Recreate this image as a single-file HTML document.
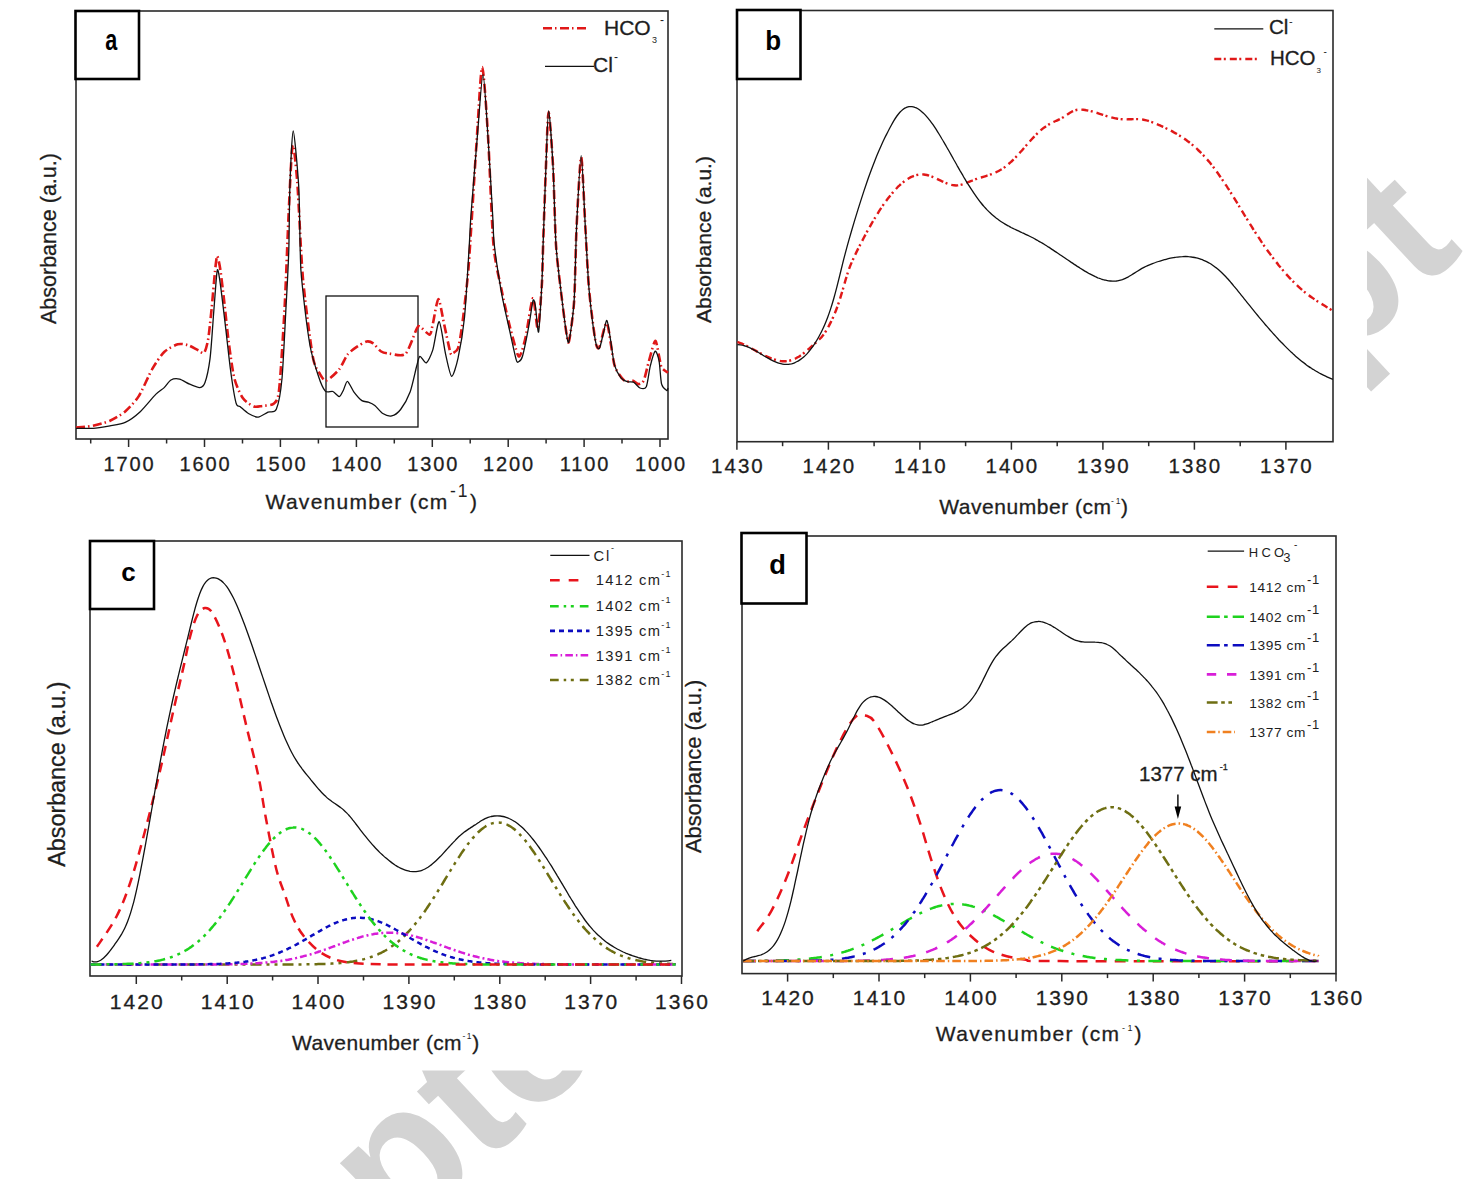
<!DOCTYPE html>
<html><head><meta charset="utf-8"><style>
html,body{margin:0;padding:0;background:#fff;width:1470px;height:1179px;overflow:hidden}
svg{display:block;font-family:"Liberation Sans",sans-serif}
text.t{stroke:#1e1e1e;stroke-width:0.3px}
</style></head><body>
<svg width="1470" height="1179" viewBox="0 0 1470 1179">
<rect width="1470" height="1179" fill="#fff"/>
<clipPath id="wmclip"><path clip-rule="evenodd" d="M0,0 H1470 V1179 H0 Z M0,0 H1367 V1070.6 H0 Z"/></clipPath><g clip-path="url(#wmclip)"><text transform="translate(68.7,1552.5) rotate(-43)" font-size="188.8" font-weight="700" fill="#d3d3d3" style="stroke:none">Accepted Manuscript</text></g>
<rect x="76.0" y="11.0" width="592.0" height="428.0" stroke="#2a2a2a" stroke-width="1.6" fill="none"/>
<line x1="128.6" y1="439.0" x2="128.6" y2="447.0" stroke="#2a2a2a" stroke-width="1.5" />
<line x1="204.5" y1="439.0" x2="204.5" y2="447.0" stroke="#2a2a2a" stroke-width="1.5" />
<line x1="280.4" y1="439.0" x2="280.4" y2="447.0" stroke="#2a2a2a" stroke-width="1.5" />
<line x1="356.4" y1="439.0" x2="356.4" y2="447.0" stroke="#2a2a2a" stroke-width="1.5" />
<line x1="432.3" y1="439.0" x2="432.3" y2="447.0" stroke="#2a2a2a" stroke-width="1.5" />
<line x1="508.2" y1="439.0" x2="508.2" y2="447.0" stroke="#2a2a2a" stroke-width="1.5" />
<line x1="584.1" y1="439.0" x2="584.1" y2="447.0" stroke="#2a2a2a" stroke-width="1.5" />
<line x1="660.0" y1="439.0" x2="660.0" y2="447.0" stroke="#2a2a2a" stroke-width="1.5" />
<line x1="90.7" y1="439.0" x2="90.7" y2="443.5" stroke="#2a2a2a" stroke-width="1.5" />
<line x1="166.6" y1="439.0" x2="166.6" y2="443.5" stroke="#2a2a2a" stroke-width="1.5" />
<line x1="242.5" y1="439.0" x2="242.5" y2="443.5" stroke="#2a2a2a" stroke-width="1.5" />
<line x1="318.4" y1="439.0" x2="318.4" y2="443.5" stroke="#2a2a2a" stroke-width="1.5" />
<line x1="394.3" y1="439.0" x2="394.3" y2="443.5" stroke="#2a2a2a" stroke-width="1.5" />
<line x1="470.2" y1="439.0" x2="470.2" y2="443.5" stroke="#2a2a2a" stroke-width="1.5" />
<line x1="546.1" y1="439.0" x2="546.1" y2="443.5" stroke="#2a2a2a" stroke-width="1.5" />
<line x1="622.0" y1="439.0" x2="622.0" y2="443.5" stroke="#2a2a2a" stroke-width="1.5" />
<text class="t" x="129.6" y="470.9" font-size="20" text-anchor="middle" font-weight="400" letter-spacing="1.87" fill="#1e1e1e" >1700</text>
<text class="t" x="205.5" y="470.9" font-size="20" text-anchor="middle" font-weight="400" letter-spacing="1.87" fill="#1e1e1e" >1600</text>
<text class="t" x="281.4" y="470.9" font-size="20" text-anchor="middle" font-weight="400" letter-spacing="1.87" fill="#1e1e1e" >1500</text>
<text class="t" x="357.3" y="470.9" font-size="20" text-anchor="middle" font-weight="400" letter-spacing="1.87" fill="#1e1e1e" >1400</text>
<text class="t" x="433.2" y="470.9" font-size="20" text-anchor="middle" font-weight="400" letter-spacing="1.87" fill="#1e1e1e" >1300</text>
<text class="t" x="509.1" y="470.9" font-size="20" text-anchor="middle" font-weight="400" letter-spacing="1.87" fill="#1e1e1e" >1200</text>
<text class="t" x="585.0" y="470.9" font-size="20" text-anchor="middle" font-weight="400" letter-spacing="1.87" fill="#1e1e1e" >1100</text>
<text class="t" x="660.9" y="470.9" font-size="20" text-anchor="middle" font-weight="400" letter-spacing="1.87" fill="#1e1e1e" >1000</text>
<text class="t" x="265.6" y="509" font-size="21" letter-spacing="1.28" fill="#1e1e1e">Wavenumber (cm</text>
<text x="450" y="497" font-size="17.5" letter-spacing="2" fill="#1e1e1e">-1</text>
<text class="t" x="477" y="509" font-size="21" text-anchor="end" fill="#1e1e1e">)</text>
<text class="t" transform="translate(56.3,324) rotate(-90)" font-size="21.5" letter-spacing="0" fill="#1e1e1e">Absorbance (a.u.)</text>
<rect x="75.5" y="11.0" width="63.5" height="68.0" stroke="#000" stroke-width="2.6" fill="#fff"/>
<text transform="translate(111.2,50.3) scale(0.83,1.16)" font-size="26" text-anchor="middle" font-weight="700" fill="#000">a</text>
<rect x="326.0" y="296.0" width="92.0" height="131.0" stroke="#111" stroke-width="1.3" fill="none"/>
<path d="M76.0,427.5 C78.1,427.3 88.8,426.7 93.0,425.8 C97.2,424.9 106.0,422.5 110.0,420.7 C114.0,418.9 121.6,414.5 125.2,411.4 C128.8,408.3 135.4,401.4 138.8,396.1 C142.2,390.8 149.1,374.4 152.3,368.9 C155.5,363.4 161.0,355.1 164.2,352.0 C167.4,348.9 174.8,345.2 177.8,344.3 C180.8,343.4 185.4,344.4 188.0,345.2 C190.6,345.9 196.2,349.4 198.2,350.3 C200.2,351.2 202.8,354.3 204.1,352.8 C205.4,351.3 207.4,344.0 208.3,338.4 C209.2,332.8 210.8,316.4 211.7,307.9 C212.5,299.4 214.4,277.0 215.1,270.5 C215.8,264.0 216.6,256.3 217.2,256.1 C217.8,255.9 219.4,263.8 220.2,268.8 C221.0,273.8 222.5,286.9 223.6,296.0 C224.7,305.1 227.3,331.5 228.7,341.8 C230.0,352.1 232.6,371.5 234.4,378.5 C236.2,385.5 240.4,394.6 242.8,398.1 C245.2,401.6 251.6,405.5 254.0,406.5 C256.4,407.5 259.9,406.2 262.4,405.9 C264.8,405.5 271.5,405.7 273.6,403.7 C275.7,401.7 277.7,401.9 279.1,389.7 C280.5,377.5 283.5,328.5 284.7,305.8 C285.9,283.1 287.9,228.0 288.9,207.9 C289.9,187.8 291.6,148.6 292.6,145.4 C293.7,142.2 296.0,166.1 297.3,182.7 C298.6,199.2 301.0,256.1 302.9,277.8 C304.8,299.5 310.6,344.2 312.7,356.2 C314.8,368.2 318.3,371.1 320.0,374.1 C321.7,377.1 324.0,381.1 326.4,380.5 C328.8,379.9 336.7,372.4 339.3,369.2 C341.9,366.0 345.2,357.5 347.4,354.7 C349.6,351.9 354.7,348.3 357.1,346.7 C359.5,345.1 364.7,341.9 366.7,341.5 C368.7,341.1 371.4,342.1 373.2,343.4 C375.0,344.6 379.2,350.2 381.2,351.5 C383.2,352.8 386.3,353.3 389.3,353.6 C392.3,353.9 402.0,357.0 405.4,353.9 C408.8,350.8 414.9,332.3 416.7,328.9 C418.5,325.5 418.3,325.8 419.9,326.5 C421.5,327.2 428.0,334.9 429.6,334.6 C431.2,334.3 431.7,328.5 432.8,324.1 C433.9,319.7 437.0,299.1 438.4,299.1 C439.8,299.1 442.6,317.4 444.1,324.1 C445.6,330.9 449.4,349.5 450.5,353.1 C451.6,356.7 452.2,353.6 453.2,353.0 C454.1,352.4 457.0,351.5 458.1,348.1 C459.2,344.7 460.9,334.5 462.1,325.6 C463.3,316.7 466.7,287.3 467.7,277.2 C468.7,267.1 468.9,262.7 470.1,245.0 C471.3,227.3 475.5,157.8 477.0,135.6 C478.5,113.4 480.8,67.1 482.2,67.1 C483.6,67.1 486.6,113.4 488.0,135.6 C489.4,157.8 491.8,225.7 493.5,245.0 C495.2,264.3 499.6,280.0 501.6,290.1 C503.6,300.2 507.6,317.5 509.6,325.6 C511.6,333.7 516.3,351.1 517.7,354.6 C519.1,358.1 519.9,355.9 520.9,353.7 C521.9,351.5 524.2,343.7 525.7,336.8 C527.2,329.9 531.5,299.2 533.0,298.2 C534.5,297.2 536.7,330.4 537.8,328.8 C538.9,327.2 541.1,295.8 541.8,285.3 C542.5,274.8 542.6,259.7 543.1,245.0 C543.6,230.3 545.2,184.4 545.9,167.8 C546.6,151.2 547.7,112.0 548.6,112.0 C549.5,112.0 552.2,151.2 553.1,167.8 C554.0,184.4 555.0,229.3 556.0,245.0 C557.0,260.7 560.0,282.6 561.2,293.3 C562.5,304.0 565.0,324.3 566.0,330.4 C567.0,336.4 567.9,345.3 568.9,341.7 C569.9,338.1 573.1,315.8 574.1,301.4 C575.1,287.0 575.7,244.4 576.6,226.3 C577.5,208.2 580.1,157.0 581.2,157.0 C582.3,157.0 584.3,209.7 585.3,226.3 C586.3,242.9 587.8,275.7 589.1,290.0 C590.4,304.3 594.1,333.7 595.4,340.9 C596.7,348.1 597.9,349.5 599.3,347.3 C600.7,345.1 605.0,320.9 606.9,323.1 C608.8,325.3 612.3,357.9 614.5,365.1 C616.7,372.3 622.5,379.1 624.7,381.0 C626.9,382.9 630.5,380.2 632.3,380.6 C634.0,381.0 637.3,384.1 638.7,384.1 C640.1,384.1 642.5,383.2 643.8,380.3 C645.1,377.4 647.5,366.1 648.9,361.2 C650.3,356.3 653.9,341.5 655.2,340.9 C656.5,340.3 658.3,352.9 659.1,356.2 C659.9,359.5 660.5,365.5 661.6,367.6 C662.7,369.7 667.2,372.1 668.0,372.7" fill="none" stroke="#e01818" stroke-width="2.6" stroke-dasharray="9 3 1.5 3.5" stroke-linejoin="round" />
<path d="M76.0,428.3 C78.1,428.3 88.8,428.6 93.0,428.3 C97.2,428.0 106.0,426.5 110.0,425.8 C114.0,425.1 121.4,424.2 125.2,422.4 C129.0,420.6 136.7,414.9 140.5,411.4 C144.3,407.9 152.7,397.4 155.7,394.4 C158.7,391.4 162.3,389.4 164.2,387.6 C166.1,385.8 169.1,381.1 171.0,380.0 C172.9,378.9 177.2,378.6 179.5,379.1 C181.8,379.6 187.1,383.1 189.7,384.2 C192.2,385.3 198.0,387.8 199.9,387.6 C201.8,387.4 203.7,386.1 205.0,382.5 C206.3,378.9 208.9,367.1 210.0,358.8 C211.1,350.5 212.7,325.9 213.4,316.3 C214.2,306.8 215.5,288.2 216.0,282.4 C216.5,276.6 217.1,268.8 217.7,269.7 C218.3,270.6 220.1,282.3 221.0,289.2 C221.9,296.1 224.1,314.8 225.3,324.8 C226.5,334.8 229.1,359.2 230.4,369.0 C231.7,378.8 234.8,398.2 236.0,402.9 C237.2,407.6 238.4,405.2 240.0,406.5 C241.6,407.8 246.1,412.2 248.4,413.5 C250.7,414.8 255.8,417.3 258.2,417.1 C260.6,416.9 265.7,413.1 268.0,412.1 C270.3,411.1 274.6,413.5 276.3,409.3 C278.1,405.1 280.8,391.4 282.0,378.5 C283.2,365.6 285.2,321.9 286.1,305.8 C287.0,289.7 288.3,264.9 288.8,250.0 C289.3,235.1 289.3,201.1 289.9,186.2 C290.4,171.3 292.1,131.0 293.2,131.0 C294.3,131.0 297.8,171.3 298.7,186.2 C299.6,201.1 299.8,238.6 300.2,250.0 C300.6,261.4 300.3,265.9 301.5,277.8 C302.7,289.7 307.8,332.8 309.9,345.0 C312.0,357.2 316.4,369.9 318.3,375.7 C320.2,381.5 323.5,389.1 325.3,391.1 C327.1,393.1 331.1,390.8 332.9,391.5 C334.6,392.2 338.0,396.8 339.3,396.6 C340.6,396.4 342.4,392.1 343.4,390.2 C344.4,388.3 346.1,381.1 347.4,381.3 C348.7,381.5 352.0,389.4 353.8,391.8 C355.6,394.2 360.1,399.3 361.9,400.6 C363.7,401.9 366.7,401.6 368.3,402.2 C369.9,402.8 373.0,404.1 374.8,405.5 C376.6,406.9 380.7,412.2 382.8,413.5 C384.9,414.8 389.5,416.4 391.7,415.9 C393.9,415.4 398.3,412.5 400.6,409.5 C402.9,406.5 408.2,397.2 410.2,391.8 C412.2,386.4 415.5,370.4 416.7,366.0 C417.9,361.6 418.7,356.7 419.9,356.3 C421.1,355.9 424.7,363.6 426.3,362.8 C427.9,362.0 431.2,355.0 432.8,349.9 C434.4,344.8 437.6,321.1 439.2,321.7 C440.8,322.3 444.1,347.9 445.7,354.7 C447.2,361.5 450.1,375.9 451.6,376.3 C453.2,376.7 456.5,365.2 458.1,357.8 C459.7,350.4 463.1,331.6 464.5,317.5 C465.9,303.4 468.5,257.7 469.3,245.0 C470.1,232.3 469.9,229.7 470.9,216.0 C471.9,202.3 475.9,153.3 477.4,135.6 C478.9,117.9 481.7,74.3 483.0,74.3 C484.3,74.3 486.7,117.9 487.9,135.6 C489.1,153.3 491.9,202.3 492.7,216.0 C493.5,229.7 493.2,235.3 494.3,245.0 C495.4,254.7 499.7,282.6 501.6,293.3 C503.5,304.0 507.8,322.1 509.6,330.4 C511.4,338.7 515.0,355.5 516.1,359.4 C517.2,363.3 517.7,362.2 518.5,361.8 C519.3,361.4 521.2,360.7 522.5,356.2 C523.8,351.7 527.6,332.6 528.9,325.6 C530.2,318.7 532.2,303.0 533.0,300.6 C533.8,298.2 534.7,302.3 535.4,306.2 C536.1,310.1 537.8,334.6 538.6,332.0 C539.4,329.4 541.2,296.2 541.8,285.3 C542.4,274.4 542.6,259.7 543.1,245.0 C543.6,230.3 545.2,184.6 545.9,167.8 C546.6,151.0 547.7,110.6 548.6,110.6 C549.5,110.6 552.2,151.0 553.1,167.8 C554.0,184.6 555.0,229.3 556.0,245.0 C557.0,260.7 560.0,282.6 561.2,293.3 C562.5,304.0 565.0,324.3 566.0,330.4 C567.0,336.4 567.9,345.3 568.9,341.7 C569.9,338.1 573.1,315.8 574.1,301.4 C575.1,287.0 575.7,244.5 576.6,226.3 C577.5,208.1 580.1,155.7 581.2,155.7 C582.3,155.7 584.3,209.5 585.3,226.3 C586.3,243.1 587.8,275.7 589.1,290.0 C590.4,304.3 594.1,333.6 595.4,340.9 C596.7,348.2 598.3,349.3 599.3,348.5 C600.3,347.7 602.1,338.0 603.1,334.5 C604.1,331.0 605.9,319.7 606.9,320.5 C607.9,321.3 609.8,335.3 610.7,340.9 C611.7,346.5 613.2,360.5 614.5,365.1 C615.8,369.7 619.3,375.7 620.9,377.8 C622.5,379.9 625.7,381.1 627.3,381.6 C628.9,382.2 632.0,381.4 633.6,382.2 C635.2,383.0 638.4,387.4 640.0,388.0 C641.6,388.6 645.0,389.4 646.3,386.7 C647.6,384.0 649.1,370.8 650.2,366.3 C651.3,361.9 654.1,351.7 655.2,351.1 C656.3,350.5 658.3,357.1 659.1,361.2 C659.9,365.3 660.6,380.4 661.6,384.1 C662.6,387.8 665.9,390.0 666.7,390.5 C667.5,391.0 667.8,388.3 668.0,388.0" fill="none" stroke="#111" stroke-width="1.3"  stroke-linejoin="round" />
<line x1="543.0" y1="28.3" x2="589.0" y2="28.3" stroke="#e01818" stroke-width="2.6" stroke-dasharray="9 3 1.5 3.5"/>
<text class="t" x="604.0" y="34.5" font-size="21" text-anchor="start" font-weight="400" letter-spacing="0" fill="#1e1e1e" >HCO</text>
<text x="652.0" y="43.0" font-size="9" text-anchor="start" font-weight="400" letter-spacing="0" fill="#1e1e1e" >3</text>
<text x="660.0" y="24.0" font-size="12" text-anchor="start" font-weight="400" letter-spacing="0" fill="#1e1e1e" >-</text>
<line x1="545.0" y1="66.3" x2="594.0" y2="66.3" stroke="#111" stroke-width="1.3" />
<text class="t" x="593.0" y="71.6" font-size="21" text-anchor="start" font-weight="400" letter-spacing="0" fill="#1e1e1e" >Cl</text>
<text x="614.0" y="61.0" font-size="12" text-anchor="start" font-weight="400" letter-spacing="0" fill="#1e1e1e" >-</text>
<rect x="737.0" y="10.5" width="596.0" height="431.2" stroke="#2a2a2a" stroke-width="1.6" fill="none"/>
<line x1="736.9" y1="441.7" x2="736.9" y2="449.7" stroke="#2a2a2a" stroke-width="1.5" />
<line x1="828.4" y1="441.7" x2="828.4" y2="449.7" stroke="#2a2a2a" stroke-width="1.5" />
<line x1="919.9" y1="441.7" x2="919.9" y2="449.7" stroke="#2a2a2a" stroke-width="1.5" />
<line x1="1011.4" y1="441.7" x2="1011.4" y2="449.7" stroke="#2a2a2a" stroke-width="1.5" />
<line x1="1102.9" y1="441.7" x2="1102.9" y2="449.7" stroke="#2a2a2a" stroke-width="1.5" />
<line x1="1194.4" y1="441.7" x2="1194.4" y2="449.7" stroke="#2a2a2a" stroke-width="1.5" />
<line x1="1285.9" y1="441.7" x2="1285.9" y2="449.7" stroke="#2a2a2a" stroke-width="1.5" />
<line x1="782.6" y1="441.7" x2="782.6" y2="446.2" stroke="#2a2a2a" stroke-width="1.5" />
<line x1="874.1" y1="441.7" x2="874.1" y2="446.2" stroke="#2a2a2a" stroke-width="1.5" />
<line x1="965.6" y1="441.7" x2="965.6" y2="446.2" stroke="#2a2a2a" stroke-width="1.5" />
<line x1="1057.2" y1="441.7" x2="1057.2" y2="446.2" stroke="#2a2a2a" stroke-width="1.5" />
<line x1="1148.7" y1="441.7" x2="1148.7" y2="446.2" stroke="#2a2a2a" stroke-width="1.5" />
<line x1="1240.2" y1="441.7" x2="1240.2" y2="446.2" stroke="#2a2a2a" stroke-width="1.5" />
<text class="t" x="737.9" y="472.6" font-size="20.5" text-anchor="middle" font-weight="400" letter-spacing="2.0" fill="#1e1e1e" >1430</text>
<text class="t" x="829.4" y="472.6" font-size="20.5" text-anchor="middle" font-weight="400" letter-spacing="2.0" fill="#1e1e1e" >1420</text>
<text class="t" x="920.9" y="472.6" font-size="20.5" text-anchor="middle" font-weight="400" letter-spacing="2.0" fill="#1e1e1e" >1410</text>
<text class="t" x="1012.4" y="472.6" font-size="20.5" text-anchor="middle" font-weight="400" letter-spacing="2.0" fill="#1e1e1e" >1400</text>
<text class="t" x="1103.9" y="472.6" font-size="20.5" text-anchor="middle" font-weight="400" letter-spacing="2.0" fill="#1e1e1e" >1390</text>
<text class="t" x="1195.4" y="472.6" font-size="20.5" text-anchor="middle" font-weight="400" letter-spacing="2.0" fill="#1e1e1e" >1380</text>
<text class="t" x="1286.9" y="472.6" font-size="20.5" text-anchor="middle" font-weight="400" letter-spacing="2.0" fill="#1e1e1e" >1370</text>
<text class="t" x="939.3" y="514.3" font-size="21" letter-spacing="0.53" fill="#1e1e1e">Wavenumber (cm</text>
<text x="1111" y="504.3" font-size="8.5" letter-spacing="2" fill="#1e1e1e">-1</text>
<text class="t" x="1127.9" y="514.3" font-size="21" text-anchor="end" fill="#1e1e1e">)</text>
<text class="t" transform="translate(711.4,323) rotate(-90)" font-size="21" fill="#1e1e1e">Absorbance (a.u.)</text>
<path d="M737.5,341.9 C738.0,342.1 739.5,342.6 740.5,343.0 C741.5,343.4 742.5,343.9 743.5,344.3 C744.5,344.8 745.5,345.3 746.5,345.8 C747.5,346.3 748.5,346.8 749.5,347.4 C750.5,347.9 751.5,348.4 752.5,349.0 C753.5,349.5 754.5,350.1 755.5,350.6 C756.5,351.2 757.5,351.8 758.5,352.3 C759.6,352.8 760.6,353.4 761.6,353.9 C762.6,354.4 763.6,355.0 764.6,355.5 C765.6,356.0 766.6,356.4 767.6,356.9 C768.6,357.4 769.6,357.8 770.6,358.2 C771.6,358.6 772.6,359.0 773.6,359.3 C774.6,359.6 775.6,359.9 776.6,360.2 C777.6,360.4 778.6,360.6 779.6,360.8 C780.6,361.0 781.6,361.1 782.6,361.2 C783.6,361.2 784.6,361.2 785.6,361.2 C786.6,361.1 787.6,361.0 788.6,360.8 C789.6,360.7 790.6,360.4 791.6,360.1 C792.6,359.8 793.6,359.4 794.6,358.9 C795.6,358.5 796.6,357.9 797.6,357.3 C798.6,356.8 799.6,356.1 800.6,355.4 C801.7,354.7 802.7,354.0 803.7,353.2 C804.7,352.4 805.7,351.6 806.7,350.8 C807.7,349.9 808.7,349.0 809.7,348.2 C810.7,347.3 811.7,346.4 812.7,345.5 C813.7,344.6 814.7,343.7 815.7,342.8 C816.7,341.9 817.7,341.0 818.7,340.0 C819.7,339.0 820.7,338.1 821.7,336.9 C822.7,335.7 823.7,334.5 824.7,333.0 C825.7,331.6 826.7,329.9 827.7,328.2 C828.7,326.4 829.7,324.4 830.7,322.4 C831.7,320.4 832.7,318.2 833.7,315.9 C834.7,313.6 835.7,311.2 836.7,308.5 C837.7,305.9 838.7,303.0 839.7,299.9 C840.7,296.8 841.7,293.3 842.7,289.9 C843.7,286.4 844.8,282.6 845.8,279.2 C846.8,275.9 847.8,272.5 848.8,269.6 C849.8,266.8 850.8,264.4 851.8,262.1 C852.8,259.7 853.8,257.7 854.8,255.6 C855.8,253.4 856.8,251.4 857.8,249.4 C858.8,247.4 859.8,245.5 860.8,243.5 C861.8,241.6 862.8,239.7 863.8,237.8 C864.8,235.9 865.8,234.0 866.8,232.2 C867.8,230.4 868.8,228.6 869.8,226.8 C870.8,225.0 871.8,223.3 872.8,221.5 C873.8,219.8 874.8,218.2 875.8,216.5 C876.8,214.9 877.8,213.3 878.8,211.7 C879.8,210.1 880.8,208.6 881.8,207.1 C882.8,205.6 883.8,204.1 884.8,202.7 C885.8,201.3 886.9,199.9 887.9,198.6 C888.9,197.3 889.9,196.0 890.9,194.8 C891.9,193.5 892.9,192.4 893.9,191.2 C894.9,190.1 895.9,189.0 896.9,188.0 C897.9,186.9 898.9,186.0 899.9,185.0 C900.9,184.1 901.9,183.2 902.9,182.4 C903.9,181.6 904.9,180.8 905.9,180.1 C906.9,179.4 907.9,178.8 908.9,178.2 C909.9,177.6 910.9,177.1 911.9,176.7 C912.9,176.2 913.9,175.8 914.9,175.5 C915.9,175.2 916.9,174.9 917.9,174.8 C918.9,174.6 919.9,174.5 920.9,174.4 C921.9,174.4 922.9,174.4 923.9,174.5 C924.9,174.6 925.9,174.8 926.9,175.0 C927.9,175.3 929.0,175.6 930.0,175.9 C931.0,176.3 932.0,176.7 933.0,177.1 C934.0,177.5 935.0,178.0 936.0,178.4 C937.0,178.9 938.0,179.4 939.0,179.9 C940.0,180.4 941.0,180.9 942.0,181.3 C943.0,181.8 944.0,182.3 945.0,182.7 C946.0,183.1 947.0,183.5 948.0,183.9 C949.0,184.2 950.0,184.6 951.0,184.8 C952.0,185.0 953.0,185.2 954.0,185.3 C955.0,185.4 956.0,185.5 957.0,185.4 C958.0,185.4 959.0,185.2 960.0,185.0 C961.0,184.8 962.0,184.5 963.0,184.2 C964.0,183.9 965.0,183.5 966.0,183.1 C967.0,182.7 968.0,182.3 969.0,181.8 C970.0,181.4 971.0,181.0 972.1,180.6 C973.1,180.2 974.1,179.8 975.1,179.5 C976.1,179.1 977.1,178.8 978.1,178.4 C979.1,178.1 980.1,177.8 981.1,177.5 C982.1,177.2 983.1,176.9 984.1,176.6 C985.1,176.3 986.1,176.0 987.1,175.6 C988.1,175.3 989.1,175.0 990.1,174.6 C991.1,174.3 992.1,173.9 993.1,173.5 C994.1,173.1 995.1,172.7 996.1,172.2 C997.1,171.8 998.1,171.3 999.1,170.7 C1000.1,170.2 1001.1,169.6 1002.1,169.0 C1003.1,168.3 1004.1,167.7 1005.1,166.9 C1006.1,166.2 1007.1,165.4 1008.1,164.5 C1009.1,163.7 1010.1,162.7 1011.1,161.8 C1012.1,160.9 1013.1,159.8 1014.2,158.8 C1015.2,157.8 1016.2,156.7 1017.2,155.7 C1018.2,154.6 1019.2,153.5 1020.2,152.3 C1021.2,151.2 1022.2,150.1 1023.2,148.9 C1024.2,147.8 1025.2,146.6 1026.2,145.5 C1027.2,144.4 1028.2,143.2 1029.2,142.1 C1030.2,141.0 1031.2,139.9 1032.2,138.8 C1033.2,137.7 1034.2,136.6 1035.2,135.6 C1036.2,134.6 1037.2,133.6 1038.2,132.6 C1039.2,131.7 1040.2,130.7 1041.2,129.9 C1042.2,129.0 1043.2,128.2 1044.2,127.5 C1045.2,126.7 1046.2,126.0 1047.2,125.4 C1048.2,124.8 1049.2,124.2 1050.2,123.7 C1051.2,123.2 1052.2,122.7 1053.2,122.2 C1054.2,121.7 1055.2,121.3 1056.2,120.8 C1057.3,120.4 1058.3,119.9 1059.3,119.4 C1060.3,118.9 1061.3,118.4 1062.3,117.8 C1063.3,117.2 1064.3,116.5 1065.3,115.9 C1066.3,115.2 1067.3,114.5 1068.3,113.9 C1069.3,113.2 1070.3,112.6 1071.3,112.0 C1072.3,111.5 1073.3,111.0 1074.3,110.6 C1075.3,110.3 1076.3,110.0 1077.3,109.8 C1078.3,109.7 1079.3,109.6 1080.3,109.6 C1081.3,109.6 1082.3,109.7 1083.3,109.8 C1084.3,109.9 1085.3,110.0 1086.3,110.2 C1087.3,110.3 1088.3,110.6 1089.3,110.8 C1090.3,111.0 1091.3,111.3 1092.3,111.5 C1093.3,111.8 1094.3,112.1 1095.3,112.4 C1096.3,112.7 1097.3,113.0 1098.3,113.3 C1099.4,113.7 1100.4,114.0 1101.4,114.3 C1102.4,114.6 1103.4,115.0 1104.4,115.3 C1105.4,115.6 1106.4,116.0 1107.4,116.3 C1108.4,116.6 1109.4,116.9 1110.4,117.1 C1111.4,117.4 1112.4,117.7 1113.4,117.9 C1114.4,118.1 1115.4,118.4 1116.4,118.5 C1117.4,118.7 1118.4,118.9 1119.4,119.0 C1120.4,119.1 1121.4,119.2 1122.4,119.3 C1123.4,119.4 1124.4,119.4 1125.4,119.4 C1126.4,119.4 1127.4,119.4 1128.4,119.3 C1129.4,119.3 1130.4,119.3 1131.4,119.2 C1132.4,119.2 1133.4,119.1 1134.4,119.1 C1135.4,119.1 1136.4,119.1 1137.4,119.1 C1138.4,119.1 1139.4,119.1 1140.4,119.2 C1141.4,119.3 1142.5,119.5 1143.5,119.7 C1144.5,119.9 1145.5,120.1 1146.5,120.4 C1147.5,120.6 1148.5,120.9 1149.5,121.3 C1150.5,121.6 1151.5,122.0 1152.5,122.3 C1153.5,122.7 1154.5,123.1 1155.5,123.5 C1156.5,124.0 1157.5,124.4 1158.5,124.8 C1159.5,125.2 1160.5,125.7 1161.5,126.1 C1162.5,126.6 1163.5,127.0 1164.5,127.5 C1165.5,128.0 1166.5,128.5 1167.5,128.9 C1168.5,129.4 1169.5,129.9 1170.5,130.5 C1171.5,131.0 1172.5,131.5 1173.5,132.1 C1174.5,132.6 1175.5,133.2 1176.5,133.8 C1177.5,134.4 1178.5,135.0 1179.5,135.6 C1180.5,136.2 1181.5,136.9 1182.5,137.6 C1183.5,138.2 1184.6,138.9 1185.6,139.6 C1186.6,140.3 1187.6,141.1 1188.6,141.8 C1189.6,142.6 1190.6,143.4 1191.6,144.2 C1192.6,145.0 1193.6,145.9 1194.6,146.8 C1195.6,147.6 1196.6,148.5 1197.6,149.5 C1198.6,150.4 1199.6,151.4 1200.6,152.4 C1201.6,153.4 1202.6,154.4 1203.6,155.5 C1204.6,156.5 1205.6,157.7 1206.6,158.8 C1207.6,159.9 1208.6,161.1 1209.6,162.3 C1210.6,163.6 1211.6,164.8 1212.6,166.1 C1213.6,167.4 1214.6,168.7 1215.6,170.1 C1216.6,171.5 1217.6,172.9 1218.6,174.3 C1219.6,175.7 1220.6,177.2 1221.6,178.6 C1222.6,180.1 1223.6,181.6 1224.6,183.1 C1225.6,184.7 1226.7,186.2 1227.7,187.8 C1228.7,189.3 1229.7,190.9 1230.7,192.5 C1231.7,194.1 1232.7,195.7 1233.7,197.3 C1234.7,199.0 1235.7,200.6 1236.7,202.2 C1237.7,203.9 1238.7,205.5 1239.7,207.1 C1240.7,208.8 1241.7,210.4 1242.7,212.1 C1243.7,213.7 1244.7,215.4 1245.7,217.0 C1246.7,218.6 1247.7,220.3 1248.7,221.9 C1249.7,223.5 1250.7,225.1 1251.7,226.7 C1252.7,228.3 1253.7,229.9 1254.7,231.5 C1255.7,233.1 1256.7,234.6 1257.7,236.1 C1258.7,237.7 1259.7,239.2 1260.7,240.7 C1261.7,242.2 1262.7,243.7 1263.7,245.1 C1264.7,246.6 1265.7,248.0 1266.7,249.4 C1267.7,250.8 1268.7,252.2 1269.8,253.6 C1270.8,255.0 1271.8,256.3 1272.8,257.6 C1273.8,259.0 1274.8,260.3 1275.8,261.6 C1276.8,262.8 1277.8,264.1 1278.8,265.4 C1279.8,266.6 1280.8,267.8 1281.8,269.0 C1282.8,270.2 1283.8,271.4 1284.8,272.5 C1285.8,273.7 1286.8,274.8 1287.8,275.9 C1288.8,277.0 1289.8,278.1 1290.8,279.1 C1291.8,280.2 1292.8,281.2 1293.8,282.2 C1294.8,283.2 1295.8,284.2 1296.8,285.1 C1297.8,286.1 1298.8,287.0 1299.8,287.9 C1300.8,288.8 1301.8,289.7 1302.8,290.5 C1303.8,291.4 1304.8,292.2 1305.8,293.0 C1306.8,293.8 1307.8,294.6 1308.8,295.3 C1309.8,296.1 1310.8,296.8 1311.9,297.5 C1312.9,298.2 1313.9,298.9 1314.9,299.6 C1315.9,300.3 1316.9,300.9 1317.9,301.6 C1318.9,302.2 1319.9,302.9 1320.9,303.5 C1321.9,304.1 1322.9,304.7 1323.9,305.3 C1324.9,306.0 1325.9,306.6 1326.9,307.2 C1327.9,307.8 1328.9,308.4 1329.9,309.0 C1330.9,309.6 1332.4,310.5 1332.9,310.8" fill="none" stroke="#e01818" stroke-width="2.4" stroke-dasharray="7 2.5 2 4" stroke-linejoin="round" />
<path d="M737.5,344.6 C738.0,344.6 739.5,344.7 740.5,344.8 C741.5,345.0 742.5,345.2 743.5,345.5 C744.5,345.7 745.5,346.1 746.5,346.4 C747.5,346.8 748.5,347.2 749.5,347.7 C750.5,348.1 751.5,348.6 752.5,349.2 C753.5,349.7 754.5,350.2 755.5,350.8 C756.5,351.4 757.5,351.9 758.5,352.5 C759.6,353.1 760.6,353.8 761.6,354.4 C762.6,355.0 763.6,355.6 764.6,356.2 C765.6,356.8 766.6,357.4 767.6,357.9 C768.6,358.5 769.6,359.1 770.6,359.6 C771.6,360.1 772.6,360.6 773.6,361.1 C774.6,361.6 775.6,362.0 776.6,362.4 C777.6,362.8 778.6,363.1 779.6,363.4 C780.6,363.7 781.6,363.9 782.6,364.1 C783.6,364.3 784.6,364.4 785.6,364.4 C786.6,364.4 787.6,364.4 788.6,364.3 C789.6,364.2 790.6,364.0 791.6,363.8 C792.6,363.5 793.6,363.2 794.6,362.8 C795.6,362.4 796.6,361.9 797.6,361.3 C798.6,360.8 799.6,360.1 800.6,359.4 C801.7,358.7 802.7,357.9 803.7,357.0 C804.7,356.1 805.7,355.1 806.7,354.1 C807.7,353.0 808.7,351.9 809.7,350.6 C810.7,349.4 811.7,348.1 812.7,346.7 C813.7,345.2 814.7,343.7 815.7,342.1 C816.7,340.5 817.7,338.8 818.7,337.0 C819.7,335.2 820.7,333.3 821.7,331.3 C822.7,329.2 823.7,327.1 824.7,324.7 C825.7,322.4 826.7,319.9 827.7,317.2 C828.7,314.5 829.7,311.7 830.7,308.6 C831.7,305.5 832.7,302.2 833.7,298.7 C834.7,295.2 835.7,291.5 836.7,287.6 C837.7,283.7 838.7,279.6 839.7,275.6 C840.7,271.5 841.7,267.3 842.7,263.3 C843.7,259.3 844.8,255.2 845.8,251.4 C846.8,247.6 847.8,244.0 848.8,240.4 C849.8,236.9 850.8,233.4 851.8,230.0 C852.8,226.6 853.8,223.2 854.8,219.9 C855.8,216.6 856.8,213.3 857.8,210.1 C858.8,206.9 859.8,203.7 860.8,200.6 C861.8,197.5 862.8,194.4 863.8,191.4 C864.8,188.4 865.8,185.4 866.8,182.5 C867.8,179.6 868.8,176.8 869.8,174.1 C870.8,171.3 871.8,168.6 872.8,166.0 C873.8,163.4 874.8,160.8 875.8,158.3 C876.8,155.8 877.8,153.4 878.8,151.1 C879.8,148.7 880.8,146.5 881.8,144.2 C882.8,142.0 883.8,139.9 884.8,137.8 C885.8,135.7 886.9,133.7 887.9,131.7 C888.9,129.8 889.9,127.8 890.9,126.0 C891.9,124.2 892.9,122.4 893.9,120.7 C894.9,119.0 895.9,117.4 896.9,116.0 C897.9,114.6 898.9,113.3 899.9,112.2 C900.9,111.1 901.9,110.2 902.9,109.4 C903.9,108.6 904.9,108.0 905.9,107.6 C906.9,107.1 907.9,106.9 908.9,106.7 C909.9,106.5 910.9,106.5 911.9,106.6 C912.9,106.7 913.9,107.0 914.9,107.4 C915.9,107.7 916.9,108.2 917.9,108.8 C918.9,109.4 919.9,110.1 920.9,110.9 C921.9,111.7 922.9,112.7 923.9,113.6 C924.9,114.6 925.9,115.7 926.9,116.9 C927.9,118.1 929.0,119.3 930.0,120.6 C931.0,121.9 932.0,123.3 933.0,124.7 C934.0,126.2 935.0,127.7 936.0,129.2 C937.0,130.8 938.0,132.4 939.0,134.0 C940.0,135.6 941.0,137.3 942.0,139.0 C943.0,140.6 944.0,142.4 945.0,144.1 C946.0,145.8 947.0,147.6 948.0,149.3 C949.0,151.1 950.0,152.9 951.0,154.6 C952.0,156.4 953.0,158.2 954.0,160.0 C955.0,161.7 956.0,163.5 957.0,165.3 C958.0,167.0 959.0,168.8 960.0,170.6 C961.0,172.3 962.0,174.0 963.0,175.7 C964.0,177.5 965.0,179.1 966.0,180.8 C967.0,182.5 968.0,184.1 969.0,185.7 C970.0,187.3 971.0,188.9 972.1,190.4 C973.1,192.0 974.1,193.5 975.1,194.9 C976.1,196.4 977.1,197.8 978.1,199.1 C979.1,200.5 980.1,201.8 981.1,203.0 C982.1,204.3 983.1,205.5 984.1,206.6 C985.1,207.7 986.1,208.8 987.1,209.9 C988.1,210.9 989.1,211.9 990.1,212.8 C991.1,213.8 992.1,214.7 993.1,215.5 C994.1,216.4 995.1,217.2 996.1,218.0 C997.1,218.7 998.1,219.5 999.1,220.2 C1000.1,220.9 1001.1,221.6 1002.1,222.2 C1003.1,222.9 1004.1,223.5 1005.1,224.1 C1006.1,224.7 1007.1,225.3 1008.1,225.8 C1009.1,226.4 1010.1,226.9 1011.1,227.5 C1012.1,228.0 1013.1,228.5 1014.2,229.0 C1015.2,229.5 1016.2,229.9 1017.2,230.4 C1018.2,230.9 1019.2,231.4 1020.2,231.8 C1021.2,232.3 1022.2,232.7 1023.2,233.2 C1024.2,233.7 1025.2,234.1 1026.2,234.6 C1027.2,235.1 1028.2,235.6 1029.2,236.0 C1030.2,236.5 1031.2,237.0 1032.2,237.5 C1033.2,238.0 1034.2,238.6 1035.2,239.1 C1036.2,239.6 1037.2,240.2 1038.2,240.8 C1039.2,241.3 1040.2,241.9 1041.2,242.5 C1042.2,243.1 1043.2,243.7 1044.2,244.3 C1045.2,244.9 1046.2,245.6 1047.2,246.2 C1048.2,246.8 1049.2,247.5 1050.2,248.1 C1051.2,248.8 1052.2,249.5 1053.2,250.1 C1054.2,250.8 1055.2,251.5 1056.2,252.1 C1057.3,252.8 1058.3,253.5 1059.3,254.2 C1060.3,254.9 1061.3,255.5 1062.3,256.2 C1063.3,256.9 1064.3,257.6 1065.3,258.3 C1066.3,259.0 1067.3,259.7 1068.3,260.3 C1069.3,261.0 1070.3,261.7 1071.3,262.4 C1072.3,263.0 1073.3,263.7 1074.3,264.4 C1075.3,265.0 1076.3,265.7 1077.3,266.4 C1078.3,267.0 1079.3,267.6 1080.3,268.3 C1081.3,268.9 1082.3,269.5 1083.3,270.1 C1084.3,270.8 1085.3,271.4 1086.3,271.9 C1087.3,272.5 1088.3,273.1 1089.3,273.7 C1090.3,274.2 1091.3,274.7 1092.3,275.2 C1093.3,275.7 1094.3,276.2 1095.3,276.7 C1096.3,277.1 1097.3,277.6 1098.3,278.0 C1099.4,278.4 1100.4,278.7 1101.4,279.1 C1102.4,279.4 1103.4,279.7 1104.4,280.0 C1105.4,280.2 1106.4,280.5 1107.4,280.6 C1108.4,280.8 1109.4,280.9 1110.4,281.0 C1111.4,281.1 1112.4,281.2 1113.4,281.1 C1114.4,281.1 1115.4,281.1 1116.4,281.0 C1117.4,280.8 1118.4,280.7 1119.4,280.4 C1120.4,280.2 1121.4,279.9 1122.4,279.6 C1123.4,279.2 1124.4,278.8 1125.4,278.3 C1126.4,277.9 1127.4,277.3 1128.4,276.8 C1129.4,276.2 1130.4,275.6 1131.4,275.0 C1132.4,274.4 1133.4,273.8 1134.4,273.1 C1135.4,272.5 1136.4,271.9 1137.4,271.2 C1138.4,270.6 1139.4,270.0 1140.4,269.4 C1141.4,268.8 1142.5,268.2 1143.5,267.7 C1144.5,267.2 1145.5,266.6 1146.5,266.2 C1147.5,265.7 1148.5,265.2 1149.5,264.8 C1150.5,264.4 1151.5,264.0 1152.5,263.6 C1153.5,263.2 1154.5,262.8 1155.5,262.5 C1156.5,262.1 1157.5,261.8 1158.5,261.5 C1159.5,261.2 1160.5,260.9 1161.5,260.6 C1162.5,260.3 1163.5,260.0 1164.5,259.7 C1165.5,259.4 1166.5,259.2 1167.5,258.9 C1168.5,258.7 1169.5,258.5 1170.5,258.2 C1171.5,258.0 1172.5,257.8 1173.5,257.6 C1174.5,257.5 1175.5,257.3 1176.5,257.2 C1177.5,257.0 1178.5,256.9 1179.5,256.8 C1180.5,256.7 1181.5,256.6 1182.5,256.6 C1183.5,256.5 1184.6,256.5 1185.6,256.5 C1186.6,256.5 1187.6,256.6 1188.6,256.7 C1189.6,256.7 1190.6,256.8 1191.6,257.0 C1192.6,257.1 1193.6,257.3 1194.6,257.5 C1195.6,257.7 1196.6,257.9 1197.6,258.2 C1198.6,258.5 1199.6,258.8 1200.6,259.1 C1201.6,259.5 1202.6,259.8 1203.6,260.3 C1204.6,260.7 1205.6,261.2 1206.6,261.7 C1207.6,262.2 1208.6,262.7 1209.6,263.3 C1210.6,263.9 1211.6,264.5 1212.6,265.2 C1213.6,265.9 1214.6,266.6 1215.6,267.4 C1216.6,268.1 1217.6,268.9 1218.6,269.8 C1219.6,270.7 1220.6,271.6 1221.6,272.5 C1222.6,273.5 1223.6,274.5 1224.6,275.5 C1225.6,276.6 1226.7,277.6 1227.7,278.8 C1228.7,279.9 1229.7,281.0 1230.7,282.2 C1231.7,283.3 1232.7,284.5 1233.7,285.8 C1234.7,287.0 1235.7,288.2 1236.7,289.4 C1237.7,290.7 1238.7,291.9 1239.7,293.2 C1240.7,294.4 1241.7,295.7 1242.7,296.9 C1243.7,298.2 1244.7,299.4 1245.7,300.7 C1246.7,301.9 1247.7,303.2 1248.7,304.4 C1249.7,305.7 1250.7,306.9 1251.7,308.1 C1252.7,309.4 1253.7,310.6 1254.7,311.8 C1255.7,313.1 1256.7,314.3 1257.7,315.5 C1258.7,316.7 1259.7,317.9 1260.7,319.1 C1261.7,320.3 1262.7,321.5 1263.7,322.7 C1264.7,323.9 1265.7,325.0 1266.7,326.2 C1267.7,327.4 1268.7,328.5 1269.8,329.7 C1270.8,330.8 1271.8,332.0 1272.8,333.1 C1273.8,334.2 1274.8,335.3 1275.8,336.4 C1276.8,337.5 1277.8,338.6 1278.8,339.7 C1279.8,340.7 1280.8,341.8 1281.8,342.8 C1282.8,343.9 1283.8,344.9 1284.8,345.9 C1285.8,346.9 1286.8,347.9 1287.8,348.9 C1288.8,349.9 1289.8,350.8 1290.8,351.8 C1291.8,352.7 1292.8,353.6 1293.8,354.6 C1294.8,355.5 1295.8,356.3 1296.8,357.2 C1297.8,358.1 1298.8,358.9 1299.8,359.7 C1300.8,360.6 1301.8,361.4 1302.8,362.1 C1303.8,362.9 1304.8,363.7 1305.8,364.4 C1306.8,365.2 1307.8,365.9 1308.8,366.6 C1309.8,367.3 1310.8,367.9 1311.9,368.6 C1312.9,369.2 1313.9,369.9 1314.9,370.5 C1315.9,371.1 1316.9,371.7 1317.9,372.2 C1318.9,372.8 1319.9,373.4 1320.9,373.9 C1321.9,374.4 1322.9,374.9 1323.9,375.4 C1324.9,375.9 1325.9,376.4 1326.9,376.8 C1327.9,377.3 1328.9,377.7 1329.9,378.1 C1330.9,378.5 1332.4,379.1 1332.9,379.3" fill="none" stroke="#111" stroke-width="1.3"  stroke-linejoin="round" />
<line x1="1214.3" y1="28.9" x2="1263.3" y2="28.9" stroke="#111" stroke-width="1.3" />
<text class="t" x="1269.0" y="34.3" font-size="20.6" text-anchor="start" font-weight="400" letter-spacing="0" fill="#1e1e1e" >Cl</text>
<text x="1289.0" y="25.0" font-size="11" text-anchor="start" font-weight="400" letter-spacing="0" fill="#1e1e1e" >-</text>
<line x1="1214.3" y1="59.0" x2="1258.0" y2="59.0" stroke="#e01818" stroke-width="2.4" stroke-dasharray="7 2.5 2 4"/>
<text class="t" x="1270.0" y="65.2" font-size="20.5" text-anchor="start" font-weight="400" letter-spacing="0" fill="#1e1e1e" >HCO</text>
<text x="1316.5" y="72.9" font-size="8" text-anchor="start" font-weight="400" letter-spacing="0" fill="#1e1e1e" >3</text>
<text x="1323.5" y="55.0" font-size="10" text-anchor="start" font-weight="400" letter-spacing="0" fill="#1e1e1e" >-</text>
<rect x="737.0" y="10.0" width="63.5" height="69.0" stroke="#000" stroke-width="2.6" fill="#fff"/>
<text transform="translate(773.2,50) scale(1,1.09)" font-size="26" text-anchor="middle" font-weight="700" fill="#000">b</text>
<rect x="90.0" y="541.0" width="592.0" height="435.0" stroke="#2a2a2a" stroke-width="1.6" fill="none"/>
<line x1="136.3" y1="976.0" x2="136.3" y2="984.0" stroke="#2a2a2a" stroke-width="1.5" />
<line x1="227.2" y1="976.0" x2="227.2" y2="984.0" stroke="#2a2a2a" stroke-width="1.5" />
<line x1="318.0" y1="976.0" x2="318.0" y2="984.0" stroke="#2a2a2a" stroke-width="1.5" />
<line x1="408.9" y1="976.0" x2="408.9" y2="984.0" stroke="#2a2a2a" stroke-width="1.5" />
<line x1="499.8" y1="976.0" x2="499.8" y2="984.0" stroke="#2a2a2a" stroke-width="1.5" />
<line x1="590.6" y1="976.0" x2="590.6" y2="984.0" stroke="#2a2a2a" stroke-width="1.5" />
<line x1="681.5" y1="976.0" x2="681.5" y2="984.0" stroke="#2a2a2a" stroke-width="1.5" />
<line x1="181.7" y1="976.0" x2="181.7" y2="980.5" stroke="#2a2a2a" stroke-width="1.5" />
<line x1="272.6" y1="976.0" x2="272.6" y2="980.5" stroke="#2a2a2a" stroke-width="1.5" />
<line x1="363.5" y1="976.0" x2="363.5" y2="980.5" stroke="#2a2a2a" stroke-width="1.5" />
<line x1="454.3" y1="976.0" x2="454.3" y2="980.5" stroke="#2a2a2a" stroke-width="1.5" />
<line x1="545.2" y1="976.0" x2="545.2" y2="980.5" stroke="#2a2a2a" stroke-width="1.5" />
<line x1="636.1" y1="976.0" x2="636.1" y2="980.5" stroke="#2a2a2a" stroke-width="1.5" />
<text class="t" x="137.3" y="1009.0" font-size="21" text-anchor="middle" font-weight="400" letter-spacing="2.07" fill="#1e1e1e" >1420</text>
<text class="t" x="228.2" y="1009.0" font-size="21" text-anchor="middle" font-weight="400" letter-spacing="2.07" fill="#1e1e1e" >1410</text>
<text class="t" x="319.1" y="1009.0" font-size="21" text-anchor="middle" font-weight="400" letter-spacing="2.07" fill="#1e1e1e" >1400</text>
<text class="t" x="409.9" y="1009.0" font-size="21" text-anchor="middle" font-weight="400" letter-spacing="2.07" fill="#1e1e1e" >1390</text>
<text class="t" x="500.8" y="1009.0" font-size="21" text-anchor="middle" font-weight="400" letter-spacing="2.07" fill="#1e1e1e" >1380</text>
<text class="t" x="591.7" y="1009.0" font-size="21" text-anchor="middle" font-weight="400" letter-spacing="2.07" fill="#1e1e1e" >1370</text>
<text class="t" x="682.5" y="1009.0" font-size="21" text-anchor="middle" font-weight="400" letter-spacing="2.07" fill="#1e1e1e" >1360</text>
<text class="t" x="292.1" y="1050" font-size="21" letter-spacing="0.35" fill="#1e1e1e">Wavenumber (cm</text>
<text x="462.5" y="1039.3" font-size="8.5" letter-spacing="1.5" fill="#1e1e1e">-1</text>
<text class="t" x="479.3" y="1050" font-size="21" text-anchor="end" fill="#1e1e1e">)</text>
<text class="t" transform="translate(64.7,866.7) rotate(-90)" font-size="23.3" fill="#1e1e1e">Absorbance (a.u.)</text>
<path d="M90.5,964.5 C90.9,964.5 92.2,964.5 93.0,964.5 C93.8,964.5 94.7,964.5 95.5,964.5 C96.3,964.5 97.2,964.5 98.0,964.5 C98.8,964.5 99.7,964.5 100.5,964.5 C101.3,964.5 102.2,964.5 103.0,964.5 C103.8,964.5 104.7,964.5 105.5,964.5 C106.3,964.5 107.2,964.5 108.0,964.5 C108.8,964.5 109.7,964.5 110.5,964.5 C111.3,964.5 112.2,964.5 113.0,964.5 C113.8,964.5 114.7,964.5 115.5,964.5 C116.3,964.5 117.2,964.5 118.0,964.5 C118.8,964.5 119.7,964.5 120.5,964.5 C121.3,964.5 122.2,964.5 123.0,964.5 C123.8,964.5 124.7,964.5 125.5,964.5 C126.3,964.5 127.2,964.5 128.0,964.5 C128.8,964.5 129.7,964.5 130.5,964.5 C131.3,964.5 132.2,964.5 133.0,964.5 C133.8,964.5 134.7,964.5 135.5,964.5 C136.3,964.5 137.2,964.5 138.0,964.5 C138.8,964.5 139.7,964.5 140.5,964.5 C141.3,964.5 142.2,964.5 143.0,964.5 C143.8,964.5 144.7,964.5 145.5,964.5 C146.3,964.5 147.2,964.5 148.0,964.5 C148.8,964.5 149.7,964.5 150.5,964.5 C151.3,964.5 152.2,964.5 153.0,964.5 C153.8,964.5 154.7,964.5 155.5,964.5 C156.3,964.5 157.2,964.5 158.0,964.5 C158.8,964.5 159.7,964.5 160.5,964.5 C161.3,964.5 162.2,964.5 163.0,964.5 C163.8,964.5 164.7,964.5 165.5,964.5 C166.3,964.5 167.2,964.5 168.0,964.5 C168.8,964.5 169.7,964.5 170.5,964.5 C171.3,964.5 172.2,964.5 173.0,964.5 C173.8,964.5 174.7,964.5 175.5,964.5 C176.3,964.5 177.2,964.5 178.0,964.5 C178.8,964.5 179.7,964.5 180.5,964.5 C181.3,964.5 182.2,964.5 183.0,964.5 C183.8,964.5 184.7,964.5 185.5,964.5 C186.3,964.5 187.2,964.5 188.0,964.5 C188.8,964.5 189.7,964.5 190.5,964.5 C191.3,964.5 192.2,964.5 193.0,964.5 C193.8,964.5 194.7,964.5 195.5,964.5 C196.3,964.5 197.2,964.5 198.0,964.5 C198.8,964.5 199.7,964.5 200.5,964.5 C201.3,964.5 202.2,964.5 203.0,964.5 C203.8,964.5 204.7,964.5 205.5,964.5 C206.3,964.5 207.2,964.5 208.0,964.5 C208.8,964.5 209.7,964.5 210.5,964.5 C211.3,964.5 212.2,964.5 213.0,964.5 C213.8,964.5 214.7,964.5 215.5,964.5 C216.3,964.5 217.2,964.5 218.0,964.5 C218.8,964.5 219.7,964.5 220.5,964.5 C221.3,964.5 222.2,964.5 223.0,964.5 C223.8,964.5 224.7,964.5 225.5,964.5 C226.3,964.5 227.2,964.5 228.0,964.5 C228.8,964.5 229.7,964.5 230.5,964.5 C231.3,964.5 232.2,964.5 233.0,964.5 C233.8,964.5 234.7,964.5 235.5,964.5 C236.3,964.5 237.2,964.5 238.0,964.5 C238.8,964.5 239.7,964.5 240.5,964.5 C241.3,964.5 242.2,964.5 243.0,964.5 C243.8,964.5 244.7,964.5 245.5,964.5 C246.3,964.5 247.2,964.5 248.0,964.5 C248.8,964.5 249.7,964.5 250.5,964.5 C251.3,964.5 252.2,964.5 253.0,964.5 C253.8,964.5 254.7,964.5 255.5,964.5 C256.3,964.5 257.2,964.5 258.0,964.5 C258.8,964.5 259.7,964.5 260.5,964.5 C261.3,964.5 262.2,964.5 263.0,964.5 C263.8,964.5 264.7,964.5 265.5,964.5 C266.3,964.5 267.2,964.5 268.0,964.5 C268.8,964.5 269.7,964.5 270.5,964.5 C271.3,964.5 272.2,964.5 273.0,964.5 C273.8,964.5 274.7,964.5 275.5,964.5 C276.3,964.5 277.2,964.5 278.0,964.5 C278.8,964.5 279.7,964.5 280.5,964.5 C281.3,964.5 282.2,964.5 283.0,964.5 C283.8,964.5 284.7,964.5 285.5,964.5 C286.3,964.5 287.2,964.5 288.0,964.5 C288.8,964.5 289.7,964.4 290.5,964.4 C291.3,964.4 292.2,964.4 293.0,964.4 C293.8,964.4 294.7,964.4 295.5,964.4 C296.3,964.4 297.2,964.4 298.0,964.4 C298.8,964.4 299.7,964.4 300.5,964.4 C301.3,964.4 302.2,964.4 303.0,964.4 C303.8,964.4 304.7,964.3 305.5,964.3 C306.3,964.3 307.2,964.3 308.0,964.3 C308.8,964.3 309.7,964.3 310.5,964.3 C311.3,964.3 312.2,964.2 313.0,964.2 C313.8,964.2 314.7,964.2 315.5,964.2 C316.3,964.2 317.2,964.1 318.0,964.1 C318.8,964.1 319.7,964.1 320.5,964.1 C321.3,964.0 322.2,964.0 323.0,964.0 C323.8,963.9 324.7,963.9 325.5,963.9 C326.3,963.9 327.2,963.8 328.0,963.8 C328.8,963.7 329.7,963.7 330.5,963.7 C331.3,963.6 332.2,963.6 333.0,963.5 C333.8,963.5 334.7,963.4 335.5,963.4 C336.3,963.3 337.2,963.2 338.0,963.2 C338.8,963.1 339.7,963.0 340.5,963.0 C341.3,962.9 342.2,962.8 343.0,962.7 C343.8,962.7 344.7,962.6 345.5,962.5 C346.3,962.4 347.2,962.3 348.0,962.2 C348.8,962.1 349.7,962.0 350.5,961.8 C351.3,961.7 352.2,961.6 353.0,961.5 C353.8,961.3 354.7,961.2 355.5,961.0 C356.3,960.9 357.2,960.7 358.0,960.6 C358.8,960.4 359.7,960.2 360.5,960.0 C361.3,959.8 362.2,959.6 363.0,959.4 C363.8,959.2 364.7,959.0 365.5,958.8 C366.3,958.5 367.2,958.3 368.0,958.0 C368.8,957.8 369.7,957.5 370.5,957.2 C371.3,956.9 372.2,956.6 373.0,956.3 C373.8,956.0 374.7,955.7 375.5,955.4 C376.3,955.0 377.2,954.7 378.0,954.3 C378.8,953.9 379.7,953.5 380.5,953.1 C381.3,952.7 382.2,952.3 383.0,951.8 C383.8,951.4 384.7,950.9 385.5,950.5 C386.3,950.0 387.2,949.5 388.0,949.0 C388.8,948.4 389.7,947.9 390.5,947.3 C391.3,946.8 392.2,946.2 393.0,945.6 C393.8,945.0 394.7,944.3 395.5,943.7 C396.3,943.0 397.2,942.4 398.0,941.7 C398.8,941.0 399.7,940.3 400.5,939.5 C401.3,938.8 402.2,938.0 403.0,937.2 C403.8,936.4 404.7,935.6 405.5,934.8 C406.3,933.9 407.2,933.1 408.0,932.2 C408.8,931.3 409.7,930.4 410.5,929.5 C411.3,928.5 412.2,927.6 413.0,926.6 C413.8,925.6 414.7,924.6 415.5,923.6 C416.3,922.5 417.2,921.5 418.0,920.4 C418.8,919.3 419.7,918.3 420.5,917.1 C421.3,916.0 422.2,914.9 423.0,913.7 C423.8,912.6 424.7,911.4 425.5,910.2 C426.3,909.0 427.2,907.8 428.0,906.5 C428.8,905.3 429.7,904.0 430.5,902.8 C431.3,901.5 432.2,900.2 433.0,898.9 C433.8,897.6 434.7,896.3 435.5,895.0 C436.3,893.6 437.2,892.3 438.0,891.0 C438.8,889.6 439.7,888.3 440.5,886.9 C441.3,885.6 442.2,884.2 443.0,882.8 C443.8,881.4 444.7,880.1 445.5,878.7 C446.3,877.3 447.2,876.0 448.0,874.6 C448.8,873.2 449.7,871.9 450.5,870.5 C451.3,869.1 452.2,867.8 453.0,866.4 C453.8,865.1 454.7,863.8 455.5,862.4 C456.3,861.1 457.2,859.8 458.0,858.5 C458.8,857.2 459.7,855.9 460.5,854.7 C461.3,853.4 462.2,852.2 463.0,851.0 C463.8,849.8 464.7,848.6 465.5,847.4 C466.3,846.3 467.2,845.1 468.0,844.0 C468.8,842.9 469.7,841.9 470.5,840.8 C471.3,839.8 472.2,838.8 473.0,837.8 C473.8,836.9 474.7,835.9 475.5,835.1 C476.3,834.2 477.2,833.3 478.0,832.5 C478.8,831.7 479.7,830.9 480.5,830.2 C481.3,829.5 482.2,828.8 483.0,828.2 C483.8,827.6 484.7,827.0 485.5,826.5 C486.3,826.0 487.2,825.5 488.0,825.1 C488.8,824.6 489.7,824.3 490.5,824.0 C491.3,823.6 492.2,823.4 493.0,823.1 C493.8,822.9 494.7,822.8 495.5,822.7 C496.3,822.6 497.2,822.5 498.0,822.5 C498.8,822.5 499.7,822.6 500.5,822.7 C501.3,822.8 502.2,822.9 503.0,823.1 C503.8,823.4 504.7,823.6 505.5,824.0 C506.3,824.3 507.2,824.6 508.0,825.1 C508.8,825.5 509.7,826.0 510.5,826.5 C511.3,827.0 512.2,827.6 513.0,828.2 C513.8,828.8 514.7,829.5 515.5,830.2 C516.3,830.9 517.2,831.7 518.0,832.5 C518.8,833.3 519.7,834.2 520.5,835.1 C521.3,835.9 522.2,836.9 523.0,837.8 C523.8,838.8 524.7,839.8 525.5,840.8 C526.3,841.9 527.2,842.9 528.0,844.0 C528.8,845.1 529.7,846.3 530.5,847.4 C531.3,848.6 532.2,849.8 533.0,851.0 C533.8,852.2 534.7,853.4 535.5,854.7 C536.3,855.9 537.2,857.2 538.0,858.5 C538.8,859.8 539.7,861.1 540.5,862.4 C541.3,863.8 542.2,865.1 543.0,866.4 C543.8,867.8 544.7,869.1 545.5,870.5 C546.3,871.9 547.2,873.2 548.0,874.6 C548.8,876.0 549.7,877.3 550.5,878.7 C551.3,880.1 552.2,881.4 553.0,882.8 C553.8,884.2 554.7,885.6 555.5,886.9 C556.3,888.3 557.2,889.6 558.0,891.0 C558.8,892.3 559.7,893.6 560.5,895.0 C561.3,896.3 562.2,897.6 563.0,898.9 C563.8,900.2 564.7,901.5 565.5,902.8 C566.3,904.0 567.2,905.3 568.0,906.5 C568.8,907.8 569.7,909.0 570.5,910.2 C571.3,911.4 572.2,912.6 573.0,913.7 C573.8,914.9 574.7,916.0 575.5,917.1 C576.3,918.3 577.2,919.3 578.0,920.4 C578.8,921.5 579.7,922.5 580.5,923.6 C581.3,924.6 582.2,925.6 583.0,926.6 C583.8,927.6 584.7,928.5 585.5,929.5 C586.3,930.4 587.2,931.3 588.0,932.2 C588.8,933.1 589.7,933.9 590.5,934.8 C591.3,935.6 592.2,936.4 593.0,937.2 C593.8,938.0 594.7,938.8 595.5,939.5 C596.3,940.3 597.2,941.0 598.0,941.7 C598.8,942.4 599.7,943.0 600.5,943.7 C601.3,944.3 602.2,945.0 603.0,945.6 C603.8,946.2 604.7,946.8 605.5,947.3 C606.3,947.9 607.2,948.4 608.0,949.0 C608.8,949.5 609.7,950.0 610.5,950.5 C611.3,950.9 612.2,951.4 613.0,951.8 C613.8,952.3 614.7,952.7 615.5,953.1 C616.3,953.5 617.2,953.9 618.0,954.3 C618.8,954.7 619.7,955.0 620.5,955.4 C621.3,955.7 622.2,956.0 623.0,956.3 C623.8,956.6 624.7,956.9 625.5,957.2 C626.3,957.5 627.2,957.8 628.0,958.0 C628.8,958.3 629.7,958.5 630.5,958.8 C631.3,959.0 632.2,959.2 633.0,959.4 C633.8,959.6 634.7,959.8 635.5,960.0 C636.3,960.2 637.2,960.4 638.0,960.6 C638.8,960.7 639.7,960.9 640.5,961.0 C641.3,961.2 642.2,961.3 643.0,961.5 C643.8,961.6 644.7,961.7 645.5,961.8 C646.3,962.0 647.2,962.1 648.0,962.2 C648.8,962.3 649.7,962.4 650.5,962.5 C651.3,962.6 652.2,962.7 653.0,962.7 C653.8,962.8 654.7,962.9 655.5,963.0 C656.3,963.0 657.2,963.1 658.0,963.2 C658.8,963.2 659.7,963.3 660.5,963.4 C661.3,963.4 662.2,963.5 663.0,963.5 C663.8,963.6 664.7,963.6 665.5,963.7 C666.3,963.7 667.2,963.7 668.0,963.8 C668.8,963.8 669.7,963.9 670.5,963.9 C671.3,963.9 672.2,963.9 673.0,964.0 C673.8,964.0 675.1,964.0 675.5,964.1" fill="none" stroke="#6e6e12" stroke-width="2.5" stroke-dasharray="11 5 3 5 3 5" stroke-linejoin="round" />
<path d="M90.5,964.5 C90.9,964.5 92.2,964.5 93.0,964.5 C93.8,964.5 94.7,964.5 95.5,964.5 C96.3,964.5 97.2,964.5 98.0,964.5 C98.8,964.5 99.7,964.5 100.5,964.5 C101.3,964.5 102.2,964.5 103.0,964.5 C103.8,964.5 104.7,964.5 105.5,964.5 C106.3,964.5 107.2,964.5 108.0,964.5 C108.8,964.5 109.7,964.5 110.5,964.5 C111.3,964.5 112.2,964.5 113.0,964.5 C113.8,964.5 114.7,964.5 115.5,964.5 C116.3,964.5 117.2,964.5 118.0,964.5 C118.8,964.5 119.7,964.5 120.5,964.5 C121.3,964.5 122.2,964.5 123.0,964.5 C123.8,964.5 124.7,964.5 125.5,964.5 C126.3,964.5 127.2,964.5 128.0,964.5 C128.8,964.5 129.7,964.5 130.5,964.5 C131.3,964.5 132.2,964.5 133.0,964.5 C133.8,964.5 134.7,964.5 135.5,964.5 C136.3,964.5 137.2,964.5 138.0,964.5 C138.8,964.5 139.7,964.5 140.5,964.5 C141.3,964.5 142.2,964.5 143.0,964.5 C143.8,964.5 144.7,964.5 145.5,964.5 C146.3,964.5 147.2,964.5 148.0,964.5 C148.8,964.5 149.7,964.5 150.5,964.5 C151.3,964.5 152.2,964.5 153.0,964.5 C153.8,964.5 154.7,964.5 155.5,964.5 C156.3,964.5 157.2,964.5 158.0,964.5 C158.8,964.5 159.7,964.5 160.5,964.5 C161.3,964.5 162.2,964.5 163.0,964.5 C163.8,964.5 164.7,964.5 165.5,964.5 C166.3,964.5 167.2,964.5 168.0,964.5 C168.8,964.5 169.7,964.5 170.5,964.5 C171.3,964.5 172.2,964.5 173.0,964.5 C173.8,964.5 174.7,964.5 175.5,964.5 C176.3,964.5 177.2,964.5 178.0,964.5 C178.8,964.5 179.7,964.5 180.5,964.5 C181.3,964.5 182.2,964.5 183.0,964.5 C183.8,964.5 184.7,964.5 185.5,964.5 C186.3,964.5 187.2,964.5 188.0,964.5 C188.8,964.5 189.7,964.5 190.5,964.5 C191.3,964.5 192.2,964.5 193.0,964.5 C193.8,964.5 194.7,964.5 195.5,964.5 C196.3,964.5 197.2,964.5 198.0,964.5 C198.8,964.5 199.7,964.5 200.5,964.5 C201.3,964.5 202.2,964.5 203.0,964.4 C203.8,964.4 204.7,964.4 205.5,964.4 C206.3,964.4 207.2,964.4 208.0,964.4 C208.8,964.4 209.7,964.4 210.5,964.4 C211.3,964.4 212.2,964.4 213.0,964.4 C213.8,964.4 214.7,964.4 215.5,964.4 C216.3,964.4 217.2,964.4 218.0,964.4 C218.8,964.3 219.7,964.3 220.5,964.3 C221.3,964.3 222.2,964.3 223.0,964.3 C223.8,964.3 224.7,964.3 225.5,964.3 C226.3,964.3 227.2,964.2 228.0,964.2 C228.8,964.2 229.7,964.2 230.5,964.2 C231.3,964.2 232.2,964.2 233.0,964.1 C233.8,964.1 234.7,964.1 235.5,964.1 C236.3,964.1 237.2,964.1 238.0,964.0 C238.8,964.0 239.7,964.0 240.5,964.0 C241.3,963.9 242.2,963.9 243.0,963.9 C243.8,963.9 244.7,963.8 245.5,963.8 C246.3,963.8 247.2,963.7 248.0,963.7 C248.8,963.7 249.7,963.6 250.5,963.6 C251.3,963.5 252.2,963.5 253.0,963.5 C253.8,963.4 254.7,963.4 255.5,963.3 C256.3,963.3 257.2,963.2 258.0,963.2 C258.8,963.1 259.7,963.1 260.5,963.0 C261.3,962.9 262.2,962.9 263.0,962.8 C263.8,962.7 264.7,962.7 265.5,962.6 C266.3,962.5 267.2,962.5 268.0,962.4 C268.8,962.3 269.7,962.2 270.5,962.1 C271.3,962.0 272.2,962.0 273.0,961.9 C273.8,961.8 274.7,961.7 275.5,961.6 C276.3,961.5 277.2,961.4 278.0,961.2 C278.8,961.1 279.7,961.0 280.5,960.9 C281.3,960.8 282.2,960.6 283.0,960.5 C283.8,960.4 284.7,960.3 285.5,960.1 C286.3,960.0 287.2,959.8 288.0,959.7 C288.8,959.5 289.7,959.4 290.5,959.2 C291.3,959.1 292.2,958.9 293.0,958.7 C293.8,958.5 294.7,958.4 295.5,958.2 C296.3,958.0 297.2,957.8 298.0,957.6 C298.8,957.4 299.7,957.2 300.5,957.0 C301.3,956.8 302.2,956.6 303.0,956.4 C303.8,956.2 304.7,956.0 305.5,955.7 C306.3,955.5 307.2,955.3 308.0,955.0 C308.8,954.8 309.7,954.6 310.5,954.3 C311.3,954.1 312.2,953.8 313.0,953.6 C313.8,953.3 314.7,953.1 315.5,952.8 C316.3,952.5 317.2,952.3 318.0,952.0 C318.8,951.7 319.7,951.4 320.5,951.1 C321.3,950.9 322.2,950.6 323.0,950.3 C323.8,950.0 324.7,949.7 325.5,949.4 C326.3,949.1 327.2,948.8 328.0,948.5 C328.8,948.2 329.7,947.9 330.5,947.6 C331.3,947.3 332.2,947.0 333.0,946.7 C333.8,946.4 334.7,946.1 335.5,945.8 C336.3,945.5 337.2,945.2 338.0,944.8 C338.8,944.5 339.7,944.2 340.5,943.9 C341.3,943.6 342.2,943.3 343.0,943.0 C343.8,942.7 344.7,942.4 345.5,942.1 C346.3,941.8 347.2,941.5 348.0,941.2 C348.8,940.9 349.7,940.6 350.5,940.3 C351.3,940.0 352.2,939.8 353.0,939.5 C353.8,939.2 354.7,938.9 355.5,938.7 C356.3,938.4 357.2,938.1 358.0,937.9 C358.8,937.6 359.7,937.4 360.5,937.1 C361.3,936.9 362.2,936.7 363.0,936.4 C363.8,936.2 364.7,936.0 365.5,935.8 C366.3,935.6 367.2,935.4 368.0,935.2 C368.8,935.0 369.7,934.8 370.5,934.7 C371.3,934.5 372.2,934.3 373.0,934.2 C373.8,934.0 374.7,933.9 375.5,933.8 C376.3,933.6 377.2,933.5 378.0,933.4 C378.8,933.3 379.7,933.2 380.5,933.1 C381.3,933.0 382.2,933.0 383.0,932.9 C383.8,932.9 384.7,932.8 385.5,932.8 C386.3,932.7 387.2,932.7 388.0,932.7 C388.8,932.7 389.7,932.7 390.5,932.7 C391.3,932.7 392.2,932.8 393.0,932.8 C393.8,932.8 394.7,932.9 395.5,932.9 C396.3,933.0 397.2,933.1 398.0,933.2 C398.8,933.3 399.7,933.4 400.5,933.5 C401.3,933.6 402.2,933.7 403.0,933.8 C403.8,934.0 404.7,934.1 405.5,934.3 C406.3,934.4 407.2,934.6 408.0,934.8 C408.8,934.9 409.7,935.1 410.5,935.3 C411.3,935.5 412.2,935.7 413.0,935.9 C413.8,936.1 414.7,936.3 415.5,936.6 C416.3,936.8 417.2,937.0 418.0,937.3 C418.8,937.5 419.7,937.8 420.5,938.0 C421.3,938.3 422.2,938.6 423.0,938.8 C423.8,939.1 424.7,939.4 425.5,939.6 C426.3,939.9 427.2,940.2 428.0,940.5 C428.8,940.8 429.7,941.1 430.5,941.4 C431.3,941.7 432.2,942.0 433.0,942.3 C433.8,942.6 434.7,942.9 435.5,943.2 C436.3,943.5 437.2,943.8 438.0,944.1 C438.8,944.4 439.7,944.7 440.5,945.0 C441.3,945.3 442.2,945.6 443.0,946.0 C443.8,946.3 444.7,946.6 445.5,946.9 C446.3,947.2 447.2,947.5 448.0,947.8 C448.8,948.1 449.7,948.4 450.5,948.7 C451.3,949.0 452.2,949.3 453.0,949.6 C453.8,949.9 454.7,950.2 455.5,950.5 C456.3,950.7 457.2,951.0 458.0,951.3 C458.8,951.6 459.7,951.9 460.5,952.1 C461.3,952.4 462.2,952.7 463.0,952.9 C463.8,953.2 464.7,953.5 465.5,953.7 C466.3,954.0 467.2,954.2 468.0,954.5 C468.8,954.7 469.7,955.0 470.5,955.2 C471.3,955.4 472.2,955.7 473.0,955.9 C473.8,956.1 474.7,956.3 475.5,956.5 C476.3,956.7 477.2,956.9 478.0,957.1 C478.8,957.4 479.7,957.5 480.5,957.7 C481.3,957.9 482.2,958.1 483.0,958.3 C483.8,958.5 484.7,958.6 485.5,958.8 C486.3,959.0 487.2,959.1 488.0,959.3 C488.8,959.5 489.7,959.6 490.5,959.8 C491.3,959.9 492.2,960.1 493.0,960.2 C493.8,960.3 494.7,960.5 495.5,960.6 C496.3,960.7 497.2,960.8 498.0,961.0 C498.8,961.1 499.7,961.2 500.5,961.3 C501.3,961.4 502.2,961.5 503.0,961.6 C503.8,961.7 504.7,961.8 505.5,961.9 C506.3,962.0 507.2,962.1 508.0,962.2 C508.8,962.3 509.7,962.3 510.5,962.4 C511.3,962.5 512.2,962.6 513.0,962.6 C513.8,962.7 514.7,962.8 515.5,962.9 C516.3,962.9 517.2,963.0 518.0,963.0 C518.8,963.1 519.7,963.1 520.5,963.2 C521.3,963.3 522.2,963.3 523.0,963.4 C523.8,963.4 524.7,963.4 525.5,963.5 C526.3,963.5 527.2,963.6 528.0,963.6 C528.8,963.6 529.7,963.7 530.5,963.7 C531.3,963.7 532.2,963.8 533.0,963.8 C533.8,963.8 534.7,963.9 535.5,963.9 C536.3,963.9 537.2,964.0 538.0,964.0 C538.8,964.0 539.7,964.0 540.5,964.0 C541.3,964.1 542.2,964.1 543.0,964.1 C543.8,964.1 544.7,964.1 545.5,964.2 C546.3,964.2 547.2,964.2 548.0,964.2 C548.8,964.2 549.7,964.2 550.5,964.2 C551.3,964.3 552.2,964.3 553.0,964.3 C553.8,964.3 554.7,964.3 555.5,964.3 C556.3,964.3 557.2,964.3 558.0,964.3 C558.8,964.3 559.7,964.4 560.5,964.4 C561.3,964.4 562.2,964.4 563.0,964.4 C563.8,964.4 564.7,964.4 565.5,964.4 C566.3,964.4 567.2,964.4 568.0,964.4 C568.8,964.4 569.7,964.4 570.5,964.4 C571.3,964.4 572.2,964.4 573.0,964.4 C573.8,964.4 574.7,964.4 575.5,964.4 C576.3,964.5 577.2,964.5 578.0,964.5 C578.8,964.5 579.7,964.5 580.5,964.5 C581.3,964.5 582.2,964.5 583.0,964.5 C583.8,964.5 584.7,964.5 585.5,964.5 C586.3,964.5 587.2,964.5 588.0,964.5 C588.8,964.5 589.7,964.5 590.5,964.5 C591.3,964.5 592.2,964.5 593.0,964.5 C593.8,964.5 594.7,964.5 595.5,964.5 C596.3,964.5 597.2,964.5 598.0,964.5 C598.8,964.5 599.7,964.5 600.5,964.5 C601.3,964.5 602.2,964.5 603.0,964.5 C603.8,964.5 604.7,964.5 605.5,964.5 C606.3,964.5 607.2,964.5 608.0,964.5 C608.8,964.5 609.7,964.5 610.5,964.5 C611.3,964.5 612.2,964.5 613.0,964.5 C613.8,964.5 614.7,964.5 615.5,964.5 C616.3,964.5 617.2,964.5 618.0,964.5 C618.8,964.5 619.7,964.5 620.5,964.5 C621.3,964.5 622.2,964.5 623.0,964.5 C623.8,964.5 624.7,964.5 625.5,964.5 C626.3,964.5 627.2,964.5 628.0,964.5 C628.8,964.5 629.7,964.5 630.5,964.5 C631.3,964.5 632.2,964.5 633.0,964.5 C633.8,964.5 634.7,964.5 635.5,964.5 C636.3,964.5 637.2,964.5 638.0,964.5 C638.8,964.5 639.7,964.5 640.5,964.5 C641.3,964.5 642.2,964.5 643.0,964.5 C643.8,964.5 644.7,964.5 645.5,964.5 C646.3,964.5 647.2,964.5 648.0,964.5 C648.8,964.5 649.7,964.5 650.5,964.5 C651.3,964.5 652.2,964.5 653.0,964.5 C653.8,964.5 654.7,964.5 655.5,964.5 C656.3,964.5 657.2,964.5 658.0,964.5 C658.8,964.5 659.7,964.5 660.5,964.5 C661.3,964.5 662.2,964.5 663.0,964.5 C663.8,964.5 664.7,964.5 665.5,964.5 C666.3,964.5 667.2,964.5 668.0,964.5 C668.8,964.5 669.7,964.5 670.5,964.5 C671.3,964.5 672.2,964.5 673.0,964.5 C673.8,964.5 675.1,964.5 675.5,964.5" fill="none" stroke="#d81ed8" stroke-width="2.5" stroke-dasharray="7 3 2 3" stroke-linejoin="round" />
<path d="M90.5,964.5 C90.9,964.5 92.2,964.5 93.0,964.5 C93.8,964.5 94.7,964.5 95.5,964.5 C96.3,964.5 97.2,964.5 98.0,964.5 C98.8,964.5 99.7,964.5 100.5,964.5 C101.3,964.5 102.2,964.5 103.0,964.5 C103.8,964.5 104.7,964.5 105.5,964.5 C106.3,964.5 107.2,964.5 108.0,964.5 C108.8,964.5 109.7,964.5 110.5,964.5 C111.3,964.5 112.2,964.5 113.0,964.5 C113.8,964.5 114.7,964.5 115.5,964.5 C116.3,964.5 117.2,964.5 118.0,964.5 C118.8,964.5 119.7,964.5 120.5,964.5 C121.3,964.5 122.2,964.5 123.0,964.5 C123.8,964.5 124.7,964.5 125.5,964.5 C126.3,964.5 127.2,964.5 128.0,964.5 C128.8,964.5 129.7,964.5 130.5,964.5 C131.3,964.5 132.2,964.5 133.0,964.5 C133.8,964.5 134.7,964.5 135.5,964.5 C136.3,964.5 137.2,964.5 138.0,964.5 C138.8,964.5 139.7,964.5 140.5,964.5 C141.3,964.5 142.2,964.5 143.0,964.5 C143.8,964.5 144.7,964.5 145.5,964.5 C146.3,964.5 147.2,964.5 148.0,964.5 C148.8,964.5 149.7,964.5 150.5,964.5 C151.3,964.5 152.2,964.5 153.0,964.5 C153.8,964.5 154.7,964.5 155.5,964.5 C156.3,964.5 157.2,964.5 158.0,964.5 C158.8,964.5 159.7,964.5 160.5,964.5 C161.3,964.5 162.2,964.5 163.0,964.5 C163.8,964.5 164.7,964.5 165.5,964.5 C166.3,964.5 167.2,964.5 168.0,964.5 C168.8,964.5 169.7,964.5 170.5,964.5 C171.3,964.5 172.2,964.5 173.0,964.5 C173.8,964.5 174.7,964.5 175.5,964.5 C176.3,964.5 177.2,964.5 178.0,964.5 C178.8,964.5 179.7,964.5 180.5,964.5 C181.3,964.5 182.2,964.4 183.0,964.4 C183.8,964.4 184.7,964.4 185.5,964.4 C186.3,964.4 187.2,964.4 188.0,964.4 C188.8,964.4 189.7,964.4 190.5,964.4 C191.3,964.4 192.2,964.4 193.0,964.4 C193.8,964.4 194.7,964.4 195.5,964.4 C196.3,964.4 197.2,964.3 198.0,964.3 C198.8,964.3 199.7,964.3 200.5,964.3 C201.3,964.3 202.2,964.3 203.0,964.3 C203.8,964.2 204.7,964.2 205.5,964.2 C206.3,964.2 207.2,964.2 208.0,964.2 C208.8,964.1 209.7,964.1 210.5,964.1 C211.3,964.1 212.2,964.1 213.0,964.0 C213.8,964.0 214.7,964.0 215.5,964.0 C216.3,963.9 217.2,963.9 218.0,963.9 C218.8,963.8 219.7,963.8 220.5,963.8 C221.3,963.7 222.2,963.7 223.0,963.7 C223.8,963.6 224.7,963.6 225.5,963.5 C226.3,963.5 227.2,963.4 228.0,963.4 C228.8,963.3 229.7,963.3 230.5,963.2 C231.3,963.1 232.2,963.1 233.0,963.0 C233.8,962.9 234.7,962.9 235.5,962.8 C236.3,962.7 237.2,962.6 238.0,962.5 C238.8,962.5 239.7,962.4 240.5,962.3 C241.3,962.2 242.2,962.1 243.0,962.0 C243.8,961.9 244.7,961.8 245.5,961.6 C246.3,961.5 247.2,961.4 248.0,961.3 C248.8,961.1 249.7,961.0 250.5,960.9 C251.3,960.7 252.2,960.6 253.0,960.4 C253.8,960.3 254.7,960.1 255.5,959.9 C256.3,959.8 257.2,959.6 258.0,959.4 C258.8,959.2 259.7,959.0 260.5,958.8 C261.3,958.6 262.2,958.4 263.0,958.2 C263.8,957.9 264.7,957.7 265.5,957.5 C266.3,957.2 267.2,957.0 268.0,956.7 C268.8,956.5 269.7,956.2 270.5,955.9 C271.3,955.7 272.2,955.4 273.0,955.1 C273.8,954.8 274.7,954.5 275.5,954.2 C276.3,953.9 277.2,953.6 278.0,953.2 C278.8,952.9 279.7,952.6 280.5,952.2 C281.3,951.9 282.2,951.5 283.0,951.1 C283.8,950.8 284.7,950.4 285.5,950.0 C286.3,949.6 287.2,949.2 288.0,948.8 C288.8,948.4 289.7,948.0 290.5,947.6 C291.3,947.2 292.2,946.7 293.0,946.3 C293.8,945.9 294.7,945.4 295.5,945.0 C296.3,944.5 297.2,944.1 298.0,943.6 C298.8,943.2 299.7,942.7 300.5,942.2 C301.3,941.8 302.2,941.3 303.0,940.8 C303.8,940.3 304.7,939.8 305.5,939.4 C306.3,938.9 307.2,938.4 308.0,937.9 C308.8,937.4 309.7,936.9 310.5,936.4 C311.3,935.9 312.2,935.4 313.0,934.9 C313.8,934.4 314.7,933.9 315.5,933.5 C316.3,933.0 317.2,932.5 318.0,932.0 C318.8,931.5 319.7,931.0 320.5,930.6 C321.3,930.1 322.2,929.6 323.0,929.2 C323.8,928.7 324.7,928.3 325.5,927.8 C326.3,927.4 327.2,926.9 328.0,926.5 C328.8,926.1 329.7,925.7 330.5,925.3 C331.3,924.9 332.2,924.5 333.0,924.1 C333.8,923.7 334.7,923.3 335.5,923.0 C336.3,922.6 337.2,922.3 338.0,922.0 C338.8,921.6 339.7,921.3 340.5,921.1 C341.3,920.8 342.2,920.5 343.0,920.2 C343.8,920.0 344.7,919.7 345.5,919.5 C346.3,919.3 347.2,919.1 348.0,918.9 C348.8,918.7 349.7,918.6 350.5,918.4 C351.3,918.3 352.2,918.2 353.0,918.1 C353.8,918.0 354.7,917.9 355.5,917.8 C356.3,917.8 357.2,917.7 358.0,917.7 C358.8,917.7 359.7,917.7 360.5,917.7 C361.3,917.7 362.2,917.8 363.0,917.9 C363.8,917.9 364.7,918.0 365.5,918.1 C366.3,918.2 367.2,918.4 368.0,918.5 C368.8,918.7 369.7,918.8 370.5,919.0 C371.3,919.2 372.2,919.4 373.0,919.6 C373.8,919.9 374.7,920.1 375.5,920.4 C376.3,920.6 377.2,920.9 378.0,921.2 C378.8,921.5 379.7,921.8 380.5,922.2 C381.3,922.5 382.2,922.8 383.0,923.2 C383.8,923.6 384.7,923.9 385.5,924.3 C386.3,924.7 387.2,925.1 388.0,925.5 C388.8,925.9 389.7,926.3 390.5,926.8 C391.3,927.2 392.2,927.6 393.0,928.1 C393.8,928.5 394.7,929.0 395.5,929.5 C396.3,929.9 397.2,930.4 398.0,930.9 C398.8,931.3 399.7,931.8 400.5,932.3 C401.3,932.8 402.2,933.3 403.0,933.8 C403.8,934.2 404.7,934.7 405.5,935.2 C406.3,935.7 407.2,936.2 408.0,936.7 C408.8,937.2 409.7,937.7 410.5,938.2 C411.3,938.7 412.2,939.2 413.0,939.6 C413.8,940.1 414.7,940.6 415.5,941.1 C416.3,941.6 417.2,942.0 418.0,942.5 C418.8,943.0 419.7,943.4 420.5,943.9 C421.3,944.4 422.2,944.8 423.0,945.3 C423.8,945.7 424.7,946.1 425.5,946.6 C426.3,947.0 427.2,947.4 428.0,947.8 C428.8,948.3 429.7,948.7 430.5,949.1 C431.3,949.5 432.2,949.9 433.0,950.2 C433.8,950.6 434.7,951.0 435.5,951.4 C436.3,951.7 437.2,952.1 438.0,952.4 C438.8,952.8 439.7,953.1 440.5,953.4 C441.3,953.8 442.2,954.1 443.0,954.4 C443.8,954.7 444.7,955.0 445.5,955.3 C446.3,955.6 447.2,955.8 448.0,956.1 C448.8,956.4 449.7,956.6 450.5,956.9 C451.3,957.1 452.2,957.4 453.0,957.6 C453.8,957.9 454.7,958.1 455.5,958.3 C456.3,958.5 457.2,958.7 458.0,958.9 C458.8,959.1 459.7,959.3 460.5,959.5 C461.3,959.7 462.2,959.9 463.0,960.0 C463.8,960.2 464.7,960.4 465.5,960.5 C466.3,960.7 467.2,960.8 468.0,960.9 C468.8,961.1 469.7,961.2 470.5,961.3 C471.3,961.5 472.2,961.6 473.0,961.7 C473.8,961.8 474.7,961.9 475.5,962.0 C476.3,962.1 477.2,962.2 478.0,962.3 C478.8,962.4 479.7,962.5 480.5,962.6 C481.3,962.7 482.2,962.8 483.0,962.8 C483.8,962.9 484.7,963.0 485.5,963.0 C486.3,963.1 487.2,963.2 488.0,963.2 C488.8,963.3 489.7,963.3 490.5,963.4 C491.3,963.5 492.2,963.5 493.0,963.5 C493.8,963.6 494.7,963.6 495.5,963.7 C496.3,963.7 497.2,963.8 498.0,963.8 C498.8,963.8 499.7,963.9 500.5,963.9 C501.3,963.9 502.2,964.0 503.0,964.0 C503.8,964.0 504.7,964.0 505.5,964.1 C506.3,964.1 507.2,964.1 508.0,964.1 C508.8,964.1 509.7,964.2 510.5,964.2 C511.3,964.2 512.2,964.2 513.0,964.2 C513.8,964.2 514.7,964.3 515.5,964.3 C516.3,964.3 517.2,964.3 518.0,964.3 C518.8,964.3 519.7,964.3 520.5,964.3 C521.3,964.3 522.2,964.4 523.0,964.4 C523.8,964.4 524.7,964.4 525.5,964.4 C526.3,964.4 527.2,964.4 528.0,964.4 C528.8,964.4 529.7,964.4 530.5,964.4 C531.3,964.4 532.2,964.4 533.0,964.4 C533.8,964.4 534.7,964.4 535.5,964.4 C536.3,964.4 537.2,964.5 538.0,964.5 C538.8,964.5 539.7,964.5 540.5,964.5 C541.3,964.5 542.2,964.5 543.0,964.5 C543.8,964.5 544.7,964.5 545.5,964.5 C546.3,964.5 547.2,964.5 548.0,964.5 C548.8,964.5 549.7,964.5 550.5,964.5 C551.3,964.5 552.2,964.5 553.0,964.5 C553.8,964.5 554.7,964.5 555.5,964.5 C556.3,964.5 557.2,964.5 558.0,964.5 C558.8,964.5 559.7,964.5 560.5,964.5 C561.3,964.5 562.2,964.5 563.0,964.5 C563.8,964.5 564.7,964.5 565.5,964.5 C566.3,964.5 567.2,964.5 568.0,964.5 C568.8,964.5 569.7,964.5 570.5,964.5 C571.3,964.5 572.2,964.5 573.0,964.5 C573.8,964.5 574.7,964.5 575.5,964.5 C576.3,964.5 577.2,964.5 578.0,964.5 C578.8,964.5 579.7,964.5 580.5,964.5 C581.3,964.5 582.2,964.5 583.0,964.5 C583.8,964.5 584.7,964.5 585.5,964.5 C586.3,964.5 587.2,964.5 588.0,964.5 C588.8,964.5 589.7,964.5 590.5,964.5 C591.3,964.5 592.2,964.5 593.0,964.5 C593.8,964.5 594.7,964.5 595.5,964.5 C596.3,964.5 597.2,964.5 598.0,964.5 C598.8,964.5 599.7,964.5 600.5,964.5 C601.3,964.5 602.2,964.5 603.0,964.5 C603.8,964.5 604.7,964.5 605.5,964.5 C606.3,964.5 607.2,964.5 608.0,964.5 C608.8,964.5 609.7,964.5 610.5,964.5 C611.3,964.5 612.2,964.5 613.0,964.5 C613.8,964.5 614.7,964.5 615.5,964.5 C616.3,964.5 617.2,964.5 618.0,964.5 C618.8,964.5 619.7,964.5 620.5,964.5 C621.3,964.5 622.2,964.5 623.0,964.5 C623.8,964.5 624.7,964.5 625.5,964.5 C626.3,964.5 627.2,964.5 628.0,964.5 C628.8,964.5 629.7,964.5 630.5,964.5 C631.3,964.5 632.2,964.5 633.0,964.5 C633.8,964.5 634.7,964.5 635.5,964.5 C636.3,964.5 637.2,964.5 638.0,964.5 C638.8,964.5 639.7,964.5 640.5,964.5 C641.3,964.5 642.2,964.5 643.0,964.5 C643.8,964.5 644.7,964.5 645.5,964.5 C646.3,964.5 647.2,964.5 648.0,964.5 C648.8,964.5 649.7,964.5 650.5,964.5 C651.3,964.5 652.2,964.5 653.0,964.5 C653.8,964.5 654.7,964.5 655.5,964.5 C656.3,964.5 657.2,964.5 658.0,964.5 C658.8,964.5 659.7,964.5 660.5,964.5 C661.3,964.5 662.2,964.5 663.0,964.5 C663.8,964.5 664.7,964.5 665.5,964.5 C666.3,964.5 667.2,964.5 668.0,964.5 C668.8,964.5 669.7,964.5 670.5,964.5 C671.3,964.5 672.2,964.5 673.0,964.5 C673.8,964.5 675.1,964.5 675.5,964.5" fill="none" stroke="#0c0cc0" stroke-width="2.5" stroke-dasharray="5 4" stroke-linejoin="round" />
<path d="M90.5,964.5 C90.9,964.5 92.2,964.4 93.0,964.4 C93.8,964.4 94.7,964.4 95.5,964.4 C96.3,964.4 97.2,964.4 98.0,964.4 C98.8,964.4 99.7,964.4 100.5,964.4 C101.3,964.4 102.2,964.4 103.0,964.4 C103.8,964.4 104.7,964.4 105.5,964.4 C106.3,964.3 107.2,964.3 108.0,964.3 C108.8,964.3 109.7,964.3 110.5,964.3 C111.3,964.3 112.2,964.3 113.0,964.3 C113.8,964.2 114.7,964.2 115.5,964.2 C116.3,964.2 117.2,964.2 118.0,964.2 C118.8,964.1 119.7,964.1 120.5,964.1 C121.3,964.1 122.2,964.0 123.0,964.0 C123.8,964.0 124.7,964.0 125.5,963.9 C126.3,963.9 127.2,963.9 128.0,963.8 C128.8,963.8 129.7,963.8 130.5,963.7 C131.3,963.7 132.2,963.6 133.0,963.6 C133.8,963.5 134.7,963.5 135.5,963.4 C136.3,963.4 137.2,963.3 138.0,963.3 C138.8,963.2 139.7,963.1 140.5,963.1 C141.3,963.0 142.2,962.9 143.0,962.8 C143.8,962.8 144.7,962.7 145.5,962.6 C146.3,962.5 147.2,962.4 148.0,962.3 C148.8,962.2 149.7,962.1 150.5,962.0 C151.3,961.8 152.2,961.7 153.0,961.6 C153.8,961.4 154.7,961.3 155.5,961.2 C156.3,961.0 157.2,960.9 158.0,960.7 C158.8,960.5 159.7,960.3 160.5,960.2 C161.3,960.0 162.2,959.8 163.0,959.6 C163.8,959.4 164.7,959.1 165.5,958.9 C166.3,958.7 167.2,958.4 168.0,958.2 C168.8,957.9 169.7,957.7 170.5,957.4 C171.3,957.1 172.2,956.8 173.0,956.5 C173.8,956.2 174.7,955.8 175.5,955.5 C176.3,955.2 177.2,954.8 178.0,954.4 C178.8,954.0 179.7,953.6 180.5,953.2 C181.3,952.8 182.2,952.4 183.0,951.9 C183.8,951.5 184.7,951.0 185.5,950.5 C186.3,950.1 187.2,949.5 188.0,949.0 C188.8,948.5 189.7,947.9 190.5,947.4 C191.3,946.8 192.2,946.2 193.0,945.6 C193.8,945.0 194.7,944.3 195.5,943.7 C196.3,943.0 197.2,942.3 198.0,941.6 C198.8,940.9 199.7,940.2 200.5,939.4 C201.3,938.7 202.2,937.9 203.0,937.1 C203.8,936.3 204.7,935.5 205.5,934.6 C206.3,933.8 207.2,932.9 208.0,932.0 C208.8,931.1 209.7,930.2 210.5,929.2 C211.3,928.3 212.2,927.3 213.0,926.3 C213.8,925.3 214.7,924.3 215.5,923.2 C216.3,922.2 217.2,921.1 218.0,920.0 C218.8,918.9 219.7,917.8 220.5,916.7 C221.3,915.6 222.2,914.4 223.0,913.2 C223.8,912.0 224.7,910.9 225.5,909.6 C226.3,908.4 227.2,907.2 228.0,906.0 C228.8,904.7 229.7,903.4 230.5,902.2 C231.3,900.9 232.2,899.6 233.0,898.3 C233.8,897.0 234.7,895.7 235.5,894.3 C236.3,893.0 237.2,891.7 238.0,890.3 C238.8,889.0 239.7,887.6 240.5,886.3 C241.3,884.9 242.2,883.6 243.0,882.2 C243.8,880.9 244.7,879.5 245.5,878.1 C246.3,876.8 247.2,875.4 248.0,874.1 C248.8,872.7 249.7,871.4 250.5,870.1 C251.3,868.7 252.2,867.4 253.0,866.1 C253.8,864.8 254.7,863.5 255.5,862.2 C256.3,861.0 257.2,859.7 258.0,858.5 C258.8,857.2 259.7,856.0 260.5,854.8 C261.3,853.6 262.2,852.4 263.0,851.3 C263.8,850.1 264.7,849.0 265.5,848.0 C266.3,846.9 267.2,845.8 268.0,844.8 C268.8,843.8 269.7,842.8 270.5,841.9 C271.3,840.9 272.2,840.0 273.0,839.1 C273.8,838.3 274.7,837.5 275.5,836.7 C276.3,835.9 277.2,835.2 278.0,834.5 C278.8,833.8 279.7,833.2 280.5,832.6 C281.3,832.0 282.2,831.4 283.0,830.9 C283.8,830.4 284.7,830.0 285.5,829.6 C286.3,829.2 287.2,828.9 288.0,828.6 C288.8,828.3 289.7,828.1 290.5,827.9 C291.3,827.7 292.2,827.6 293.0,827.6 C293.8,827.5 294.7,827.5 295.5,827.5 C296.3,827.6 297.2,827.7 298.0,827.8 C298.8,828.0 299.7,828.2 300.5,828.4 C301.3,828.7 302.2,829.0 303.0,829.4 C303.8,829.8 304.7,830.2 305.5,830.6 C306.3,831.1 307.2,831.6 308.0,832.2 C308.8,832.8 309.7,833.4 310.5,834.1 C311.3,834.7 312.2,835.5 313.0,836.2 C313.8,837.0 314.7,837.8 315.5,838.6 C316.3,839.5 317.2,840.4 318.0,841.3 C318.8,842.2 319.7,843.2 320.5,844.2 C321.3,845.2 322.2,846.2 323.0,847.3 C323.8,848.4 324.7,849.5 325.5,850.6 C326.3,851.7 327.2,852.9 328.0,854.1 C328.8,855.3 329.7,856.5 330.5,857.7 C331.3,858.9 332.2,860.2 333.0,861.5 C333.8,862.7 334.7,864.0 335.5,865.3 C336.3,866.6 337.2,868.0 338.0,869.3 C338.8,870.6 339.7,871.9 340.5,873.3 C341.3,874.6 342.2,876.0 343.0,877.3 C343.8,878.7 344.7,880.0 345.5,881.4 C346.3,882.8 347.2,884.1 348.0,885.5 C348.8,886.8 349.7,888.2 350.5,889.5 C351.3,890.9 352.2,892.2 353.0,893.5 C353.8,894.9 354.7,896.2 355.5,897.5 C356.3,898.8 357.2,900.1 358.0,901.4 C358.8,902.7 359.7,903.9 360.5,905.2 C361.3,906.5 362.2,907.7 363.0,908.9 C363.8,910.1 364.7,911.3 365.5,912.5 C366.3,913.7 367.2,914.9 368.0,916.0 C368.8,917.1 369.7,918.3 370.5,919.4 C371.3,920.5 372.2,921.5 373.0,922.6 C373.8,923.6 374.7,924.7 375.5,925.7 C376.3,926.7 377.2,927.7 378.0,928.6 C378.8,929.6 379.7,930.5 380.5,931.4 C381.3,932.4 382.2,933.2 383.0,934.1 C383.8,935.0 384.7,935.8 385.5,936.6 C386.3,937.4 387.2,938.2 388.0,939.0 C388.8,939.7 389.7,940.5 390.5,941.2 C391.3,941.9 392.2,942.6 393.0,943.3 C393.8,944.0 394.7,944.6 395.5,945.2 C396.3,945.8 397.2,946.4 398.0,947.0 C398.8,947.6 399.7,948.2 400.5,948.7 C401.3,949.2 402.2,949.8 403.0,950.2 C403.8,950.7 404.7,951.2 405.5,951.7 C406.3,952.1 407.2,952.6 408.0,953.0 C408.8,953.4 409.7,953.8 410.5,954.2 C411.3,954.6 412.2,954.9 413.0,955.3 C413.8,955.6 414.7,956.0 415.5,956.3 C416.3,956.6 417.2,956.9 418.0,957.2 C418.8,957.5 419.7,957.8 420.5,958.0 C421.3,958.3 422.2,958.5 423.0,958.8 C423.8,959.0 424.7,959.2 425.5,959.4 C426.3,959.7 427.2,959.9 428.0,960.0 C428.8,960.2 429.7,960.4 430.5,960.6 C431.3,960.8 432.2,960.9 433.0,961.1 C433.8,961.2 434.7,961.4 435.5,961.5 C436.3,961.6 437.2,961.8 438.0,961.9 C438.8,962.0 439.7,962.1 440.5,962.2 C441.3,962.3 442.2,962.4 443.0,962.5 C443.8,962.6 444.7,962.7 445.5,962.8 C446.3,962.9 447.2,962.9 448.0,963.0 C448.8,963.1 449.7,963.2 450.5,963.2 C451.3,963.3 452.2,963.3 453.0,963.4 C453.8,963.5 454.7,963.5 455.5,963.6 C456.3,963.6 457.2,963.7 458.0,963.7 C458.8,963.7 459.7,963.8 460.5,963.8 C461.3,963.9 462.2,963.9 463.0,963.9 C463.8,963.9 464.7,964.0 465.5,964.0 C466.3,964.0 467.2,964.1 468.0,964.1 C468.8,964.1 469.7,964.1 470.5,964.1 C471.3,964.2 472.2,964.2 473.0,964.2 C473.8,964.2 474.7,964.2 475.5,964.2 C476.3,964.3 477.2,964.3 478.0,964.3 C478.8,964.3 479.7,964.3 480.5,964.3 C481.3,964.3 482.2,964.3 483.0,964.4 C483.8,964.4 484.7,964.4 485.5,964.4 C486.3,964.4 487.2,964.4 488.0,964.4 C488.8,964.4 489.7,964.4 490.5,964.4 C491.3,964.4 492.2,964.4 493.0,964.4 C493.8,964.4 494.7,964.4 495.5,964.4 C496.3,964.4 497.2,964.4 498.0,964.5 C498.8,964.5 499.7,964.5 500.5,964.5 C501.3,964.5 502.2,964.5 503.0,964.5 C503.8,964.5 504.7,964.5 505.5,964.5 C506.3,964.5 507.2,964.5 508.0,964.5 C508.8,964.5 509.7,964.5 510.5,964.5 C511.3,964.5 512.2,964.5 513.0,964.5 C513.8,964.5 514.7,964.5 515.5,964.5 C516.3,964.5 517.2,964.5 518.0,964.5 C518.8,964.5 519.7,964.5 520.5,964.5 C521.3,964.5 522.2,964.5 523.0,964.5 C523.8,964.5 524.7,964.5 525.5,964.5 C526.3,964.5 527.2,964.5 528.0,964.5 C528.8,964.5 529.7,964.5 530.5,964.5 C531.3,964.5 532.2,964.5 533.0,964.5 C533.8,964.5 534.7,964.5 535.5,964.5 C536.3,964.5 537.2,964.5 538.0,964.5 C538.8,964.5 539.7,964.5 540.5,964.5 C541.3,964.5 542.2,964.5 543.0,964.5 C543.8,964.5 544.7,964.5 545.5,964.5 C546.3,964.5 547.2,964.5 548.0,964.5 C548.8,964.5 549.7,964.5 550.5,964.5 C551.3,964.5 552.2,964.5 553.0,964.5 C553.8,964.5 554.7,964.5 555.5,964.5 C556.3,964.5 557.2,964.5 558.0,964.5 C558.8,964.5 559.7,964.5 560.5,964.5 C561.3,964.5 562.2,964.5 563.0,964.5 C563.8,964.5 564.7,964.5 565.5,964.5 C566.3,964.5 567.2,964.5 568.0,964.5 C568.8,964.5 569.7,964.5 570.5,964.5 C571.3,964.5 572.2,964.5 573.0,964.5 C573.8,964.5 574.7,964.5 575.5,964.5 C576.3,964.5 577.2,964.5 578.0,964.5 C578.8,964.5 579.7,964.5 580.5,964.5 C581.3,964.5 582.2,964.5 583.0,964.5 C583.8,964.5 584.7,964.5 585.5,964.5 C586.3,964.5 587.2,964.5 588.0,964.5 C588.8,964.5 589.7,964.5 590.5,964.5 C591.3,964.5 592.2,964.5 593.0,964.5 C593.8,964.5 594.7,964.5 595.5,964.5 C596.3,964.5 597.2,964.5 598.0,964.5 C598.8,964.5 599.7,964.5 600.5,964.5 C601.3,964.5 602.2,964.5 603.0,964.5 C603.8,964.5 604.7,964.5 605.5,964.5 C606.3,964.5 607.2,964.5 608.0,964.5 C608.8,964.5 609.7,964.5 610.5,964.5 C611.3,964.5 612.2,964.5 613.0,964.5 C613.8,964.5 614.7,964.5 615.5,964.5 C616.3,964.5 617.2,964.5 618.0,964.5 C618.8,964.5 619.7,964.5 620.5,964.5 C621.3,964.5 622.2,964.5 623.0,964.5 C623.8,964.5 624.7,964.5 625.5,964.5 C626.3,964.5 627.2,964.5 628.0,964.5 C628.8,964.5 629.7,964.5 630.5,964.5 C631.3,964.5 632.2,964.5 633.0,964.5 C633.8,964.5 634.7,964.5 635.5,964.5 C636.3,964.5 637.2,964.5 638.0,964.5 C638.8,964.5 639.7,964.5 640.5,964.5 C641.3,964.5 642.2,964.5 643.0,964.5 C643.8,964.5 644.7,964.5 645.5,964.5 C646.3,964.5 647.2,964.5 648.0,964.5 C648.8,964.5 649.7,964.5 650.5,964.5 C651.3,964.5 652.2,964.5 653.0,964.5 C653.8,964.5 654.7,964.5 655.5,964.5 C656.3,964.5 657.2,964.5 658.0,964.5 C658.8,964.5 659.7,964.5 660.5,964.5 C661.3,964.5 662.2,964.5 663.0,964.5 C663.8,964.5 664.7,964.5 665.5,964.5 C666.3,964.5 667.2,964.5 668.0,964.5 C668.8,964.5 669.7,964.5 670.5,964.5 C671.3,964.5 672.2,964.5 673.0,964.5 C673.8,964.5 675.1,964.5 675.5,964.5" fill="none" stroke="#1ed21e" stroke-width="2.5" stroke-dasharray="11 5 3 5 3 5" stroke-linejoin="round" />
<path d="M96.9,946.8 C100.2,941.8 110.8,927.5 116.5,916.5 C122.2,905.5 126.1,895.1 130.8,880.9 C135.6,866.6 140.2,848.8 145.0,831.0 C149.8,813.2 154.5,794.1 159.3,773.9 C164.1,753.7 169.4,728.1 173.6,709.7 C177.8,691.3 181.6,675.5 184.3,663.4 C187.0,651.3 187.9,644.9 190.0,637.0 C192.1,629.1 194.4,620.8 196.9,616.0 C199.4,611.2 202.2,608.5 204.9,608.1 C207.6,607.7 209.7,608.5 212.9,613.8 C216.1,619.1 220.5,628.8 224.3,640.1 C228.1,651.4 232.0,666.5 235.8,681.4 C239.6,696.3 243.4,713.5 247.2,729.5 C251.0,745.5 255.6,762.6 258.7,777.5 C261.8,792.4 263.1,803.7 266.0,818.8 C268.9,833.9 272.8,855.2 276.0,868.0 C279.2,880.8 282.2,886.8 285.1,895.3 C288.0,903.8 290.5,912.3 293.6,919.1 C296.7,925.9 299.5,930.7 303.7,936.1 C307.9,941.5 313.6,947.3 319.0,951.3 C324.4,955.2 329.8,957.8 336.0,959.8 C342.2,961.8 348.7,962.5 356.3,963.2 C363.9,964.0 371.2,964.1 381.8,964.3 C392.4,964.5 371.1,964.5 420.0,964.5 C468.9,964.5 632.9,964.5 675.5,964.5" fill="none" stroke="#e8141c" stroke-width="2.5" stroke-dasharray="10 7" stroke-linejoin="round" />
<path d="M91.6,961.1 C92.1,961.2 93.6,961.9 94.6,961.9 C95.6,962.0 96.6,961.9 97.6,961.6 C98.6,961.3 99.6,960.9 100.6,960.3 C101.6,959.6 102.6,958.9 103.6,958.0 C104.6,957.1 105.6,956.1 106.6,955.0 C107.6,953.9 108.6,952.7 109.6,951.4 C110.6,950.2 111.6,948.8 112.6,947.4 C113.6,946.1 114.6,944.6 115.6,943.2 C116.6,941.8 117.6,940.3 118.6,938.8 C119.6,937.3 120.6,935.8 121.6,934.1 C122.6,932.3 123.6,930.5 124.6,928.5 C125.6,926.4 126.6,924.1 127.6,921.5 C128.6,918.9 129.6,916.1 130.6,912.9 C131.6,909.6 132.6,906.0 133.7,902.1 C134.7,898.2 135.7,893.9 136.7,889.4 C137.7,884.9 138.7,880.1 139.7,875.1 C140.7,870.2 141.7,865.0 142.7,859.7 C143.7,854.4 144.7,848.9 145.7,843.4 C146.7,837.9 147.7,832.2 148.7,826.6 C149.7,820.9 150.7,815.2 151.7,809.5 C152.7,803.8 153.7,798.0 154.7,792.4 C155.7,786.7 156.7,781.0 157.7,775.5 C158.7,769.9 159.7,764.4 160.7,759.1 C161.7,753.7 162.7,748.5 163.7,743.3 C164.7,738.2 165.7,733.1 166.7,728.2 C167.7,723.3 168.7,718.5 169.7,713.8 C170.7,709.1 171.7,704.5 172.7,700.0 C173.7,695.5 174.7,691.2 175.7,686.9 C176.7,682.6 177.7,678.5 178.7,674.3 C179.7,670.2 180.7,666.2 181.7,662.1 C182.7,658.1 183.7,654.1 184.7,650.0 C185.7,646.0 186.7,641.9 187.7,637.9 C188.7,633.8 189.7,629.6 190.7,625.5 C191.7,621.5 192.7,617.4 193.7,613.6 C194.7,609.8 195.7,606.1 196.7,602.8 C197.7,599.4 198.7,596.4 199.7,593.7 C200.7,591.1 201.7,588.9 202.7,586.9 C203.7,585.0 204.7,583.5 205.7,582.2 C206.7,581.0 207.7,580.0 208.7,579.3 C209.7,578.6 210.7,578.2 211.7,577.9 C212.7,577.7 213.7,577.7 214.7,577.8 C215.7,577.9 216.8,578.2 217.8,578.6 C218.8,579.1 219.8,579.6 220.8,580.4 C221.8,581.1 222.8,582.0 223.8,583.1 C224.8,584.1 225.8,585.4 226.8,586.7 C227.8,588.1 228.8,589.6 229.8,591.3 C230.8,593.0 231.8,594.8 232.8,596.8 C233.8,598.7 234.8,600.8 235.8,603.0 C236.8,605.2 237.8,607.5 238.8,609.9 C239.8,612.3 240.8,614.8 241.8,617.4 C242.8,620.0 243.8,622.6 244.8,625.3 C245.8,628.0 246.8,630.7 247.8,633.5 C248.8,636.3 249.8,639.1 250.8,642.0 C251.8,644.8 252.8,647.8 253.8,650.7 C254.8,653.6 255.8,656.6 256.8,659.5 C257.8,662.5 258.8,665.5 259.8,668.5 C260.8,671.4 261.8,674.4 262.8,677.4 C263.8,680.4 264.8,683.4 265.8,686.3 C266.8,689.3 267.8,692.2 268.8,695.1 C269.8,698.1 270.8,700.9 271.8,703.8 C272.8,706.6 273.8,709.4 274.8,712.2 C275.8,715.0 276.8,717.7 277.8,720.3 C278.8,723.0 279.8,725.6 280.8,728.1 C281.8,730.6 282.8,733.1 283.8,735.4 C284.8,737.8 285.8,740.1 286.8,742.3 C287.8,744.5 288.8,746.7 289.8,748.7 C290.8,750.7 291.8,752.7 292.8,754.5 C293.8,756.4 294.8,758.1 295.8,759.7 C296.8,761.4 297.8,762.9 298.9,764.4 C299.9,765.9 300.9,767.2 301.9,768.6 C302.9,769.9 303.9,771.2 304.9,772.5 C305.9,773.7 306.9,775.0 307.9,776.2 C308.9,777.4 309.9,778.6 310.9,779.9 C311.9,781.1 312.9,782.3 313.9,783.5 C314.9,784.7 315.9,785.9 316.9,787.1 C317.9,788.3 318.9,789.4 319.9,790.5 C320.9,791.6 321.9,792.7 322.9,793.7 C323.9,794.8 324.9,795.7 325.9,796.6 C326.9,797.6 327.9,798.4 328.9,799.2 C329.9,800.0 330.9,800.7 331.9,801.5 C332.9,802.2 333.9,802.9 334.9,803.5 C335.9,804.2 336.9,804.9 337.9,805.6 C338.9,806.3 339.9,807.0 340.9,807.8 C341.9,808.5 342.9,809.3 343.9,810.2 C344.9,811.1 345.9,812.1 346.9,813.1 C347.9,814.1 348.9,815.3 349.9,816.4 C350.9,817.6 351.9,818.8 352.9,820.1 C353.9,821.3 354.9,822.7 355.9,824.0 C356.9,825.3 357.9,826.6 358.9,827.9 C359.9,829.3 360.9,830.6 361.9,831.9 C362.9,833.2 363.9,834.5 364.9,835.7 C365.9,837.0 366.9,838.2 367.9,839.4 C368.9,840.6 369.9,841.8 370.9,842.9 C371.9,844.1 372.9,845.2 373.9,846.3 C374.9,847.4 375.9,848.5 376.9,849.5 C377.9,850.6 378.9,851.6 379.9,852.6 C380.9,853.6 382.0,854.5 383.0,855.4 C384.0,856.4 385.0,857.3 386.0,858.1 C387.0,859.0 388.0,859.8 389.0,860.6 C390.0,861.4 391.0,862.2 392.0,862.9 C393.0,863.6 394.0,864.3 395.0,865.0 C396.0,865.6 397.0,866.3 398.0,866.8 C399.0,867.4 400.0,867.9 401.0,868.4 C402.0,868.9 403.0,869.3 404.0,869.7 C405.0,870.1 406.0,870.4 407.0,870.7 C408.0,871.0 409.0,871.2 410.0,871.4 C411.0,871.5 412.0,871.6 413.0,871.7 C414.0,871.7 415.0,871.7 416.0,871.6 C417.0,871.5 418.0,871.4 419.0,871.2 C420.0,871.0 421.0,870.7 422.0,870.3 C423.0,870.0 424.0,869.5 425.0,869.0 C426.0,868.5 427.0,867.9 428.0,867.3 C429.0,866.6 430.0,865.9 431.0,865.1 C432.0,864.4 433.0,863.5 434.0,862.6 C435.0,861.7 436.0,860.8 437.0,859.8 C438.0,858.8 439.0,857.8 440.0,856.8 C441.0,855.8 442.0,854.7 443.0,853.6 C444.0,852.5 445.0,851.4 446.0,850.3 C447.0,849.2 448.0,848.1 449.0,847.0 C450.0,845.9 451.0,844.8 452.0,843.7 C453.0,842.7 454.0,841.6 455.0,840.6 C456.0,839.5 457.0,838.5 458.0,837.5 C459.0,836.6 460.0,835.6 461.0,834.8 C462.0,833.9 463.0,833.1 464.0,832.3 C465.1,831.5 466.1,830.8 467.1,830.1 C468.1,829.4 469.1,828.7 470.1,828.1 C471.1,827.4 472.1,826.8 473.1,826.1 C474.1,825.5 475.1,824.8 476.1,824.2 C477.1,823.5 478.1,822.8 479.1,822.2 C480.1,821.5 481.1,820.9 482.1,820.3 C483.1,819.7 484.1,819.2 485.1,818.7 C486.1,818.2 487.1,817.8 488.1,817.4 C489.1,817.1 490.1,816.8 491.1,816.5 C492.1,816.3 493.1,816.1 494.1,816.0 C495.1,815.9 496.1,815.8 497.1,815.8 C498.1,815.8 499.1,815.9 500.1,816.0 C501.1,816.1 502.1,816.3 503.1,816.5 C504.1,816.7 505.1,817.0 506.1,817.3 C507.1,817.6 508.1,818.0 509.1,818.5 C510.1,818.9 511.1,819.4 512.1,820.0 C513.1,820.5 514.1,821.2 515.1,821.8 C516.1,822.5 517.1,823.2 518.1,824.0 C519.1,824.8 520.1,825.6 521.1,826.5 C522.1,827.4 523.1,828.3 524.1,829.3 C525.1,830.3 526.1,831.4 527.1,832.4 C528.1,833.5 529.1,834.7 530.1,835.8 C531.1,837.0 532.1,838.2 533.1,839.5 C534.1,840.8 535.1,842.1 536.1,843.4 C537.1,844.7 538.1,846.1 539.1,847.5 C540.1,848.9 541.1,850.4 542.1,851.8 C543.1,853.3 544.1,854.8 545.1,856.3 C546.1,857.8 547.2,859.4 548.2,861.0 C549.2,862.5 550.2,864.1 551.2,865.7 C552.2,867.3 553.2,869.0 554.2,870.6 C555.2,872.2 556.2,873.9 557.2,875.6 C558.2,877.2 559.2,878.9 560.2,880.6 C561.2,882.3 562.2,884.0 563.2,885.7 C564.2,887.4 565.2,889.1 566.2,890.7 C567.2,892.4 568.2,894.1 569.2,895.8 C570.2,897.4 571.2,899.1 572.2,900.7 C573.2,902.4 574.2,904.0 575.2,905.6 C576.2,907.1 577.2,908.7 578.2,910.2 C579.2,911.8 580.2,913.3 581.2,914.7 C582.2,916.2 583.2,917.6 584.2,919.0 C585.2,920.4 586.2,921.7 587.2,923.0 C588.2,924.2 589.2,925.5 590.2,926.6 C591.2,927.8 592.2,929.0 593.2,930.1 C594.2,931.1 595.2,932.2 596.2,933.2 C597.2,934.2 598.2,935.2 599.2,936.1 C600.2,937.0 601.2,937.9 602.2,938.7 C603.2,939.6 604.2,940.4 605.2,941.2 C606.2,942.0 607.2,942.7 608.2,943.4 C609.2,944.1 610.2,944.8 611.2,945.4 C612.2,946.1 613.2,946.7 614.2,947.3 C615.2,947.9 616.2,948.5 617.2,949.0 C618.2,949.5 619.2,950.1 620.2,950.5 C621.2,951.0 622.2,951.5 623.2,952.0 C624.2,952.4 625.2,952.8 626.2,953.3 C627.2,953.7 628.2,954.1 629.2,954.5 C630.3,954.8 631.3,955.2 632.3,955.6 C633.3,955.9 634.3,956.3 635.3,956.6 C636.3,956.9 637.3,957.2 638.3,957.6 C639.3,957.9 640.3,958.1 641.3,958.4 C642.3,958.7 643.3,958.9 644.3,959.2 C645.3,959.4 646.3,959.6 647.3,959.8 C648.3,960.0 649.3,960.2 650.3,960.4 C651.3,960.5 652.3,960.7 653.3,960.8 C654.3,960.9 655.3,961.0 656.3,961.1 C657.3,961.2 658.3,961.2 659.3,961.2 C660.3,961.3 661.3,961.3 662.3,961.2 C663.3,961.2 664.3,961.2 665.3,961.1 C666.3,961.0 667.3,960.9 668.3,960.8 C669.3,960.7 670.8,960.4 671.3,960.3" fill="none" stroke="#111" stroke-width="1.3"  stroke-linejoin="round" />
<line x1="550.3" y1="555.3" x2="589.5" y2="555.3" stroke="#111" stroke-width="1.3" />
<text x="593.5" y="560.9" font-size="14.7" letter-spacing="2" fill="#1e1e1e">Cl</text>
<text x="611.0" y="551.0" font-size="9" text-anchor="start" font-weight="400" letter-spacing="0" fill="#1e1e1e" >-</text>
<line x1="550.0" y1="580.2" x2="580.0" y2="580.2" stroke="#e8141c" stroke-width="2.6" stroke-dasharray="9.7 9"/>
<text x="595.8" y="585.4" font-size="14.7" letter-spacing="1.3" fill="#1e1e1e">1412 cm<tspan font-size="9" dy="-8" dx="0">-1</tspan></text>
<line x1="550.0" y1="606.2" x2="589.5" y2="606.2" stroke="#1ed21e" stroke-width="2.6" stroke-dasharray="8.7 5 2.5 4.6 3 6"/>
<text x="595.8" y="611.4" font-size="14.7" letter-spacing="1.3" fill="#1e1e1e">1402 cm<tspan font-size="9" dy="-8" dx="0">-1</tspan></text>
<line x1="550.0" y1="630.9" x2="589.5" y2="630.9" stroke="#0c0cc0" stroke-width="2.6" stroke-dasharray="5 4"/>
<text x="595.8" y="636.1" font-size="14.7" letter-spacing="1.3" fill="#1e1e1e">1395 cm<tspan font-size="9" dy="-8" dx="0">-1</tspan></text>
<line x1="550.0" y1="655.3" x2="589.5" y2="655.3" stroke="#d81ed8" stroke-width="2.6" stroke-dasharray="7.6 3 1.5 3.2"/>
<text x="595.8" y="660.5" font-size="14.7" letter-spacing="1.3" fill="#1e1e1e">1391 cm<tspan font-size="9" dy="-8" dx="0">-1</tspan></text>
<line x1="550.0" y1="680.0" x2="589.5" y2="680.0" stroke="#6e6e12" stroke-width="2.6" stroke-dasharray="8.7 5 2.5 4.6 3 6"/>
<text x="595.8" y="685.2" font-size="14.7" letter-spacing="1.3" fill="#1e1e1e">1382 cm<tspan font-size="9" dy="-8" dx="0">-1</tspan></text>
<rect x="90.0" y="541.0" width="64.0" height="68.0" stroke="#000" stroke-width="2.6" fill="#fff"/>
<text x="128.5" y="580.5" font-size="26" text-anchor="middle" font-weight="700" letter-spacing="0" fill="#000" >c</text>
<rect x="742.0" y="536.0" width="594.0" height="437.6" stroke="#2a2a2a" stroke-width="1.6" fill="none"/>
<line x1="787.6" y1="973.6" x2="787.6" y2="981.6" stroke="#2a2a2a" stroke-width="1.5" />
<line x1="879.0" y1="973.6" x2="879.0" y2="981.6" stroke="#2a2a2a" stroke-width="1.5" />
<line x1="970.4" y1="973.6" x2="970.4" y2="981.6" stroke="#2a2a2a" stroke-width="1.5" />
<line x1="1061.8" y1="973.6" x2="1061.8" y2="981.6" stroke="#2a2a2a" stroke-width="1.5" />
<line x1="1153.2" y1="973.6" x2="1153.2" y2="981.6" stroke="#2a2a2a" stroke-width="1.5" />
<line x1="1244.6" y1="973.6" x2="1244.6" y2="981.6" stroke="#2a2a2a" stroke-width="1.5" />
<line x1="1336.0" y1="973.6" x2="1336.0" y2="981.6" stroke="#2a2a2a" stroke-width="1.5" />
<line x1="833.3" y1="973.6" x2="833.3" y2="978.1" stroke="#2a2a2a" stroke-width="1.5" />
<line x1="924.7" y1="973.6" x2="924.7" y2="978.1" stroke="#2a2a2a" stroke-width="1.5" />
<line x1="1016.1" y1="973.6" x2="1016.1" y2="978.1" stroke="#2a2a2a" stroke-width="1.5" />
<line x1="1107.5" y1="973.6" x2="1107.5" y2="978.1" stroke="#2a2a2a" stroke-width="1.5" />
<line x1="1198.9" y1="973.6" x2="1198.9" y2="978.1" stroke="#2a2a2a" stroke-width="1.5" />
<line x1="1290.3" y1="973.6" x2="1290.3" y2="978.1" stroke="#2a2a2a" stroke-width="1.5" />
<text class="t" x="788.5" y="1005.2" font-size="21" text-anchor="middle" font-weight="400" letter-spacing="1.9" fill="#1e1e1e" >1420</text>
<text class="t" x="880.0" y="1005.2" font-size="21" text-anchor="middle" font-weight="400" letter-spacing="1.9" fill="#1e1e1e" >1410</text>
<text class="t" x="971.4" y="1005.2" font-size="21" text-anchor="middle" font-weight="400" letter-spacing="1.9" fill="#1e1e1e" >1400</text>
<text class="t" x="1062.8" y="1005.2" font-size="21" text-anchor="middle" font-weight="400" letter-spacing="1.9" fill="#1e1e1e" >1390</text>
<text class="t" x="1154.2" y="1005.2" font-size="21" text-anchor="middle" font-weight="400" letter-spacing="1.9" fill="#1e1e1e" >1380</text>
<text class="t" x="1245.5" y="1005.2" font-size="21" text-anchor="middle" font-weight="400" letter-spacing="1.9" fill="#1e1e1e" >1370</text>
<text class="t" x="1337.0" y="1005.2" font-size="21" text-anchor="middle" font-weight="400" letter-spacing="1.9" fill="#1e1e1e" >1360</text>
<text class="t" x="935.7" y="1040.6" font-size="21" letter-spacing="1.42" fill="#1e1e1e">Wavenumber (cm</text>
<text x="1122" y="1030.7" font-size="9" letter-spacing="2.5" fill="#1e1e1e">-1</text>
<text class="t" x="1141.6" y="1040.6" font-size="21" text-anchor="end" fill="#1e1e1e">)</text>
<text class="t" transform="translate(701.3,853) rotate(-90)" font-size="21.8" fill="#1e1e1e">Absorbance (a.u.)</text>
<path d="M757.3,931.2 C759.6,927.8 766.4,919.9 771.4,910.8 C776.4,901.6 781.9,889.4 787.1,876.3 C792.3,863.2 797.6,846.4 802.8,832.3 C808.0,818.2 813.3,804.6 818.5,791.5 C823.7,778.4 829.5,764.3 834.2,753.8 C838.9,743.3 843.1,735.0 846.8,728.7 C850.5,722.4 853.1,718.4 856.2,716.2 C859.3,714.0 862.5,714.5 865.6,715.5 C868.7,716.5 870.8,716.5 875.0,722.4 C879.2,728.3 885.5,740.2 890.7,750.7 C895.9,761.2 901.7,773.7 906.4,785.2 C911.1,796.7 914.8,807.2 919.0,819.8 C923.2,832.4 927.6,848.6 931.5,860.6 C935.4,872.6 938.7,882.6 942.6,892.0 C946.5,901.4 950.4,909.8 955.1,917.1 C959.8,924.4 964.5,930.2 970.8,936.0 C977.1,941.8 983.9,947.7 992.8,951.6 C1001.7,955.5 1013.0,957.9 1024.2,959.5 C1035.4,961.1 1010.9,960.8 1060.0,961.1 C1109.1,961.4 1275.6,961.1 1318.7,961.1" fill="none" stroke="#e8141c" stroke-width="2.5" stroke-dasharray="11 8" stroke-linejoin="round" />
<path d="M743.0,961.0 C743.4,961.0 744.7,961.0 745.5,961.0 C746.3,961.0 747.2,961.0 748.0,961.0 C748.8,961.0 749.7,961.0 750.5,961.0 C751.3,961.0 752.2,961.0 753.0,961.0 C753.8,961.0 754.7,961.0 755.5,960.9 C756.3,960.9 757.2,960.9 758.0,960.9 C758.8,960.9 759.7,960.9 760.5,960.9 C761.3,960.9 762.2,960.9 763.0,960.9 C763.8,960.8 764.7,960.8 765.5,960.8 C766.3,960.8 767.2,960.8 768.0,960.8 C768.8,960.8 769.7,960.8 770.5,960.7 C771.3,960.7 772.2,960.7 773.0,960.7 C773.8,960.7 774.7,960.6 775.5,960.6 C776.3,960.6 777.2,960.6 778.0,960.6 C778.8,960.5 779.7,960.5 780.5,960.5 C781.3,960.5 782.2,960.4 783.0,960.4 C783.8,960.4 784.7,960.3 785.5,960.3 C786.3,960.3 787.2,960.2 788.0,960.2 C788.8,960.2 789.7,960.1 790.5,960.1 C791.3,960.0 792.2,960.0 793.0,959.9 C793.8,959.9 794.7,959.8 795.5,959.8 C796.3,959.7 797.2,959.7 798.0,959.6 C798.8,959.6 799.7,959.5 800.5,959.5 C801.3,959.4 802.2,959.3 803.0,959.3 C803.8,959.2 804.7,959.1 805.5,959.0 C806.3,959.0 807.2,958.9 808.0,958.8 C808.8,958.7 809.7,958.6 810.5,958.5 C811.3,958.4 812.2,958.3 813.0,958.2 C813.8,958.1 814.7,958.0 815.5,957.9 C816.3,957.8 817.2,957.7 818.0,957.6 C818.8,957.5 819.7,957.3 820.5,957.2 C821.3,957.1 822.2,956.9 823.0,956.8 C823.8,956.7 824.7,956.5 825.5,956.4 C826.3,956.2 827.2,956.1 828.0,955.9 C828.8,955.7 829.7,955.6 830.5,955.4 C831.3,955.2 832.2,955.0 833.0,954.8 C833.8,954.6 834.7,954.5 835.5,954.3 C836.3,954.0 837.2,953.8 838.0,953.6 C838.8,953.4 839.7,953.2 840.5,953.0 C841.3,952.7 842.2,952.5 843.0,952.2 C843.8,952.0 844.7,951.7 845.5,951.5 C846.3,951.2 847.2,950.9 848.0,950.7 C848.8,950.4 849.7,950.1 850.5,949.8 C851.3,949.5 852.2,949.2 853.0,948.9 C853.8,948.6 854.7,948.3 855.5,948.0 C856.3,947.6 857.2,947.3 858.0,947.0 C858.8,946.6 859.7,946.3 860.5,945.9 C861.3,945.6 862.2,945.2 863.0,944.8 C863.8,944.5 864.7,944.1 865.5,943.7 C866.3,943.3 867.2,942.9 868.0,942.5 C868.8,942.1 869.7,941.7 870.5,941.3 C871.3,940.9 872.2,940.5 873.0,940.0 C873.8,939.6 874.7,939.2 875.5,938.7 C876.3,938.3 877.2,937.9 878.0,937.4 C878.8,937.0 879.7,936.5 880.5,936.0 C881.3,935.6 882.2,935.1 883.0,934.6 C883.8,934.2 884.7,933.7 885.5,933.2 C886.3,932.7 887.2,932.2 888.0,931.7 C888.8,931.3 889.7,930.8 890.5,930.3 C891.3,929.8 892.2,929.3 893.0,928.8 C893.8,928.3 894.7,927.8 895.5,927.3 C896.3,926.8 897.2,926.3 898.0,925.8 C898.8,925.3 899.7,924.8 900.5,924.3 C901.3,923.8 902.2,923.3 903.0,922.8 C903.8,922.3 904.7,921.8 905.5,921.4 C906.3,920.9 907.2,920.4 908.0,919.9 C908.8,919.4 909.7,919.0 910.5,918.5 C911.3,918.0 912.2,917.5 913.0,917.1 C913.8,916.6 914.7,916.2 915.5,915.7 C916.3,915.3 917.2,914.9 918.0,914.4 C918.8,914.0 919.7,913.6 920.5,913.2 C921.3,912.8 922.2,912.4 923.0,912.0 C923.8,911.6 924.7,911.2 925.5,910.8 C926.3,910.5 927.2,910.1 928.0,909.8 C928.8,909.4 929.7,909.1 930.5,908.8 C931.3,908.5 932.2,908.2 933.0,907.9 C933.8,907.6 934.7,907.3 935.5,907.0 C936.3,906.8 937.2,906.5 938.0,906.3 C938.8,906.1 939.7,905.9 940.5,905.7 C941.3,905.5 942.2,905.3 943.0,905.1 C943.8,904.9 944.7,904.8 945.5,904.7 C946.3,904.5 947.2,904.4 948.0,904.3 C948.8,904.2 949.7,904.1 950.5,904.1 C951.3,904.0 952.2,904.0 953.0,903.9 C953.8,903.9 954.7,903.9 955.5,903.9 C956.3,903.9 957.2,903.9 958.0,904.0 C958.8,904.0 959.7,904.1 960.5,904.2 C961.3,904.2 962.2,904.3 963.0,904.4 C963.8,904.6 964.7,904.7 965.5,904.8 C966.3,905.0 967.2,905.1 968.0,905.3 C968.8,905.5 969.7,905.7 970.5,905.9 C971.3,906.1 972.2,906.3 973.0,906.6 C973.8,906.8 974.7,907.1 975.5,907.4 C976.3,907.6 977.2,907.9 978.0,908.2 C978.8,908.5 979.7,908.8 980.5,909.2 C981.3,909.5 982.2,909.8 983.0,910.2 C983.8,910.5 984.7,910.9 985.5,911.3 C986.3,911.7 987.2,912.1 988.0,912.4 C988.8,912.8 989.7,913.3 990.5,913.7 C991.3,914.1 992.2,914.5 993.0,914.9 C993.8,915.4 994.7,915.8 995.5,916.3 C996.3,916.7 997.2,917.2 998.0,917.6 C998.8,918.1 999.7,918.6 1000.5,919.1 C1001.3,919.5 1002.2,920.0 1003.0,920.5 C1003.8,921.0 1004.7,921.5 1005.5,921.9 C1006.3,922.4 1007.2,922.9 1008.0,923.4 C1008.8,923.9 1009.7,924.4 1010.5,924.9 C1011.3,925.4 1012.2,925.9 1013.0,926.4 C1013.8,926.9 1014.7,927.4 1015.5,927.9 C1016.3,928.4 1017.2,928.9 1018.0,929.4 C1018.8,929.9 1019.7,930.4 1020.5,930.9 C1021.3,931.4 1022.2,931.8 1023.0,932.3 C1023.8,932.8 1024.7,933.3 1025.5,933.8 C1026.3,934.3 1027.2,934.7 1028.0,935.2 C1028.8,935.7 1029.7,936.1 1030.5,936.6 C1031.3,937.0 1032.2,937.5 1033.0,937.9 C1033.8,938.4 1034.7,938.8 1035.5,939.3 C1036.3,939.7 1037.2,940.1 1038.0,940.6 C1038.8,941.0 1039.7,941.4 1040.5,941.8 C1041.3,942.2 1042.2,942.6 1043.0,943.0 C1043.8,943.4 1044.7,943.8 1045.5,944.2 C1046.3,944.5 1047.2,944.9 1048.0,945.3 C1048.8,945.6 1049.7,946.0 1050.5,946.4 C1051.3,946.7 1052.2,947.0 1053.0,947.4 C1053.8,947.7 1054.7,948.0 1055.5,948.4 C1056.3,948.7 1057.2,949.0 1058.0,949.3 C1058.8,949.6 1059.7,949.9 1060.5,950.2 C1061.3,950.4 1062.2,950.7 1063.0,951.0 C1063.8,951.3 1064.7,951.5 1065.5,951.8 C1066.3,952.0 1067.2,952.3 1068.0,952.5 C1068.8,952.8 1069.7,953.0 1070.5,953.2 C1071.3,953.4 1072.2,953.7 1073.0,953.9 C1073.8,954.1 1074.7,954.3 1075.5,954.5 C1076.3,954.7 1077.2,954.9 1078.0,955.1 C1078.8,955.2 1079.7,955.4 1080.5,955.6 C1081.3,955.8 1082.2,955.9 1083.0,956.1 C1083.8,956.2 1084.7,956.4 1085.5,956.5 C1086.3,956.7 1087.2,956.8 1088.0,957.0 C1088.8,957.1 1089.7,957.2 1090.5,957.4 C1091.3,957.5 1092.2,957.6 1093.0,957.7 C1093.8,957.8 1094.7,958.0 1095.5,958.1 C1096.3,958.2 1097.2,958.3 1098.0,958.4 C1098.8,958.5 1099.7,958.6 1100.5,958.6 C1101.3,958.7 1102.2,958.8 1103.0,958.9 C1103.8,959.0 1104.7,959.1 1105.5,959.1 C1106.3,959.2 1107.2,959.3 1108.0,959.3 C1108.8,959.4 1109.7,959.5 1110.5,959.5 C1111.3,959.6 1112.2,959.6 1113.0,959.7 C1113.8,959.8 1114.7,959.8 1115.5,959.9 C1116.3,959.9 1117.2,960.0 1118.0,960.0 C1118.8,960.0 1119.7,960.1 1120.5,960.1 C1121.3,960.2 1122.2,960.2 1123.0,960.2 C1123.8,960.3 1124.7,960.3 1125.5,960.3 C1126.3,960.4 1127.2,960.4 1128.0,960.4 C1128.8,960.5 1129.7,960.5 1130.5,960.5 C1131.3,960.5 1132.2,960.6 1133.0,960.6 C1133.8,960.6 1134.7,960.6 1135.5,960.6 C1136.3,960.7 1137.2,960.7 1138.0,960.7 C1138.8,960.7 1139.7,960.7 1140.5,960.8 C1141.3,960.8 1142.2,960.8 1143.0,960.8 C1143.8,960.8 1144.7,960.8 1145.5,960.8 C1146.3,960.9 1147.2,960.9 1148.0,960.9 C1148.8,960.9 1149.7,960.9 1150.5,960.9 C1151.3,960.9 1152.2,960.9 1153.0,960.9 C1153.8,960.9 1154.7,960.9 1155.5,961.0 C1156.3,961.0 1157.2,961.0 1158.0,961.0 C1158.8,961.0 1159.7,961.0 1160.5,961.0 C1161.3,961.0 1162.2,961.0 1163.0,961.0 C1163.8,961.0 1164.7,961.0 1165.5,961.0 C1166.3,961.0 1167.2,961.0 1168.0,961.0 C1168.8,961.0 1169.7,961.0 1170.5,961.0 C1171.3,961.0 1172.2,961.0 1173.0,961.1 C1173.8,961.1 1174.7,961.1 1175.5,961.1 C1176.3,961.1 1177.2,961.1 1178.0,961.1 C1178.8,961.1 1179.7,961.1 1180.5,961.1 C1181.3,961.1 1182.2,961.1 1183.0,961.1 C1183.8,961.1 1184.7,961.1 1185.5,961.1 C1186.3,961.1 1187.2,961.1 1188.0,961.1 C1188.8,961.1 1189.7,961.1 1190.5,961.1 C1191.3,961.1 1192.2,961.1 1193.0,961.1 C1193.8,961.1 1194.7,961.1 1195.5,961.1 C1196.3,961.1 1197.2,961.1 1198.0,961.1 C1198.8,961.1 1199.7,961.1 1200.5,961.1 C1201.3,961.1 1202.2,961.1 1203.0,961.1 C1203.8,961.1 1204.7,961.1 1205.5,961.1 C1206.3,961.1 1207.2,961.1 1208.0,961.1 C1208.8,961.1 1209.7,961.1 1210.5,961.1 C1211.3,961.1 1212.2,961.1 1213.0,961.1 C1213.8,961.1 1214.7,961.1 1215.5,961.1 C1216.3,961.1 1217.2,961.1 1218.0,961.1 C1218.8,961.1 1219.7,961.1 1220.5,961.1 C1221.3,961.1 1222.2,961.1 1223.0,961.1 C1223.8,961.1 1224.7,961.1 1225.5,961.1 C1226.3,961.1 1227.2,961.1 1228.0,961.1 C1228.8,961.1 1229.7,961.1 1230.5,961.1 C1231.3,961.1 1232.2,961.1 1233.0,961.1 C1233.8,961.1 1234.7,961.1 1235.5,961.1 C1236.3,961.1 1237.2,961.1 1238.0,961.1 C1238.8,961.1 1239.7,961.1 1240.5,961.1 C1241.3,961.1 1242.2,961.1 1243.0,961.1 C1243.8,961.1 1244.7,961.1 1245.5,961.1 C1246.3,961.1 1247.2,961.1 1248.0,961.1 C1248.8,961.1 1249.7,961.1 1250.5,961.1 C1251.3,961.1 1252.2,961.1 1253.0,961.1 C1253.8,961.1 1254.7,961.1 1255.5,961.1 C1256.3,961.1 1257.2,961.1 1258.0,961.1 C1258.8,961.1 1259.7,961.1 1260.5,961.1 C1261.3,961.1 1262.2,961.1 1263.0,961.1 C1263.8,961.1 1264.7,961.1 1265.5,961.1 C1266.3,961.1 1267.2,961.1 1268.0,961.1 C1268.8,961.1 1269.7,961.1 1270.5,961.1 C1271.3,961.1 1272.2,961.1 1273.0,961.1 C1273.8,961.1 1274.7,961.1 1275.5,961.1 C1276.3,961.1 1277.2,961.1 1278.0,961.1 C1278.8,961.1 1279.7,961.1 1280.5,961.1 C1281.3,961.1 1282.2,961.1 1283.0,961.1 C1283.8,961.1 1284.7,961.1 1285.5,961.1 C1286.3,961.1 1287.2,961.1 1288.0,961.1 C1288.8,961.1 1289.7,961.1 1290.5,961.1 C1291.3,961.1 1292.2,961.1 1293.0,961.1 C1293.8,961.1 1294.7,961.1 1295.5,961.1 C1296.3,961.1 1297.2,961.1 1298.0,961.1 C1298.8,961.1 1299.7,961.1 1300.5,961.1 C1301.3,961.1 1302.2,961.1 1303.0,961.1 C1303.8,961.1 1304.7,961.1 1305.5,961.1 C1306.3,961.1 1307.2,961.1 1308.0,961.1 C1308.8,961.1 1309.7,961.1 1310.5,961.1 C1311.3,961.1 1312.2,961.1 1313.0,961.1 C1313.8,961.1 1314.7,961.1 1315.5,961.1 C1316.3,961.1 1317.5,961.1 1318.0,961.1 C1318.5,961.1 1318.6,961.1 1318.7,961.1" fill="none" stroke="#1ed21e" stroke-width="2.5" stroke-dasharray="13 8.5 3 8.5" stroke-linejoin="round" />
<path d="M743.0,961.1 C743.4,961.1 744.7,961.1 745.5,961.1 C746.3,961.1 747.2,961.1 748.0,961.1 C748.8,961.1 749.7,961.1 750.5,961.1 C751.3,961.1 752.2,961.1 753.0,961.1 C753.8,961.1 754.7,961.1 755.5,961.1 C756.3,961.1 757.2,961.1 758.0,961.1 C758.8,961.1 759.7,961.1 760.5,961.1 C761.3,961.1 762.2,961.1 763.0,961.1 C763.8,961.1 764.7,961.1 765.5,961.1 C766.3,961.1 767.2,961.1 768.0,961.1 C768.8,961.1 769.7,961.1 770.5,961.1 C771.3,961.1 772.2,961.1 773.0,961.1 C773.8,961.1 774.7,961.1 775.5,961.1 C776.3,961.1 777.2,961.1 778.0,961.1 C778.8,961.1 779.7,961.1 780.5,961.1 C781.3,961.0 782.2,961.0 783.0,961.0 C783.8,961.0 784.7,961.0 785.5,961.0 C786.3,961.0 787.2,961.0 788.0,961.0 C788.8,961.0 789.7,961.0 790.5,961.0 C791.3,961.0 792.2,961.0 793.0,961.0 C793.8,961.0 794.7,961.0 795.5,961.0 C796.3,960.9 797.2,960.9 798.0,960.9 C798.8,960.9 799.7,960.9 800.5,960.9 C801.3,960.9 802.2,960.9 803.0,960.9 C803.8,960.8 804.7,960.8 805.5,960.8 C806.3,960.8 807.2,960.8 808.0,960.8 C808.8,960.7 809.7,960.7 810.5,960.7 C811.3,960.7 812.2,960.7 813.0,960.6 C813.8,960.6 814.7,960.6 815.5,960.6 C816.3,960.5 817.2,960.5 818.0,960.5 C818.8,960.4 819.7,960.4 820.5,960.4 C821.3,960.3 822.2,960.3 823.0,960.2 C823.8,960.2 824.7,960.2 825.5,960.1 C826.3,960.1 827.2,960.0 828.0,960.0 C828.8,959.9 829.7,959.8 830.5,959.8 C831.3,959.7 832.2,959.6 833.0,959.6 C833.8,959.5 834.7,959.4 835.5,959.3 C836.3,959.3 837.2,959.2 838.0,959.1 C838.8,959.0 839.7,958.9 840.5,958.8 C841.3,958.7 842.2,958.6 843.0,958.5 C843.8,958.3 844.7,958.2 845.5,958.1 C846.3,958.0 847.2,957.8 848.0,957.7 C848.8,957.5 849.7,957.4 850.5,957.2 C851.3,957.0 852.2,956.9 853.0,956.7 C853.8,956.5 854.7,956.3 855.5,956.1 C856.3,955.9 857.2,955.7 858.0,955.5 C858.8,955.2 859.7,955.0 860.5,954.8 C861.3,954.5 862.2,954.2 863.0,954.0 C863.8,953.7 864.7,953.4 865.5,953.1 C866.3,952.8 867.2,952.5 868.0,952.2 C868.8,951.8 869.7,951.5 870.5,951.1 C871.3,950.7 872.2,950.4 873.0,950.0 C873.8,949.6 874.7,949.2 875.5,948.7 C876.3,948.3 877.2,947.8 878.0,947.4 C878.8,946.9 879.7,946.4 880.5,945.9 C881.3,945.4 882.2,944.9 883.0,944.3 C883.8,943.7 884.7,943.2 885.5,942.6 C886.3,942.0 887.2,941.4 888.0,940.7 C888.8,940.1 889.7,939.4 890.5,938.7 C891.3,938.0 892.2,937.3 893.0,936.6 C893.8,935.8 894.7,935.1 895.5,934.3 C896.3,933.5 897.2,932.7 898.0,931.8 C898.8,931.0 899.7,930.1 900.5,929.2 C901.3,928.3 902.2,927.4 903.0,926.5 C903.8,925.5 904.7,924.6 905.5,923.6 C906.3,922.6 907.2,921.5 908.0,920.5 C908.8,919.4 909.7,918.3 910.5,917.2 C911.3,916.1 912.2,915.0 913.0,913.8 C913.8,912.7 914.7,911.5 915.5,910.3 C916.3,909.1 917.2,907.8 918.0,906.6 C918.8,905.3 919.7,904.0 920.5,902.7 C921.3,901.4 922.2,900.1 923.0,898.7 C923.8,897.4 924.7,896.0 925.5,894.6 C926.3,893.2 927.2,891.8 928.0,890.3 C928.8,888.9 929.7,887.4 930.5,886.0 C931.3,884.5 932.2,883.0 933.0,881.5 C933.8,880.0 934.7,878.5 935.5,876.9 C936.3,875.4 937.2,873.9 938.0,872.3 C938.8,870.8 939.7,869.2 940.5,867.6 C941.3,866.1 942.2,864.5 943.0,862.9 C943.8,861.3 944.7,859.7 945.5,858.1 C946.3,856.6 947.2,855.0 948.0,853.4 C948.8,851.8 949.7,850.2 950.5,848.7 C951.3,847.1 952.2,845.5 953.0,844.0 C953.8,842.4 954.7,840.8 955.5,839.3 C956.3,837.8 957.2,836.3 958.0,834.8 C958.8,833.3 959.7,831.8 960.5,830.3 C961.3,828.8 962.2,827.4 963.0,826.0 C963.8,824.6 964.7,823.2 965.5,821.8 C966.3,820.4 967.2,819.1 968.0,817.8 C968.8,816.5 969.7,815.2 970.5,814.0 C971.3,812.8 972.2,811.6 973.0,810.4 C973.8,809.2 974.7,808.1 975.5,807.0 C976.3,806.0 977.2,804.9 978.0,804.0 C978.8,803.0 979.7,802.0 980.5,801.1 C981.3,800.2 982.2,799.4 983.0,798.6 C983.8,797.8 984.7,797.1 985.5,796.4 C986.3,795.7 987.2,795.0 988.0,794.5 C988.8,793.9 989.7,793.4 990.5,792.9 C991.3,792.4 992.2,792.0 993.0,791.7 C993.8,791.3 994.7,791.0 995.5,790.8 C996.3,790.6 997.2,790.4 998.0,790.3 C998.8,790.2 999.7,790.1 1000.5,790.1 C1001.3,790.1 1002.2,790.2 1003.0,790.3 C1003.8,790.4 1004.7,790.6 1005.5,790.8 C1006.3,791.1 1007.2,791.4 1008.0,791.8 C1008.8,792.1 1009.7,792.5 1010.5,793.0 C1011.3,793.5 1012.2,794.0 1013.0,794.6 C1013.8,795.2 1014.7,795.8 1015.5,796.5 C1016.3,797.2 1017.2,798.0 1018.0,798.8 C1018.8,799.6 1019.7,800.4 1020.5,801.3 C1021.3,802.2 1022.2,803.2 1023.0,804.2 C1023.8,805.2 1024.7,806.2 1025.5,807.3 C1026.3,808.4 1027.2,809.5 1028.0,810.7 C1028.8,811.8 1029.7,813.0 1030.5,814.3 C1031.3,815.5 1032.2,816.8 1033.0,818.1 C1033.8,819.4 1034.7,820.8 1035.5,822.1 C1036.3,823.5 1037.2,824.9 1038.0,826.3 C1038.8,827.7 1039.7,829.2 1040.5,830.7 C1041.3,832.1 1042.2,833.6 1043.0,835.1 C1043.8,836.6 1044.7,838.1 1045.5,839.7 C1046.3,841.2 1047.2,842.8 1048.0,844.3 C1048.8,845.9 1049.7,847.5 1050.5,849.0 C1051.3,850.6 1052.2,852.2 1053.0,853.8 C1053.8,855.4 1054.7,856.9 1055.5,858.5 C1056.3,860.1 1057.2,861.7 1058.0,863.3 C1058.8,864.9 1059.7,866.4 1060.5,868.0 C1061.3,869.6 1062.2,871.1 1063.0,872.7 C1063.8,874.2 1064.7,875.8 1065.5,877.3 C1066.3,878.8 1067.2,880.4 1068.0,881.9 C1068.8,883.4 1069.7,884.9 1070.5,886.3 C1071.3,887.8 1072.2,889.3 1073.0,890.7 C1073.8,892.1 1074.7,893.5 1075.5,894.9 C1076.3,896.3 1077.2,897.7 1078.0,899.0 C1078.8,900.4 1079.7,901.7 1080.5,903.0 C1081.3,904.3 1082.2,905.6 1083.0,906.9 C1083.8,908.1 1084.7,909.4 1085.5,910.6 C1086.3,911.8 1087.2,913.0 1088.0,914.1 C1088.8,915.3 1089.7,916.4 1090.5,917.5 C1091.3,918.6 1092.2,919.7 1093.0,920.7 C1093.8,921.8 1094.7,922.8 1095.5,923.8 C1096.3,924.8 1097.2,925.8 1098.0,926.7 C1098.8,927.6 1099.7,928.6 1100.5,929.4 C1101.3,930.3 1102.2,931.2 1103.0,932.0 C1103.8,932.9 1104.7,933.7 1105.5,934.5 C1106.3,935.3 1107.2,936.0 1108.0,936.7 C1108.8,937.5 1109.7,938.2 1110.5,938.9 C1111.3,939.6 1112.2,940.2 1113.0,940.9 C1113.8,941.5 1114.7,942.1 1115.5,942.7 C1116.3,943.3 1117.2,943.9 1118.0,944.4 C1118.8,945.0 1119.7,945.5 1120.5,946.0 C1121.3,946.5 1122.2,947.0 1123.0,947.5 C1123.8,948.0 1124.7,948.4 1125.5,948.8 C1126.3,949.3 1127.2,949.7 1128.0,950.1 C1128.8,950.5 1129.7,950.8 1130.5,951.2 C1131.3,951.6 1132.2,951.9 1133.0,952.2 C1133.8,952.6 1134.7,952.9 1135.5,953.2 C1136.3,953.5 1137.2,953.8 1138.0,954.0 C1138.8,954.3 1139.7,954.6 1140.5,954.8 C1141.3,955.1 1142.2,955.3 1143.0,955.5 C1143.8,955.7 1144.7,956.0 1145.5,956.2 C1146.3,956.4 1147.2,956.6 1148.0,956.7 C1148.8,956.9 1149.7,957.1 1150.5,957.2 C1151.3,957.4 1152.2,957.6 1153.0,957.7 C1153.8,957.9 1154.7,958.0 1155.5,958.1 C1156.3,958.2 1157.2,958.4 1158.0,958.5 C1158.8,958.6 1159.7,958.7 1160.5,958.8 C1161.3,958.9 1162.2,959.0 1163.0,959.1 C1163.8,959.2 1164.7,959.3 1165.5,959.4 C1166.3,959.4 1167.2,959.5 1168.0,959.6 C1168.8,959.7 1169.7,959.7 1170.5,959.8 C1171.3,959.9 1172.2,959.9 1173.0,960.0 C1173.8,960.0 1174.7,960.1 1175.5,960.1 C1176.3,960.2 1177.2,960.2 1178.0,960.3 C1178.8,960.3 1179.7,960.3 1180.5,960.4 C1181.3,960.4 1182.2,960.4 1183.0,960.5 C1183.8,960.5 1184.7,960.5 1185.5,960.6 C1186.3,960.6 1187.2,960.6 1188.0,960.6 C1188.8,960.7 1189.7,960.7 1190.5,960.7 C1191.3,960.7 1192.2,960.8 1193.0,960.8 C1193.8,960.8 1194.7,960.8 1195.5,960.8 C1196.3,960.8 1197.2,960.8 1198.0,960.9 C1198.8,960.9 1199.7,960.9 1200.5,960.9 C1201.3,960.9 1202.2,960.9 1203.0,960.9 C1203.8,960.9 1204.7,960.9 1205.5,961.0 C1206.3,961.0 1207.2,961.0 1208.0,961.0 C1208.8,961.0 1209.7,961.0 1210.5,961.0 C1211.3,961.0 1212.2,961.0 1213.0,961.0 C1213.8,961.0 1214.7,961.0 1215.5,961.0 C1216.3,961.0 1217.2,961.0 1218.0,961.0 C1218.8,961.0 1219.7,961.0 1220.5,961.1 C1221.3,961.1 1222.2,961.1 1223.0,961.1 C1223.8,961.1 1224.7,961.1 1225.5,961.1 C1226.3,961.1 1227.2,961.1 1228.0,961.1 C1228.8,961.1 1229.7,961.1 1230.5,961.1 C1231.3,961.1 1232.2,961.1 1233.0,961.1 C1233.8,961.1 1234.7,961.1 1235.5,961.1 C1236.3,961.1 1237.2,961.1 1238.0,961.1 C1238.8,961.1 1239.7,961.1 1240.5,961.1 C1241.3,961.1 1242.2,961.1 1243.0,961.1 C1243.8,961.1 1244.7,961.1 1245.5,961.1 C1246.3,961.1 1247.2,961.1 1248.0,961.1 C1248.8,961.1 1249.7,961.1 1250.5,961.1 C1251.3,961.1 1252.2,961.1 1253.0,961.1 C1253.8,961.1 1254.7,961.1 1255.5,961.1 C1256.3,961.1 1257.2,961.1 1258.0,961.1 C1258.8,961.1 1259.7,961.1 1260.5,961.1 C1261.3,961.1 1262.2,961.1 1263.0,961.1 C1263.8,961.1 1264.7,961.1 1265.5,961.1 C1266.3,961.1 1267.2,961.1 1268.0,961.1 C1268.8,961.1 1269.7,961.1 1270.5,961.1 C1271.3,961.1 1272.2,961.1 1273.0,961.1 C1273.8,961.1 1274.7,961.1 1275.5,961.1 C1276.3,961.1 1277.2,961.1 1278.0,961.1 C1278.8,961.1 1279.7,961.1 1280.5,961.1 C1281.3,961.1 1282.2,961.1 1283.0,961.1 C1283.8,961.1 1284.7,961.1 1285.5,961.1 C1286.3,961.1 1287.2,961.1 1288.0,961.1 C1288.8,961.1 1289.7,961.1 1290.5,961.1 C1291.3,961.1 1292.2,961.1 1293.0,961.1 C1293.8,961.1 1294.7,961.1 1295.5,961.1 C1296.3,961.1 1297.2,961.1 1298.0,961.1 C1298.8,961.1 1299.7,961.1 1300.5,961.1 C1301.3,961.1 1302.2,961.1 1303.0,961.1 C1303.8,961.1 1304.7,961.1 1305.5,961.1 C1306.3,961.1 1307.2,961.1 1308.0,961.1 C1308.8,961.1 1309.7,961.1 1310.5,961.1 C1311.3,961.1 1312.2,961.1 1313.0,961.1 C1313.8,961.1 1314.7,961.1 1315.5,961.1 C1316.3,961.1 1317.5,961.1 1318.0,961.1 C1318.5,961.1 1318.6,961.1 1318.7,961.1" fill="none" stroke="#0c0cc0" stroke-width="2.5" stroke-dasharray="13 8.5 3 8.5" stroke-linejoin="round" />
<path d="M743.0,961.1 C743.4,961.1 744.7,961.1 745.5,961.1 C746.3,961.1 747.2,961.1 748.0,961.1 C748.8,961.1 749.7,961.1 750.5,961.1 C751.3,961.1 752.2,961.1 753.0,961.1 C753.8,961.1 754.7,961.1 755.5,961.1 C756.3,961.1 757.2,961.1 758.0,961.1 C758.8,961.1 759.7,961.1 760.5,961.1 C761.3,961.1 762.2,961.1 763.0,961.1 C763.8,961.1 764.7,961.1 765.5,961.1 C766.3,961.1 767.2,961.1 768.0,961.1 C768.8,961.1 769.7,961.1 770.5,961.1 C771.3,961.1 772.2,961.1 773.0,961.1 C773.8,961.1 774.7,961.1 775.5,961.1 C776.3,961.1 777.2,961.1 778.0,961.1 C778.8,961.1 779.7,961.1 780.5,961.1 C781.3,961.1 782.2,961.1 783.0,961.1 C783.8,961.1 784.7,961.1 785.5,961.1 C786.3,961.1 787.2,961.1 788.0,961.1 C788.8,961.1 789.7,961.1 790.5,961.1 C791.3,961.1 792.2,961.1 793.0,961.1 C793.8,961.1 794.7,961.1 795.5,961.1 C796.3,961.1 797.2,961.1 798.0,961.1 C798.8,961.1 799.7,961.1 800.5,961.1 C801.3,961.1 802.2,961.1 803.0,961.1 C803.8,961.1 804.7,961.1 805.5,961.1 C806.3,961.1 807.2,961.1 808.0,961.1 C808.8,961.1 809.7,961.1 810.5,961.1 C811.3,961.1 812.2,961.1 813.0,961.1 C813.8,961.1 814.7,961.1 815.5,961.1 C816.3,961.1 817.2,961.1 818.0,961.1 C818.8,961.1 819.7,961.1 820.5,961.1 C821.3,961.1 822.2,961.1 823.0,961.1 C823.8,961.1 824.7,961.1 825.5,961.1 C826.3,961.1 827.2,961.1 828.0,961.1 C828.8,961.1 829.7,961.1 830.5,961.0 C831.3,961.0 832.2,961.0 833.0,961.0 C833.8,961.0 834.7,961.0 835.5,961.0 C836.3,961.0 837.2,961.0 838.0,961.0 C838.8,961.0 839.7,961.0 840.5,961.0 C841.3,961.0 842.2,961.0 843.0,961.0 C843.8,961.0 844.7,961.0 845.5,961.0 C846.3,961.0 847.2,960.9 848.0,960.9 C848.8,960.9 849.7,960.9 850.5,960.9 C851.3,960.9 852.2,960.9 853.0,960.9 C853.8,960.9 854.7,960.9 855.5,960.8 C856.3,960.8 857.2,960.8 858.0,960.8 C858.8,960.8 859.7,960.8 860.5,960.7 C861.3,960.7 862.2,960.7 863.0,960.7 C863.8,960.7 864.7,960.7 865.5,960.6 C866.3,960.6 867.2,960.6 868.0,960.6 C868.8,960.5 869.7,960.5 870.5,960.5 C871.3,960.4 872.2,960.4 873.0,960.4 C873.8,960.3 874.7,960.3 875.5,960.3 C876.3,960.2 877.2,960.2 878.0,960.2 C878.8,960.1 879.7,960.1 880.5,960.0 C881.3,960.0 882.2,959.9 883.0,959.9 C883.8,959.8 884.7,959.8 885.5,959.7 C886.3,959.6 887.2,959.6 888.0,959.5 C888.8,959.4 889.7,959.4 890.5,959.3 C891.3,959.2 892.2,959.1 893.0,959.1 C893.8,959.0 894.7,958.9 895.5,958.8 C896.3,958.7 897.2,958.6 898.0,958.5 C898.8,958.4 899.7,958.3 900.5,958.2 C901.3,958.1 902.2,957.9 903.0,957.8 C903.8,957.7 904.7,957.6 905.5,957.4 C906.3,957.3 907.2,957.1 908.0,957.0 C908.8,956.8 909.7,956.7 910.5,956.5 C911.3,956.3 912.2,956.1 913.0,956.0 C913.8,955.8 914.7,955.6 915.5,955.4 C916.3,955.2 917.2,955.0 918.0,954.8 C918.8,954.5 919.7,954.3 920.5,954.1 C921.3,953.8 922.2,953.6 923.0,953.3 C923.8,953.1 924.7,952.8 925.5,952.5 C926.3,952.2 927.2,951.9 928.0,951.6 C928.8,951.3 929.7,951.0 930.5,950.7 C931.3,950.4 932.2,950.0 933.0,949.7 C933.8,949.3 934.7,949.0 935.5,948.6 C936.3,948.2 937.2,947.8 938.0,947.4 C938.8,947.0 939.7,946.6 940.5,946.2 C941.3,945.7 942.2,945.3 943.0,944.8 C943.8,944.4 944.7,943.9 945.5,943.4 C946.3,942.9 947.2,942.4 948.0,941.9 C948.8,941.4 949.7,940.8 950.5,940.3 C951.3,939.7 952.2,939.2 953.0,938.6 C953.8,938.0 954.7,937.4 955.5,936.8 C956.3,936.2 957.2,935.6 958.0,934.9 C958.8,934.3 959.7,933.6 960.5,933.0 C961.3,932.3 962.2,931.6 963.0,930.9 C963.8,930.2 964.7,929.5 965.5,928.8 C966.3,928.1 967.2,927.3 968.0,926.6 C968.8,925.8 969.7,925.0 970.5,924.2 C971.3,923.5 972.2,922.7 973.0,921.8 C973.8,921.0 974.7,920.2 975.5,919.4 C976.3,918.5 977.2,917.7 978.0,916.8 C978.8,916.0 979.7,915.1 980.5,914.2 C981.3,913.4 982.2,912.5 983.0,911.6 C983.8,910.7 984.7,909.8 985.5,908.9 C986.3,908.0 987.2,907.0 988.0,906.1 C988.8,905.2 989.7,904.3 990.5,903.3 C991.3,902.4 992.2,901.4 993.0,900.5 C993.8,899.6 994.7,898.6 995.5,897.7 C996.3,896.7 997.2,895.8 998.0,894.8 C998.8,893.9 999.7,892.9 1000.5,892.0 C1001.3,891.0 1002.2,890.1 1003.0,889.2 C1003.8,888.2 1004.7,887.3 1005.5,886.4 C1006.3,885.4 1007.2,884.5 1008.0,883.6 C1008.8,882.7 1009.7,881.8 1010.5,880.9 C1011.3,880.0 1012.2,879.1 1013.0,878.3 C1013.8,877.4 1014.7,876.5 1015.5,875.7 C1016.3,874.9 1017.2,874.0 1018.0,873.2 C1018.8,872.4 1019.7,871.6 1020.5,870.9 C1021.3,870.1 1022.2,869.3 1023.0,868.6 C1023.8,867.9 1024.7,867.1 1025.5,866.4 C1026.3,865.8 1027.2,865.1 1028.0,864.4 C1028.8,863.8 1029.7,863.2 1030.5,862.6 C1031.3,862.0 1032.2,861.4 1033.0,860.9 C1033.8,860.3 1034.7,859.8 1035.5,859.3 C1036.3,858.8 1037.2,858.4 1038.0,858.0 C1038.8,857.5 1039.7,857.1 1040.5,856.8 C1041.3,856.4 1042.2,856.1 1043.0,855.8 C1043.8,855.5 1044.7,855.2 1045.5,855.0 C1046.3,854.7 1047.2,854.5 1048.0,854.3 C1048.8,854.2 1049.7,854.0 1050.5,853.9 C1051.3,853.8 1052.2,853.8 1053.0,853.7 C1053.8,853.7 1054.7,853.7 1055.5,853.7 C1056.3,853.8 1057.2,853.8 1058.0,853.9 C1058.8,854.0 1059.7,854.2 1060.5,854.3 C1061.3,854.5 1062.2,854.7 1063.0,854.9 C1063.8,855.2 1064.7,855.4 1065.5,855.7 C1066.3,856.0 1067.2,856.4 1068.0,856.7 C1068.8,857.1 1069.7,857.5 1070.5,857.9 C1071.3,858.3 1072.2,858.8 1073.0,859.3 C1073.8,859.8 1074.7,860.3 1075.5,860.8 C1076.3,861.3 1077.2,861.9 1078.0,862.5 C1078.8,863.1 1079.7,863.7 1080.5,864.4 C1081.3,865.0 1082.2,865.7 1083.0,866.4 C1083.8,867.1 1084.7,867.8 1085.5,868.5 C1086.3,869.2 1087.2,870.0 1088.0,870.8 C1088.8,871.5 1089.7,872.3 1090.5,873.1 C1091.3,873.9 1092.2,874.8 1093.0,875.6 C1093.8,876.4 1094.7,877.3 1095.5,878.2 C1096.3,879.0 1097.2,879.9 1098.0,880.8 C1098.8,881.7 1099.7,882.6 1100.5,883.5 C1101.3,884.4 1102.2,885.3 1103.0,886.3 C1103.8,887.2 1104.7,888.1 1105.5,889.1 C1106.3,890.0 1107.2,890.9 1108.0,891.9 C1108.8,892.8 1109.7,893.8 1110.5,894.7 C1111.3,895.7 1112.2,896.6 1113.0,897.5 C1113.8,898.5 1114.7,899.4 1115.5,900.4 C1116.3,901.3 1117.2,902.3 1118.0,903.2 C1118.8,904.1 1119.7,905.1 1120.5,906.0 C1121.3,906.9 1122.2,907.8 1123.0,908.8 C1123.8,909.7 1124.7,910.6 1125.5,911.5 C1126.3,912.4 1127.2,913.3 1128.0,914.1 C1128.8,915.0 1129.7,915.9 1130.5,916.7 C1131.3,917.6 1132.2,918.4 1133.0,919.3 C1133.8,920.1 1134.7,920.9 1135.5,921.8 C1136.3,922.6 1137.2,923.4 1138.0,924.1 C1138.8,924.9 1139.7,925.7 1140.5,926.5 C1141.3,927.2 1142.2,928.0 1143.0,928.7 C1143.8,929.4 1144.7,930.1 1145.5,930.8 C1146.3,931.5 1147.2,932.2 1148.0,932.9 C1148.8,933.6 1149.7,934.2 1150.5,934.9 C1151.3,935.5 1152.2,936.1 1153.0,936.7 C1153.8,937.3 1154.7,937.9 1155.5,938.5 C1156.3,939.1 1157.2,939.7 1158.0,940.2 C1158.8,940.8 1159.7,941.3 1160.5,941.8 C1161.3,942.3 1162.2,942.8 1163.0,943.3 C1163.8,943.8 1164.7,944.3 1165.5,944.8 C1166.3,945.2 1167.2,945.7 1168.0,946.1 C1168.8,946.5 1169.7,947.0 1170.5,947.4 C1171.3,947.8 1172.2,948.2 1173.0,948.5 C1173.8,948.9 1174.7,949.3 1175.5,949.6 C1176.3,950.0 1177.2,950.3 1178.0,950.7 C1178.8,951.0 1179.7,951.3 1180.5,951.6 C1181.3,951.9 1182.2,952.2 1183.0,952.5 C1183.8,952.8 1184.7,953.0 1185.5,953.3 C1186.3,953.6 1187.2,953.8 1188.0,954.0 C1188.8,954.3 1189.7,954.5 1190.5,954.7 C1191.3,955.0 1192.2,955.2 1193.0,955.4 C1193.8,955.6 1194.7,955.8 1195.5,955.9 C1196.3,956.1 1197.2,956.3 1198.0,956.5 C1198.8,956.6 1199.7,956.8 1200.5,957.0 C1201.3,957.1 1202.2,957.3 1203.0,957.4 C1203.8,957.5 1204.7,957.7 1205.5,957.8 C1206.3,957.9 1207.2,958.0 1208.0,958.2 C1208.8,958.3 1209.7,958.4 1210.5,958.5 C1211.3,958.6 1212.2,958.7 1213.0,958.8 C1213.8,958.9 1214.7,959.0 1215.5,959.0 C1216.3,959.1 1217.2,959.2 1218.0,959.3 C1218.8,959.4 1219.7,959.4 1220.5,959.5 C1221.3,959.6 1222.2,959.6 1223.0,959.7 C1223.8,959.8 1224.7,959.8 1225.5,959.9 C1226.3,959.9 1227.2,960.0 1228.0,960.0 C1228.8,960.1 1229.7,960.1 1230.5,960.2 C1231.3,960.2 1232.2,960.2 1233.0,960.3 C1233.8,960.3 1234.7,960.3 1235.5,960.4 C1236.3,960.4 1237.2,960.4 1238.0,960.5 C1238.8,960.5 1239.7,960.5 1240.5,960.6 C1241.3,960.6 1242.2,960.6 1243.0,960.6 C1243.8,960.6 1244.7,960.7 1245.5,960.7 C1246.3,960.7 1247.2,960.7 1248.0,960.7 C1248.8,960.8 1249.7,960.8 1250.5,960.8 C1251.3,960.8 1252.2,960.8 1253.0,960.8 C1253.8,960.9 1254.7,960.9 1255.5,960.9 C1256.3,960.9 1257.2,960.9 1258.0,960.9 C1258.8,960.9 1259.7,960.9 1260.5,960.9 C1261.3,960.9 1262.2,961.0 1263.0,961.0 C1263.8,961.0 1264.7,961.0 1265.5,961.0 C1266.3,961.0 1267.2,961.0 1268.0,961.0 C1268.8,961.0 1269.7,961.0 1270.5,961.0 C1271.3,961.0 1272.2,961.0 1273.0,961.0 C1273.8,961.0 1274.7,961.0 1275.5,961.0 C1276.3,961.0 1277.2,961.0 1278.0,961.0 C1278.8,961.1 1279.7,961.1 1280.5,961.1 C1281.3,961.1 1282.2,961.1 1283.0,961.1 C1283.8,961.1 1284.7,961.1 1285.5,961.1 C1286.3,961.1 1287.2,961.1 1288.0,961.1 C1288.8,961.1 1289.7,961.1 1290.5,961.1 C1291.3,961.1 1292.2,961.1 1293.0,961.1 C1293.8,961.1 1294.7,961.1 1295.5,961.1 C1296.3,961.1 1297.2,961.1 1298.0,961.1 C1298.8,961.1 1299.7,961.1 1300.5,961.1 C1301.3,961.1 1302.2,961.1 1303.0,961.1 C1303.8,961.1 1304.7,961.1 1305.5,961.1 C1306.3,961.1 1307.2,961.1 1308.0,961.1 C1308.8,961.1 1309.7,961.1 1310.5,961.1 C1311.3,961.1 1312.2,961.1 1313.0,961.1 C1313.8,961.1 1314.7,961.1 1315.5,961.1 C1316.3,961.1 1317.5,961.1 1318.0,961.1 C1318.5,961.1 1318.6,961.1 1318.7,961.1" fill="none" stroke="#d81ed8" stroke-width="2.5" stroke-dasharray="12 11" stroke-linejoin="round" />
<path d="M743.0,961.1 C743.4,961.1 744.7,961.1 745.5,961.1 C746.3,961.1 747.2,961.1 748.0,961.1 C748.8,961.1 749.7,961.1 750.5,961.1 C751.3,961.1 752.2,961.1 753.0,961.1 C753.8,961.1 754.7,961.1 755.5,961.1 C756.3,961.1 757.2,961.1 758.0,961.1 C758.8,961.1 759.7,961.1 760.5,961.1 C761.3,961.1 762.2,961.1 763.0,961.1 C763.8,961.1 764.7,961.1 765.5,961.1 C766.3,961.1 767.2,961.1 768.0,961.1 C768.8,961.1 769.7,961.1 770.5,961.1 C771.3,961.1 772.2,961.1 773.0,961.1 C773.8,961.1 774.7,961.1 775.5,961.1 C776.3,961.1 777.2,961.1 778.0,961.1 C778.8,961.1 779.7,961.1 780.5,961.1 C781.3,961.1 782.2,961.1 783.0,961.1 C783.8,961.1 784.7,961.1 785.5,961.1 C786.3,961.1 787.2,961.1 788.0,961.1 C788.8,961.1 789.7,961.1 790.5,961.1 C791.3,961.1 792.2,961.1 793.0,961.1 C793.8,961.1 794.7,961.1 795.5,961.1 C796.3,961.1 797.2,961.1 798.0,961.1 C798.8,961.1 799.7,961.1 800.5,961.1 C801.3,961.1 802.2,961.1 803.0,961.1 C803.8,961.1 804.7,961.1 805.5,961.1 C806.3,961.1 807.2,961.1 808.0,961.1 C808.8,961.1 809.7,961.1 810.5,961.1 C811.3,961.1 812.2,961.1 813.0,961.1 C813.8,961.1 814.7,961.1 815.5,961.1 C816.3,961.1 817.2,961.1 818.0,961.1 C818.8,961.1 819.7,961.1 820.5,961.1 C821.3,961.1 822.2,961.1 823.0,961.1 C823.8,961.1 824.7,961.1 825.5,961.1 C826.3,961.1 827.2,961.1 828.0,961.1 C828.8,961.1 829.7,961.1 830.5,961.1 C831.3,961.1 832.2,961.1 833.0,961.1 C833.8,961.1 834.7,961.1 835.5,961.1 C836.3,961.1 837.2,961.1 838.0,961.1 C838.8,961.1 839.7,961.1 840.5,961.1 C841.3,961.1 842.2,961.1 843.0,961.1 C843.8,961.1 844.7,961.1 845.5,961.1 C846.3,961.1 847.2,961.1 848.0,961.1 C848.8,961.1 849.7,961.1 850.5,961.1 C851.3,961.1 852.2,961.1 853.0,961.1 C853.8,961.1 854.7,961.1 855.5,961.1 C856.3,961.1 857.2,961.1 858.0,961.1 C858.8,961.1 859.7,961.1 860.5,961.1 C861.3,961.1 862.2,961.1 863.0,961.1 C863.8,961.1 864.7,961.1 865.5,961.1 C866.3,961.1 867.2,961.1 868.0,961.1 C868.8,961.1 869.7,961.1 870.5,961.1 C871.3,961.1 872.2,961.1 873.0,961.1 C873.8,961.1 874.7,961.1 875.5,961.1 C876.3,961.1 877.2,961.0 878.0,961.0 C878.8,961.0 879.7,961.0 880.5,961.0 C881.3,961.0 882.2,961.0 883.0,961.0 C883.8,961.0 884.7,961.0 885.5,961.0 C886.3,961.0 887.2,961.0 888.0,961.0 C888.8,961.0 889.7,961.0 890.5,961.0 C891.3,961.0 892.2,961.0 893.0,961.0 C893.8,960.9 894.7,960.9 895.5,960.9 C896.3,960.9 897.2,960.9 898.0,960.9 C898.8,960.9 899.7,960.9 900.5,960.9 C901.3,960.9 902.2,960.8 903.0,960.8 C903.8,960.8 904.7,960.8 905.5,960.8 C906.3,960.8 907.2,960.7 908.0,960.7 C908.8,960.7 909.7,960.7 910.5,960.7 C911.3,960.6 912.2,960.6 913.0,960.6 C913.8,960.6 914.7,960.6 915.5,960.5 C916.3,960.5 917.2,960.5 918.0,960.4 C918.8,960.4 919.7,960.4 920.5,960.3 C921.3,960.3 922.2,960.3 923.0,960.2 C923.8,960.2 924.7,960.1 925.5,960.1 C926.3,960.0 927.2,960.0 928.0,960.0 C928.8,959.9 929.7,959.8 930.5,959.8 C931.3,959.7 932.2,959.7 933.0,959.6 C933.8,959.5 934.7,959.5 935.5,959.4 C936.3,959.3 937.2,959.3 938.0,959.2 C938.8,959.1 939.7,959.0 940.5,958.9 C941.3,958.8 942.2,958.7 943.0,958.6 C943.8,958.5 944.7,958.4 945.5,958.3 C946.3,958.2 947.2,958.1 948.0,957.9 C948.8,957.8 949.7,957.7 950.5,957.6 C951.3,957.4 952.2,957.3 953.0,957.1 C953.8,957.0 954.7,956.8 955.5,956.6 C956.3,956.5 957.2,956.3 958.0,956.1 C958.8,955.9 959.7,955.7 960.5,955.5 C961.3,955.3 962.2,955.1 963.0,954.9 C963.8,954.7 964.7,954.4 965.5,954.2 C966.3,953.9 967.2,953.7 968.0,953.4 C968.8,953.1 969.7,952.9 970.5,952.6 C971.3,952.3 972.2,952.0 973.0,951.7 C973.8,951.3 974.7,951.0 975.5,950.7 C976.3,950.3 977.2,950.0 978.0,949.6 C978.8,949.2 979.7,948.8 980.5,948.4 C981.3,948.0 982.2,947.6 983.0,947.2 C983.8,946.8 984.7,946.3 985.5,945.8 C986.3,945.4 987.2,944.9 988.0,944.4 C988.8,943.9 989.7,943.4 990.5,942.8 C991.3,942.3 992.2,941.8 993.0,941.2 C993.8,940.6 994.7,940.0 995.5,939.4 C996.3,938.8 997.2,938.2 998.0,937.5 C998.8,936.9 999.7,936.2 1000.5,935.5 C1001.3,934.8 1002.2,934.1 1003.0,933.4 C1003.8,932.7 1004.7,931.9 1005.5,931.1 C1006.3,930.4 1007.2,929.6 1008.0,928.8 C1008.8,928.0 1009.7,927.1 1010.5,926.3 C1011.3,925.4 1012.2,924.6 1013.0,923.7 C1013.8,922.8 1014.7,921.9 1015.5,920.9 C1016.3,920.0 1017.2,919.0 1018.0,918.1 C1018.8,917.1 1019.7,916.1 1020.5,915.1 C1021.3,914.1 1022.2,913.0 1023.0,912.0 C1023.8,910.9 1024.7,909.8 1025.5,908.7 C1026.3,907.7 1027.2,906.5 1028.0,905.4 C1028.8,904.3 1029.7,903.1 1030.5,902.0 C1031.3,900.8 1032.2,899.6 1033.0,898.5 C1033.8,897.3 1034.7,896.1 1035.5,894.8 C1036.3,893.6 1037.2,892.4 1038.0,891.1 C1038.8,889.9 1039.7,888.6 1040.5,887.3 C1041.3,886.1 1042.2,884.8 1043.0,883.5 C1043.8,882.2 1044.7,880.9 1045.5,879.6 C1046.3,878.3 1047.2,877.0 1048.0,875.7 C1048.8,874.4 1049.7,873.1 1050.5,871.7 C1051.3,870.4 1052.2,869.1 1053.0,867.8 C1053.8,866.4 1054.7,865.1 1055.5,863.8 C1056.3,862.5 1057.2,861.1 1058.0,859.8 C1058.8,858.5 1059.7,857.2 1060.5,855.9 C1061.3,854.6 1062.2,853.3 1063.0,852.0 C1063.8,850.7 1064.7,849.5 1065.5,848.2 C1066.3,846.9 1067.2,845.7 1068.0,844.4 C1068.8,843.2 1069.7,842.0 1070.5,840.8 C1071.3,839.6 1072.2,838.4 1073.0,837.3 C1073.8,836.1 1074.7,835.0 1075.5,833.9 C1076.3,832.7 1077.2,831.6 1078.0,830.6 C1078.8,829.5 1079.7,828.5 1080.5,827.5 C1081.3,826.5 1082.2,825.5 1083.0,824.5 C1083.8,823.6 1084.7,822.7 1085.5,821.8 C1086.3,820.9 1087.2,820.1 1088.0,819.2 C1088.8,818.4 1089.7,817.7 1090.5,816.9 C1091.3,816.2 1092.2,815.5 1093.0,814.8 C1093.8,814.2 1094.7,813.5 1095.5,813.0 C1096.3,812.4 1097.2,811.8 1098.0,811.3 C1098.8,810.8 1099.7,810.4 1100.5,810.0 C1101.3,809.6 1102.2,809.2 1103.0,808.9 C1103.8,808.6 1104.7,808.3 1105.5,808.1 C1106.3,807.8 1107.2,807.6 1108.0,807.5 C1108.8,807.4 1109.7,807.3 1110.5,807.2 C1111.3,807.2 1112.2,807.2 1113.0,807.2 C1113.8,807.3 1114.7,807.4 1115.5,807.5 C1116.3,807.7 1117.2,807.9 1118.0,808.1 C1118.8,808.3 1119.7,808.6 1120.5,808.9 C1121.3,809.2 1122.2,809.6 1123.0,810.0 C1123.8,810.4 1124.7,810.9 1125.5,811.4 C1126.3,811.9 1127.2,812.4 1128.0,813.0 C1128.8,813.6 1129.7,814.2 1130.5,814.9 C1131.3,815.6 1132.2,816.3 1133.0,817.0 C1133.8,817.7 1134.7,818.5 1135.5,819.3 C1136.3,820.2 1137.2,821.0 1138.0,821.9 C1138.8,822.8 1139.7,823.7 1140.5,824.7 C1141.3,825.6 1142.2,826.6 1143.0,827.6 C1143.8,828.6 1144.7,829.6 1145.5,830.7 C1146.3,831.8 1147.2,832.9 1148.0,834.0 C1148.8,835.1 1149.7,836.2 1150.5,837.4 C1151.3,838.6 1152.2,839.7 1153.0,840.9 C1153.8,842.1 1154.7,843.4 1155.5,844.6 C1156.3,845.8 1157.2,847.1 1158.0,848.3 C1158.8,849.6 1159.7,850.9 1160.5,852.2 C1161.3,853.5 1162.2,854.7 1163.0,856.1 C1163.8,857.4 1164.7,858.7 1165.5,860.0 C1166.3,861.3 1167.2,862.6 1168.0,863.9 C1168.8,865.3 1169.7,866.6 1170.5,867.9 C1171.3,869.2 1172.2,870.6 1173.0,871.9 C1173.8,873.2 1174.7,874.5 1175.5,875.8 C1176.3,877.2 1177.2,878.5 1178.0,879.8 C1178.8,881.1 1179.7,882.4 1180.5,883.7 C1181.3,885.0 1182.2,886.2 1183.0,887.5 C1183.8,888.8 1184.7,890.0 1185.5,891.3 C1186.3,892.5 1187.2,893.8 1188.0,895.0 C1188.8,896.2 1189.7,897.4 1190.5,898.6 C1191.3,899.8 1192.2,901.0 1193.0,902.1 C1193.8,903.3 1194.7,904.4 1195.5,905.5 C1196.3,906.7 1197.2,907.8 1198.0,908.9 C1198.8,910.0 1199.7,911.0 1200.5,912.1 C1201.3,913.1 1202.2,914.2 1203.0,915.2 C1203.8,916.2 1204.7,917.2 1205.5,918.2 C1206.3,919.1 1207.2,920.1 1208.0,921.0 C1208.8,922.0 1209.7,922.9 1210.5,923.8 C1211.3,924.7 1212.2,925.5 1213.0,926.4 C1213.8,927.2 1214.7,928.1 1215.5,928.9 C1216.3,929.7 1217.2,930.5 1218.0,931.2 C1218.8,932.0 1219.7,932.8 1220.5,933.5 C1221.3,934.2 1222.2,934.9 1223.0,935.6 C1223.8,936.3 1224.7,937.0 1225.5,937.6 C1226.3,938.2 1227.2,938.9 1228.0,939.5 C1228.8,940.1 1229.7,940.7 1230.5,941.2 C1231.3,941.8 1232.2,942.4 1233.0,942.9 C1233.8,943.4 1234.7,944.0 1235.5,944.5 C1236.3,945.0 1237.2,945.4 1238.0,945.9 C1238.8,946.4 1239.7,946.8 1240.5,947.2 C1241.3,947.7 1242.2,948.1 1243.0,948.5 C1243.8,948.9 1244.7,949.3 1245.5,949.6 C1246.3,950.0 1247.2,950.4 1248.0,950.7 C1248.8,951.1 1249.7,951.4 1250.5,951.7 C1251.3,952.0 1252.2,952.3 1253.0,952.6 C1253.8,952.9 1254.7,953.2 1255.5,953.4 C1256.3,953.7 1257.2,954.0 1258.0,954.2 C1258.8,954.5 1259.7,954.7 1260.5,954.9 C1261.3,955.1 1262.2,955.3 1263.0,955.5 C1263.8,955.7 1264.7,955.9 1265.5,956.1 C1266.3,956.3 1267.2,956.5 1268.0,956.7 C1268.8,956.8 1269.7,957.0 1270.5,957.1 C1271.3,957.3 1272.2,957.4 1273.0,957.6 C1273.8,957.7 1274.7,957.8 1275.5,958.0 C1276.3,958.1 1277.2,958.2 1278.0,958.3 C1278.8,958.4 1279.7,958.5 1280.5,958.6 C1281.3,958.7 1282.2,958.8 1283.0,958.9 C1283.8,959.0 1284.7,959.1 1285.5,959.2 C1286.3,959.3 1287.2,959.3 1288.0,959.4 C1288.8,959.5 1289.7,959.5 1290.5,959.6 C1291.3,959.7 1292.2,959.7 1293.0,959.8 C1293.8,959.9 1294.7,959.9 1295.5,960.0 C1296.3,960.0 1297.2,960.1 1298.0,960.1 C1298.8,960.1 1299.7,960.2 1300.5,960.2 C1301.3,960.3 1302.2,960.3 1303.0,960.3 C1303.8,960.4 1304.7,960.4 1305.5,960.4 C1306.3,960.5 1307.2,960.5 1308.0,960.5 C1308.8,960.6 1309.7,960.6 1310.5,960.6 C1311.3,960.6 1312.2,960.6 1313.0,960.7 C1313.8,960.7 1314.7,960.7 1315.5,960.7 C1316.3,960.7 1317.5,960.8 1318.0,960.8 C1318.5,960.8 1318.6,960.8 1318.7,960.8" fill="none" stroke="#6e6e12" stroke-width="2.5" stroke-dasharray="11 4 3.5 4 3.5 4" stroke-linejoin="round" />
<path d="M743.0,961.1 C743.4,961.1 744.7,961.1 745.5,961.1 C746.3,961.1 747.2,961.1 748.0,961.1 C748.8,961.1 749.7,961.1 750.5,961.1 C751.3,961.1 752.2,961.1 753.0,961.1 C753.8,961.1 754.7,961.1 755.5,961.1 C756.3,961.1 757.2,961.1 758.0,961.1 C758.8,961.1 759.7,961.1 760.5,961.1 C761.3,961.1 762.2,961.1 763.0,961.1 C763.8,961.1 764.7,961.1 765.5,961.1 C766.3,961.1 767.2,961.1 768.0,961.1 C768.8,961.1 769.7,961.1 770.5,961.1 C771.3,961.1 772.2,961.1 773.0,961.1 C773.8,961.1 774.7,961.1 775.5,961.1 C776.3,961.1 777.2,961.1 778.0,961.1 C778.8,961.1 779.7,961.1 780.5,961.1 C781.3,961.1 782.2,961.1 783.0,961.1 C783.8,961.1 784.7,961.1 785.5,961.1 C786.3,961.1 787.2,961.1 788.0,961.1 C788.8,961.1 789.7,961.1 790.5,961.1 C791.3,961.1 792.2,961.1 793.0,961.1 C793.8,961.1 794.7,961.1 795.5,961.1 C796.3,961.1 797.2,961.1 798.0,961.1 C798.8,961.1 799.7,961.1 800.5,961.1 C801.3,961.1 802.2,961.1 803.0,961.1 C803.8,961.1 804.7,961.1 805.5,961.1 C806.3,961.1 807.2,961.1 808.0,961.1 C808.8,961.1 809.7,961.1 810.5,961.1 C811.3,961.1 812.2,961.1 813.0,961.1 C813.8,961.1 814.7,961.1 815.5,961.1 C816.3,961.1 817.2,961.1 818.0,961.1 C818.8,961.1 819.7,961.1 820.5,961.1 C821.3,961.1 822.2,961.1 823.0,961.1 C823.8,961.1 824.7,961.1 825.5,961.1 C826.3,961.1 827.2,961.1 828.0,961.1 C828.8,961.1 829.7,961.1 830.5,961.1 C831.3,961.1 832.2,961.1 833.0,961.1 C833.8,961.1 834.7,961.1 835.5,961.1 C836.3,961.1 837.2,961.1 838.0,961.1 C838.8,961.1 839.7,961.1 840.5,961.1 C841.3,961.1 842.2,961.1 843.0,961.1 C843.8,961.1 844.7,961.1 845.5,961.1 C846.3,961.1 847.2,961.1 848.0,961.1 C848.8,961.1 849.7,961.1 850.5,961.1 C851.3,961.1 852.2,961.1 853.0,961.1 C853.8,961.1 854.7,961.1 855.5,961.1 C856.3,961.1 857.2,961.1 858.0,961.1 C858.8,961.1 859.7,961.1 860.5,961.1 C861.3,961.1 862.2,961.1 863.0,961.1 C863.8,961.1 864.7,961.1 865.5,961.1 C866.3,961.1 867.2,961.1 868.0,961.1 C868.8,961.1 869.7,961.1 870.5,961.1 C871.3,961.1 872.2,961.1 873.0,961.1 C873.8,961.1 874.7,961.1 875.5,961.1 C876.3,961.1 877.2,961.1 878.0,961.1 C878.8,961.1 879.7,961.1 880.5,961.1 C881.3,961.1 882.2,961.1 883.0,961.1 C883.8,961.1 884.7,961.1 885.5,961.1 C886.3,961.1 887.2,961.1 888.0,961.1 C888.8,961.1 889.7,961.1 890.5,961.1 C891.3,961.1 892.2,961.1 893.0,961.1 C893.8,961.1 894.7,961.1 895.5,961.1 C896.3,961.1 897.2,961.1 898.0,961.1 C898.8,961.1 899.7,961.1 900.5,961.1 C901.3,961.1 902.2,961.1 903.0,961.1 C903.8,961.1 904.7,961.1 905.5,961.1 C906.3,961.1 907.2,961.1 908.0,961.1 C908.8,961.1 909.7,961.1 910.5,961.1 C911.3,961.1 912.2,961.1 913.0,961.1 C913.8,961.1 914.7,961.1 915.5,961.1 C916.3,961.1 917.2,961.1 918.0,961.1 C918.8,961.1 919.7,961.1 920.5,961.1 C921.3,961.1 922.2,961.1 923.0,961.1 C923.8,961.1 924.7,961.1 925.5,961.1 C926.3,961.1 927.2,961.1 928.0,961.1 C928.8,961.1 929.7,961.1 930.5,961.1 C931.3,961.1 932.2,961.1 933.0,961.1 C933.8,961.1 934.7,961.1 935.5,961.1 C936.3,961.1 937.2,961.1 938.0,961.1 C938.8,961.1 939.7,961.1 940.5,961.1 C941.3,961.1 942.2,961.1 943.0,961.1 C943.8,961.1 944.7,961.1 945.5,961.1 C946.3,961.1 947.2,961.1 948.0,961.1 C948.8,961.1 949.7,961.1 950.5,961.1 C951.3,961.1 952.2,961.1 953.0,961.1 C953.8,961.1 954.7,961.1 955.5,961.1 C956.3,961.1 957.2,961.1 958.0,961.1 C958.8,961.1 959.7,961.1 960.5,961.1 C961.3,961.1 962.2,961.0 963.0,961.0 C963.8,961.0 964.7,961.0 965.5,961.0 C966.3,961.0 967.2,961.0 968.0,961.0 C968.8,961.0 969.7,961.0 970.5,961.0 C971.3,961.0 972.2,961.0 973.0,961.0 C973.8,961.0 974.7,961.0 975.5,961.0 C976.3,961.0 977.2,961.0 978.0,960.9 C978.8,960.9 979.7,960.9 980.5,960.9 C981.3,960.9 982.2,960.9 983.0,960.9 C983.8,960.9 984.7,960.9 985.5,960.8 C986.3,960.8 987.2,960.8 988.0,960.8 C988.8,960.8 989.7,960.8 990.5,960.7 C991.3,960.7 992.2,960.7 993.0,960.7 C993.8,960.7 994.7,960.6 995.5,960.6 C996.3,960.6 997.2,960.6 998.0,960.5 C998.8,960.5 999.7,960.5 1000.5,960.4 C1001.3,960.4 1002.2,960.4 1003.0,960.3 C1003.8,960.3 1004.7,960.3 1005.5,960.2 C1006.3,960.2 1007.2,960.1 1008.0,960.1 C1008.8,960.0 1009.7,960.0 1010.5,959.9 C1011.3,959.9 1012.2,959.8 1013.0,959.7 C1013.8,959.7 1014.7,959.6 1015.5,959.5 C1016.3,959.5 1017.2,959.4 1018.0,959.3 C1018.8,959.2 1019.7,959.1 1020.5,959.0 C1021.3,959.0 1022.2,958.9 1023.0,958.8 C1023.8,958.6 1024.7,958.5 1025.5,958.4 C1026.3,958.3 1027.2,958.2 1028.0,958.1 C1028.8,957.9 1029.7,957.8 1030.5,957.7 C1031.3,957.5 1032.2,957.4 1033.0,957.2 C1033.8,957.0 1034.7,956.9 1035.5,956.7 C1036.3,956.5 1037.2,956.3 1038.0,956.1 C1038.8,955.9 1039.7,955.7 1040.5,955.5 C1041.3,955.3 1042.2,955.1 1043.0,954.8 C1043.8,954.6 1044.7,954.4 1045.5,954.1 C1046.3,953.8 1047.2,953.6 1048.0,953.3 C1048.8,953.0 1049.7,952.7 1050.5,952.4 C1051.3,952.1 1052.2,951.7 1053.0,951.4 C1053.8,951.0 1054.7,950.7 1055.5,950.3 C1056.3,949.9 1057.2,949.6 1058.0,949.2 C1058.8,948.8 1059.7,948.3 1060.5,947.9 C1061.3,947.5 1062.2,947.0 1063.0,946.5 C1063.8,946.1 1064.7,945.6 1065.5,945.1 C1066.3,944.6 1067.2,944.0 1068.0,943.5 C1068.8,942.9 1069.7,942.4 1070.5,941.8 C1071.3,941.2 1072.2,940.6 1073.0,940.0 C1073.8,939.3 1074.7,938.7 1075.5,938.0 C1076.3,937.4 1077.2,936.7 1078.0,936.0 C1078.8,935.3 1079.7,934.5 1080.5,933.8 C1081.3,933.0 1082.2,932.3 1083.0,931.5 C1083.8,930.7 1084.7,929.9 1085.5,929.0 C1086.3,928.2 1087.2,927.3 1088.0,926.4 C1088.8,925.6 1089.7,924.7 1090.5,923.7 C1091.3,922.8 1092.2,921.9 1093.0,920.9 C1093.8,919.9 1094.7,919.0 1095.5,917.9 C1096.3,916.9 1097.2,915.9 1098.0,914.9 C1098.8,913.8 1099.7,912.8 1100.5,911.7 C1101.3,910.6 1102.2,909.5 1103.0,908.4 C1103.8,907.3 1104.7,906.1 1105.5,905.0 C1106.3,903.8 1107.2,902.7 1108.0,901.5 C1108.8,900.3 1109.7,899.1 1110.5,897.9 C1111.3,896.7 1112.2,895.5 1113.0,894.3 C1113.8,893.0 1114.7,891.8 1115.5,890.6 C1116.3,889.3 1117.2,888.1 1118.0,886.8 C1118.8,885.5 1119.7,884.3 1120.5,883.0 C1121.3,881.7 1122.2,880.4 1123.0,879.2 C1123.8,877.9 1124.7,876.6 1125.5,875.3 C1126.3,874.1 1127.2,872.8 1128.0,871.5 C1128.8,870.3 1129.7,869.0 1130.5,867.7 C1131.3,866.5 1132.2,865.2 1133.0,864.0 C1133.8,862.8 1134.7,861.5 1135.5,860.3 C1136.3,859.1 1137.2,857.9 1138.0,856.7 C1138.8,855.5 1139.7,854.3 1140.5,853.2 C1141.3,852.0 1142.2,850.9 1143.0,849.8 C1143.8,848.7 1144.7,847.6 1145.5,846.5 C1146.3,845.5 1147.2,844.5 1148.0,843.4 C1148.8,842.4 1149.7,841.5 1150.5,840.5 C1151.3,839.6 1152.2,838.6 1153.0,837.8 C1153.8,836.9 1154.7,836.0 1155.5,835.2 C1156.3,834.4 1157.2,833.6 1158.0,832.9 C1158.8,832.2 1159.7,831.5 1160.5,830.8 C1161.3,830.1 1162.2,829.5 1163.0,829.0 C1163.8,828.4 1164.7,827.8 1165.5,827.4 C1166.3,826.9 1167.2,826.4 1168.0,826.0 C1168.8,825.6 1169.7,825.3 1170.5,825.0 C1171.3,824.7 1172.2,824.4 1173.0,824.2 C1173.8,824.0 1174.7,823.8 1175.5,823.7 C1176.3,823.6 1177.2,823.5 1178.0,823.5 C1178.8,823.5 1179.7,823.5 1180.5,823.6 C1181.3,823.7 1182.2,823.8 1183.0,824.0 C1183.8,824.1 1184.7,824.4 1185.5,824.6 C1186.3,824.9 1187.2,825.2 1188.0,825.6 C1188.8,825.9 1189.7,826.3 1190.5,826.8 C1191.3,827.2 1192.2,827.7 1193.0,828.3 C1193.8,828.8 1194.7,829.4 1195.5,830.0 C1196.3,830.7 1197.2,831.3 1198.0,832.0 C1198.8,832.7 1199.7,833.5 1200.5,834.3 C1201.3,835.0 1202.2,835.9 1203.0,836.7 C1203.8,837.6 1204.7,838.5 1205.5,839.4 C1206.3,840.3 1207.2,841.3 1208.0,842.3 C1208.8,843.2 1209.7,844.2 1210.5,845.3 C1211.3,846.3 1212.2,847.4 1213.0,848.5 C1213.8,849.6 1214.7,850.7 1215.5,851.8 C1216.3,853.0 1217.2,854.1 1218.0,855.3 C1218.8,856.5 1219.7,857.6 1220.5,858.9 C1221.3,860.1 1222.2,861.3 1223.0,862.5 C1223.8,863.7 1224.7,865.0 1225.5,866.2 C1226.3,867.5 1227.2,868.7 1228.0,870.0 C1228.8,871.3 1229.7,872.5 1230.5,873.8 C1231.3,875.1 1232.2,876.4 1233.0,877.6 C1233.8,878.9 1234.7,880.2 1235.5,881.5 C1236.3,882.7 1237.2,884.0 1238.0,885.3 C1238.8,886.5 1239.7,887.8 1240.5,889.1 C1241.3,890.3 1242.2,891.6 1243.0,892.8 C1243.8,894.0 1244.7,895.3 1245.5,896.5 C1246.3,897.7 1247.2,898.9 1248.0,900.1 C1248.8,901.3 1249.7,902.4 1250.5,903.6 C1251.3,904.8 1252.2,905.9 1253.0,907.0 C1253.8,908.2 1254.7,909.3 1255.5,910.4 C1256.3,911.5 1257.2,912.6 1258.0,913.6 C1258.8,914.7 1259.7,915.7 1260.5,916.7 C1261.3,917.8 1262.2,918.8 1263.0,919.7 C1263.8,920.7 1264.7,921.7 1265.5,922.6 C1266.3,923.6 1267.2,924.5 1268.0,925.4 C1268.8,926.3 1269.7,927.1 1270.5,928.0 C1271.3,928.9 1272.2,929.7 1273.0,930.5 C1273.8,931.3 1274.7,932.1 1275.5,932.9 C1276.3,933.6 1277.2,934.4 1278.0,935.1 C1278.8,935.8 1279.7,936.5 1280.5,937.2 C1281.3,937.9 1282.2,938.6 1283.0,939.2 C1283.8,939.9 1284.7,940.5 1285.5,941.1 C1286.3,941.7 1287.2,942.3 1288.0,942.8 C1288.8,943.4 1289.7,943.9 1290.5,944.4 C1291.3,945.0 1292.2,945.5 1293.0,946.0 C1293.8,946.4 1294.7,946.9 1295.5,947.4 C1296.3,947.8 1297.2,948.2 1298.0,948.7 C1298.8,949.1 1299.7,949.5 1300.5,949.9 C1301.3,950.3 1302.2,950.6 1303.0,951.0 C1303.8,951.3 1304.7,951.7 1305.5,952.0 C1306.3,952.3 1307.2,952.6 1308.0,952.9 C1308.8,953.2 1309.7,953.5 1310.5,953.8 C1311.3,954.0 1312.2,954.3 1313.0,954.6 C1313.8,954.8 1314.7,955.0 1315.5,955.3 C1316.3,955.5 1317.5,955.8 1318.0,955.9 C1318.5,956.0 1318.6,956.0 1318.7,956.1" fill="none" stroke="#f08020" stroke-width="2.5" stroke-dasharray="8.6 3 1.5 3" stroke-linejoin="round" />
<path d="M743.1,961.1 C743.6,960.8 745.1,959.9 746.1,959.4 C747.1,958.9 748.1,958.5 749.1,958.1 C750.1,957.8 751.1,957.5 752.1,957.2 C753.1,956.9 754.1,956.7 755.1,956.5 C756.1,956.2 757.1,956.0 758.1,955.7 C759.1,955.4 760.1,955.1 761.2,954.8 C762.2,954.4 763.2,954.0 764.2,953.5 C765.2,953.0 766.2,952.5 767.2,951.8 C768.2,951.1 769.2,950.3 770.2,949.3 C771.2,948.4 772.2,947.3 773.2,946.1 C774.2,944.9 775.2,943.5 776.2,941.9 C777.2,940.3 778.2,938.5 779.2,936.5 C780.2,934.5 781.2,932.2 782.2,929.8 C783.2,927.3 784.2,924.6 785.2,921.6 C786.2,918.6 787.2,915.3 788.2,911.7 C789.2,908.1 790.2,904.2 791.2,900.1 C792.2,895.9 793.2,891.3 794.2,886.8 C795.2,882.2 796.2,877.3 797.3,872.5 C798.3,867.8 799.3,862.9 800.3,858.1 C801.3,853.4 802.3,848.7 803.3,844.2 C804.3,839.7 805.3,835.3 806.3,831.1 C807.3,826.9 808.3,822.9 809.3,819.1 C810.3,815.3 811.3,811.8 812.3,808.5 C813.3,805.2 814.3,802.1 815.3,799.1 C816.3,796.1 817.3,793.3 818.3,790.6 C819.3,787.9 820.3,785.3 821.3,782.7 C822.3,780.2 823.3,777.7 824.3,775.3 C825.3,772.9 826.3,770.5 827.3,768.2 C828.3,766.0 829.3,763.8 830.3,761.6 C831.3,759.5 832.3,757.5 833.4,755.5 C834.4,753.6 835.4,751.8 836.4,750.0 C837.4,748.2 838.4,746.5 839.4,744.8 C840.4,743.1 841.4,741.4 842.4,739.7 C843.4,737.9 844.4,736.2 845.4,734.3 C846.4,732.5 847.4,730.5 848.4,728.5 C849.4,726.5 850.4,724.4 851.4,722.3 C852.4,720.3 853.4,718.1 854.4,716.2 C855.4,714.2 856.4,712.2 857.4,710.4 C858.4,708.7 859.4,707.0 860.4,705.6 C861.4,704.2 862.4,703.0 863.4,701.9 C864.4,700.8 865.4,699.9 866.4,699.2 C867.4,698.5 868.4,697.9 869.5,697.5 C870.5,697.0 871.5,696.7 872.5,696.6 C873.5,696.4 874.5,696.4 875.5,696.5 C876.5,696.6 877.5,696.8 878.5,697.2 C879.5,697.5 880.5,697.9 881.5,698.4 C882.5,698.9 883.5,699.5 884.5,700.1 C885.5,700.8 886.5,701.5 887.5,702.3 C888.5,703.1 889.5,703.9 890.5,704.8 C891.5,705.6 892.5,706.5 893.5,707.5 C894.5,708.4 895.5,709.3 896.5,710.3 C897.5,711.2 898.5,712.2 899.5,713.1 C900.5,714.0 901.5,714.9 902.5,715.8 C903.5,716.7 904.5,717.6 905.6,718.4 C906.6,719.2 907.6,720.0 908.6,720.7 C909.6,721.4 910.6,722.0 911.6,722.6 C912.6,723.2 913.6,723.7 914.6,724.0 C915.6,724.4 916.6,724.7 917.6,724.9 C918.6,725.1 919.6,725.2 920.6,725.2 C921.6,725.1 922.6,725.0 923.6,724.8 C924.6,724.6 925.6,724.2 926.6,723.9 C927.6,723.6 928.6,723.2 929.6,722.8 C930.6,722.5 931.6,722.0 932.6,721.6 C933.6,721.2 934.6,720.8 935.6,720.4 C936.6,720.0 937.6,719.6 938.6,719.2 C939.6,718.7 940.7,718.3 941.7,717.9 C942.7,717.5 943.7,717.1 944.7,716.7 C945.7,716.3 946.7,715.9 947.7,715.5 C948.7,715.1 949.7,714.7 950.7,714.3 C951.7,713.9 952.7,713.5 953.7,713.1 C954.7,712.6 955.7,712.2 956.7,711.7 C957.7,711.1 958.7,710.6 959.7,710.0 C960.7,709.4 961.7,708.7 962.7,708.0 C963.7,707.2 964.7,706.4 965.7,705.6 C966.7,704.7 967.7,703.7 968.7,702.6 C969.7,701.6 970.7,700.4 971.7,699.1 C972.7,697.9 973.7,696.5 974.7,695.0 C975.7,693.4 976.8,691.8 977.8,690.0 C978.8,688.3 979.8,686.4 980.8,684.4 C981.8,682.5 982.8,680.4 983.8,678.4 C984.8,676.4 985.8,674.3 986.8,672.3 C987.8,670.3 988.8,668.3 989.8,666.4 C990.8,664.6 991.8,662.8 992.8,661.1 C993.8,659.5 994.8,658.1 995.8,656.7 C996.8,655.4 997.8,654.2 998.8,653.0 C999.8,651.9 1000.8,650.8 1001.8,649.8 C1002.8,648.8 1003.8,647.9 1004.8,647.0 C1005.8,646.1 1006.8,645.2 1007.8,644.3 C1008.8,643.4 1009.8,642.5 1010.8,641.6 C1011.8,640.6 1012.9,639.6 1013.9,638.6 C1014.9,637.6 1015.9,636.5 1016.9,635.4 C1017.9,634.4 1018.9,633.3 1019.9,632.3 C1020.9,631.2 1021.9,630.2 1022.9,629.2 C1023.9,628.3 1024.9,627.4 1025.9,626.5 C1026.9,625.7 1027.9,624.9 1028.9,624.3 C1029.9,623.7 1030.9,623.1 1031.9,622.7 C1032.9,622.3 1033.9,622.0 1034.9,621.8 C1035.9,621.6 1036.9,621.5 1037.9,621.5 C1038.9,621.4 1039.9,621.5 1040.9,621.7 C1041.9,621.8 1042.9,622.1 1043.9,622.4 C1044.9,622.7 1045.9,623.1 1046.9,623.5 C1047.9,623.9 1049.0,624.4 1050.0,624.9 C1051.0,625.5 1052.0,626.0 1053.0,626.6 C1054.0,627.2 1055.0,627.9 1056.0,628.5 C1057.0,629.1 1058.0,629.8 1059.0,630.5 C1060.0,631.1 1061.0,631.8 1062.0,632.5 C1063.0,633.2 1064.0,633.9 1065.0,634.5 C1066.0,635.1 1067.0,635.8 1068.0,636.4 C1069.0,637.0 1070.0,637.6 1071.0,638.1 C1072.0,638.6 1073.0,639.1 1074.0,639.6 C1075.0,640.0 1076.0,640.4 1077.0,640.7 C1078.0,641.0 1079.0,641.3 1080.0,641.5 C1081.0,641.7 1082.0,641.8 1083.0,641.9 C1084.0,642.0 1085.1,642.1 1086.1,642.1 C1087.1,642.1 1088.1,642.1 1089.1,642.1 C1090.1,642.1 1091.1,642.1 1092.1,642.1 C1093.1,642.1 1094.1,642.1 1095.1,642.2 C1096.1,642.2 1097.1,642.2 1098.1,642.3 C1099.1,642.4 1100.1,642.5 1101.1,642.7 C1102.1,642.9 1103.1,643.1 1104.1,643.4 C1105.1,643.7 1106.1,644.0 1107.1,644.5 C1108.1,644.9 1109.1,645.4 1110.1,646.0 C1111.1,646.7 1112.1,647.4 1113.1,648.2 C1114.1,649.0 1115.1,650.0 1116.1,650.9 C1117.1,651.9 1118.1,652.9 1119.1,653.9 C1120.1,654.8 1121.2,655.8 1122.2,656.8 C1123.2,657.8 1124.2,658.7 1125.2,659.6 C1126.2,660.6 1127.2,661.5 1128.2,662.4 C1129.2,663.3 1130.2,664.2 1131.2,665.2 C1132.2,666.1 1133.2,667.0 1134.2,667.9 C1135.2,668.8 1136.2,669.8 1137.2,670.7 C1138.2,671.7 1139.2,672.6 1140.2,673.6 C1141.2,674.6 1142.2,675.6 1143.2,676.6 C1144.2,677.6 1145.2,678.7 1146.2,679.7 C1147.2,680.8 1148.2,682.0 1149.2,683.1 C1150.2,684.3 1151.2,685.5 1152.2,686.8 C1153.2,688.0 1154.2,689.3 1155.2,690.7 C1156.3,692.1 1157.3,693.5 1158.3,695.0 C1159.3,696.5 1160.3,698.0 1161.3,699.7 C1162.3,701.3 1163.3,703.0 1164.3,704.7 C1165.3,706.5 1166.3,708.3 1167.3,710.2 C1168.3,712.0 1169.3,714.0 1170.3,715.9 C1171.3,717.9 1172.3,720.0 1173.3,722.1 C1174.3,724.2 1175.3,726.3 1176.3,728.5 C1177.3,730.7 1178.3,733.0 1179.3,735.3 C1180.3,737.6 1181.3,740.0 1182.3,742.4 C1183.3,744.8 1184.3,747.3 1185.3,749.8 C1186.3,752.3 1187.3,754.9 1188.3,757.4 C1189.3,760.0 1190.3,762.7 1191.3,765.3 C1192.4,768.0 1193.4,770.7 1194.4,773.3 C1195.4,776.0 1196.4,778.7 1197.4,781.4 C1198.4,784.1 1199.4,786.8 1200.4,789.5 C1201.4,792.2 1202.4,794.9 1203.4,797.5 C1204.4,800.1 1205.4,802.8 1206.4,805.3 C1207.4,807.9 1208.4,810.4 1209.4,812.9 C1210.4,815.4 1211.4,817.8 1212.4,820.2 C1213.4,822.5 1214.4,824.8 1215.4,827.1 C1216.4,829.4 1217.4,831.6 1218.4,833.8 C1219.4,836.0 1220.4,838.2 1221.4,840.4 C1222.4,842.5 1223.4,844.7 1224.4,846.8 C1225.4,849.0 1226.4,851.1 1227.4,853.3 C1228.5,855.4 1229.5,857.6 1230.5,859.7 C1231.5,861.9 1232.5,864.1 1233.5,866.2 C1234.5,868.3 1235.5,870.5 1236.5,872.6 C1237.5,874.7 1238.5,876.9 1239.5,879.0 C1240.5,881.0 1241.5,883.1 1242.5,885.2 C1243.5,887.2 1244.5,889.2 1245.5,891.2 C1246.5,893.2 1247.5,895.1 1248.5,897.0 C1249.5,898.9 1250.5,900.8 1251.5,902.6 C1252.5,904.4 1253.5,906.2 1254.5,907.9 C1255.5,909.6 1256.5,911.2 1257.5,912.8 C1258.5,914.4 1259.5,915.9 1260.5,917.4 C1261.5,918.8 1262.5,920.2 1263.5,921.6 C1264.6,922.9 1265.6,924.2 1266.6,925.5 C1267.6,926.7 1268.6,927.9 1269.6,929.1 C1270.6,930.2 1271.6,931.3 1272.6,932.4 C1273.6,933.4 1274.6,934.5 1275.6,935.5 C1276.6,936.4 1277.6,937.4 1278.6,938.3 C1279.6,939.2 1280.6,940.1 1281.6,941.0 C1282.6,941.9 1283.6,942.7 1284.6,943.5 C1285.6,944.4 1286.6,945.2 1287.6,945.9 C1288.6,946.7 1289.6,947.5 1290.6,948.3 C1291.6,949.0 1292.6,949.8 1293.6,950.5 C1294.6,951.3 1295.6,952.0 1296.6,952.7 C1297.6,953.5 1298.6,954.2 1299.6,954.9 C1300.7,955.6 1301.7,956.3 1302.7,956.9 C1303.7,957.6 1304.7,958.2 1305.7,958.7 C1306.7,959.2 1307.7,959.7 1308.7,960.1 C1309.7,960.5 1310.7,960.8 1311.7,961.0 C1312.7,961.2 1313.7,961.3 1314.7,961.3 C1315.7,961.3 1317.2,961.0 1317.7,960.9" fill="none" stroke="#111" stroke-width="1.3"  stroke-linejoin="round" />
<line x1="1207.7" y1="551.1" x2="1244.1" y2="551.1" stroke="#111" stroke-width="1.3" />
<text x="1248.8" y="557" font-size="13" letter-spacing="3.2" fill="#1e1e1e">HCO</text>
<text x="1283.3" y="561.7" font-size="13" text-anchor="start" font-weight="400" letter-spacing="0" fill="#1e1e1e" >3</text>
<text x="1294.0" y="548.0" font-size="10" text-anchor="start" font-weight="400" letter-spacing="0" fill="#1e1e1e" >-</text>
<line x1="1206.8" y1="586.8" x2="1237.5" y2="586.8" stroke="#e8141c" stroke-width="2.6" stroke-dasharray="11.5 9.4"/>
<text x="1249.3" y="592.0" font-size="13.7" letter-spacing="0.6" fill="#1e1e1e">1412 cm<tspan font-size="13" dy="-8" dx="1">-1</tspan></text>
<line x1="1206.8" y1="616.8" x2="1244.0" y2="616.8" stroke="#1ed21e" stroke-width="2.6" stroke-dasharray="13 4.3 3.6 5"/>
<text x="1249.3" y="622.0" font-size="13.7" letter-spacing="0.6" fill="#1e1e1e">1402 cm<tspan font-size="13" dy="-8" dx="1">-1</tspan></text>
<line x1="1206.8" y1="645.2" x2="1244.0" y2="645.2" stroke="#0c0cc0" stroke-width="2.6" stroke-dasharray="13 4.3 3.6 5"/>
<text x="1249.3" y="650.4" font-size="13.7" letter-spacing="0.6" fill="#1e1e1e">1395 cm<tspan font-size="13" dy="-8" dx="1">-1</tspan></text>
<line x1="1206.8" y1="674.4" x2="1237.5" y2="674.4" stroke="#d81ed8" stroke-width="2.6" stroke-dasharray="9.4 10.8"/>
<text x="1249.3" y="679.6" font-size="13.7" letter-spacing="0.6" fill="#1e1e1e">1391 cm<tspan font-size="13" dy="-8" dx="1">-1</tspan></text>
<line x1="1206.8" y1="702.5" x2="1232.4" y2="702.5" stroke="#6e6e12" stroke-width="2.6" stroke-dasharray="10.8 3.6 3.6 3.6 3.6 20"/>
<text x="1249.3" y="707.7" font-size="13.7" letter-spacing="0.6" fill="#1e1e1e">1382 cm<tspan font-size="13" dy="-8" dx="1">-1</tspan></text>
<line x1="1206.8" y1="732.0" x2="1235.0" y2="732.0" stroke="#f08020" stroke-width="2.6" stroke-dasharray="8.6 2.9 1.4 3"/>
<text x="1249.3" y="737.2" font-size="13.7" letter-spacing="0.6" fill="#1e1e1e">1377 cm<tspan font-size="13" dy="-8" dx="1">-1</tspan></text>
<text class="t" x="1139" y="780.5" font-size="20.5" letter-spacing="0" fill="#1e1e1e">1377 cm<tspan font-size="9" dy="-11" dx="2">-1</tspan></text>
<line x1="1177.9" y1="794.6" x2="1177.9" y2="808.0" stroke="#000" stroke-width="1.4" />
<path d="M1174.6,806.6 L1181.2,806.6 L1177.9,819 Z" fill="#000"/>
<rect x="741.5" y="533.0" width="65.0" height="70.5" stroke="#000" stroke-width="2.6" fill="#fff"/>
<text transform="translate(777.6,574.2) scale(1.05,1.09)" font-size="26" text-anchor="middle" font-weight="700" fill="#000">d</text>
</svg></body></html>
